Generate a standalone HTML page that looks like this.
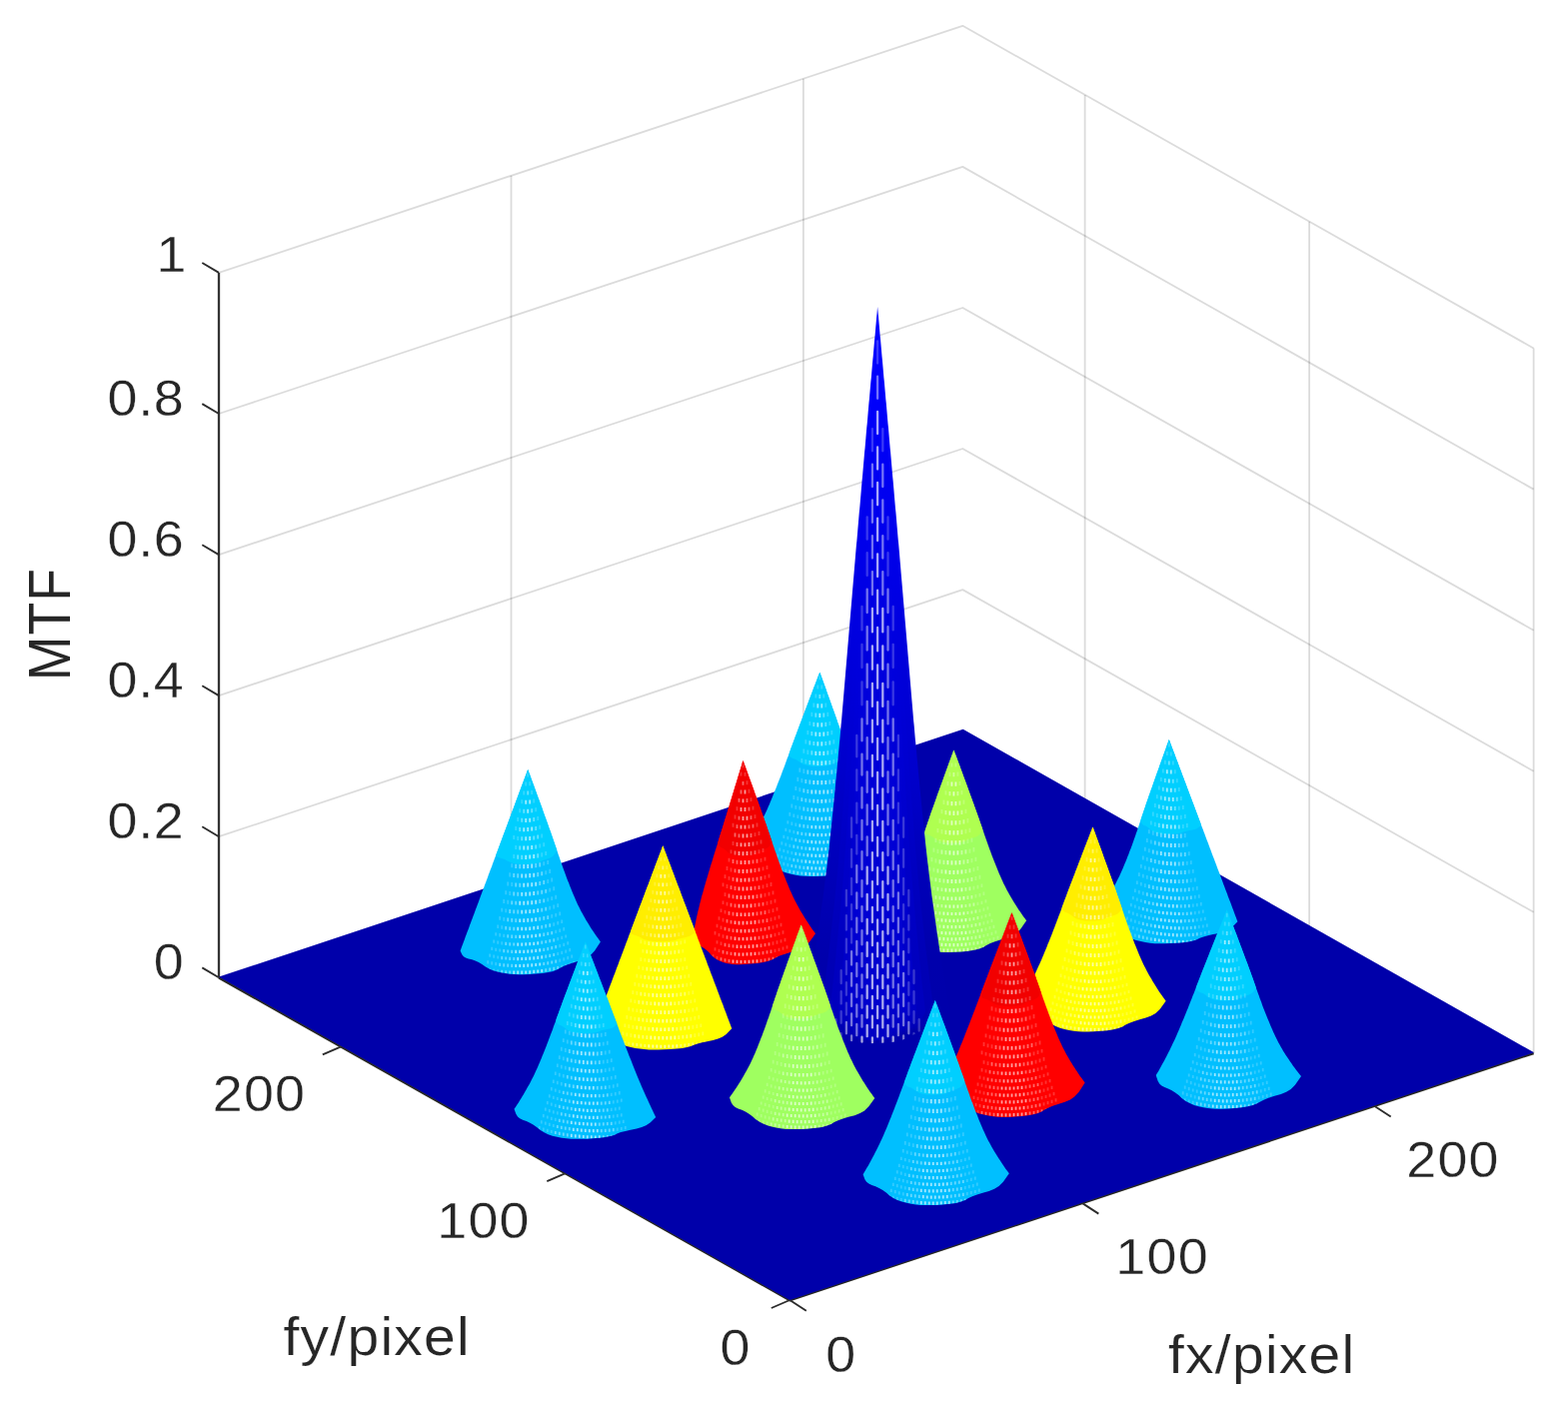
<!DOCTYPE html>
<html lang="en"><head><meta charset="utf-8"><title>MTF</title>
<style>html,body{margin:0;padding:0;background:#fff;overflow:hidden}svg{display:block}</style>
</head><body>
<svg width="1569" height="1402" viewBox="0 0 1569 1402" role="img" aria-label="MTF surface plot">
<defs>
<linearGradient id="cg" gradientUnits="userSpaceOnUse" x1="0" y1="307" x2="0" y2="1045"><stop offset="0.000" stop-color="#0000ff"/><stop offset="0.126" stop-color="#0000fb"/><stop offset="0.262" stop-color="#0000f0"/><stop offset="0.451" stop-color="#0000de"/><stop offset="0.627" stop-color="#0000cc"/><stop offset="0.776" stop-color="#0000b8"/><stop offset="0.885" stop-color="#0000ac"/><stop offset="1.000" stop-color="#0000aa"/></linearGradient>
<linearGradient id="cb" gradientUnits="userSpaceOnUse" x1="0" y1="400" x2="0" y2="1045"><stop offset="0.000" stop-color="#0000e6" stop-opacity="0"/><stop offset="0.388" stop-color="#0000e6" stop-opacity="0.15"/><stop offset="0.620" stop-color="#0000e6" stop-opacity="0.45"/><stop offset="0.775" stop-color="#0000e6" stop-opacity="0.6"/><stop offset="0.930" stop-color="#0000e6" stop-opacity="0.55"/><stop offset="1.000" stop-color="#0000e6" stop-opacity="0.3"/></linearGradient>
</defs>
<rect width="1569" height="1402" fill="#fff"/>
<g fill="none" stroke="#000" stroke-opacity="0.14" stroke-width="1.8" stroke-linejoin="round">
<path d="M219,837.2 L963.3,590.1 L1534.6,912.8"/>
<path d="M219,696.1 L963.3,449 L1534.6,771.7"/>
<path d="M219,555.1 L963.3,308 L1534.6,630.7"/>
<path d="M219,414 L963.3,166.9 L1534.6,489.6"/>
<path d="M219,272.9 L963.3,25.8 L1534.6,348.5"/>
<path d="M511.5,881.2 L511.5,175.8"/>
<path d="M803.9,784.1 L803.9,78.7"/>
<path d="M1310.1,927.1 L1310.1,221.7"/>
<path d="M1085.6,800.3 L1085.6,94.9"/>
<path d="M1534.6,1053.9 L1534.6,348.5"/>
</g>
<path d="M219,978.3 L790.3,1301 L1534.6,1053.9" fill="none" stroke="#262626" stroke-width="2.6" stroke-linejoin="miter"/>
<path d="M219,272.9 L219,978.3" fill="none" stroke="#333" stroke-width="2.3"/>
<path d="M219,978.3 l-16.7,-9.9 M219,837.2 l-16.7,-9.9 M219,696.1 l-16.7,-9.9 M219,555.1 l-16.7,-9.9 M219,414 l-16.7,-9.9 M219,272.9 l-16.7,-9.9 M790.3,1301 l16.5,10.7 M1082.8,1203.9 l16.5,10.7 M1375.2,1106.8 l16.5,10.7 M790.3,1301 l-18.5,8 M565.8,1174.2 l-18.5,8 M341.3,1047.4 l-18.5,8" fill="none" stroke="#2c2c2c" stroke-width="1.9"/>
<polygon points="790.3,1301 1535,1053.3 963.7,729.7 219,977.6" fill="#0000aa"/>
<polygon points="820.3,672.7 819.5,674.9 818.6,677.1 817.8,679.3 816.9,681.5 816.1,683.7 815.3,685.9 814.4,688.1 813.6,690.3 812.7,692.5 811.9,694.7 811.1,696.9 810.2,699.1 809.4,701.3 808.5,703.5 807.7,705.7 806.9,707.9 806,710.1 805.2,712.3 804.4,714.5 803.5,716.8 802.7,719 801.9,721.2 801,723.4 800.2,725.6 799.4,727.8 798.6,730 797.7,732.2 796.9,734.4 796.1,736.6 795.3,738.8 794.4,741 793.6,743.2 792.8,745.4 792,747.6 791.2,749.8 790.4,752 789.6,754.2 788.8,756.4 787.9,758.6 787.1,760.8 786.3,763 785.5,765.2 784.7,767.4 783.9,769.6 783,771.8 782.2,774 781.4,776.2 780.5,778.4 779.7,780.6 778.8,782.8 777.9,785 777.1,787.2 776.2,789.4 775.3,791.6 774.4,793.8 773.5,796 772.6,798.2 771.7,800.4 770.8,802.6 769.9,804.9 768.9,807.1 768,809.3 767,811.5 765.9,813.7 764.9,815.9 763.8,818.1 762.8,820.3 761.7,822.5 760.5,824.7 759.4,826.9 758.2,829.1 757.1,831.3 755.9,833.5 754.7,835.7 753.5,837.9 752.2,840.1 750.9,842.3 749.6,844.5 748.3,846.7 750.1,851.7 751.8,854.2 754.1,855.9 757,857.4 760.7,858.6 764.4,860.3 767.9,862.3 771.4,864.7 774.8,867.5 778.6,870 782.6,872 787,873.6 791.7,874.8 796.4,875.7 801,876.4 805.7,876.8 810.4,877 815.6,877 821.4,876.8 827.7,876.4 834.5,875.8 840.4,874.9 845.4,873.6 849.5,872.1 852.6,870.3 856.4,868.5 861.1,866.8 866.5,865.1 872.6,863.5 877.9,861.4 882.3,858.8 886.4,854.8 892.3,846.7 890.7,844.5 889.1,842.3 887.6,840.1 886.1,837.9 884.7,835.7 883.3,833.5 881.9,831.3 880.6,829.1 879.3,826.9 878,824.7 876.7,822.5 875.5,820.3 874.3,818.1 873.1,815.9 872,813.7 870.9,811.5 869.9,809.3 868.8,807.1 867.9,804.9 866.9,802.6 866,800.4 865.1,798.2 864.2,796 863.3,793.8 862.5,791.6 861.6,789.4 860.8,787.2 859.9,785 859.1,782.8 858.2,780.6 857.4,778.4 856.6,776.2 855.8,774 855.1,771.8 854.3,769.6 853.5,767.4 852.8,765.2 852,763 851.3,760.8 850.5,758.6 849.8,756.4 849,754.2 848.3,752 847.6,749.8 846.8,747.6 846.1,745.4 845.3,743.2 844.6,741 843.8,738.8 843.1,736.6 842.3,734.4 841.5,732.2 840.7,730 840,727.8 839.2,725.6 838.4,723.4 837.6,721.2 836.9,719 836.1,716.8 835.3,714.5 834.5,712.3 833.7,710.1 832.9,707.9 832.2,705.7 831.4,703.5 830.6,701.3 829.8,699.1 829,696.9 828.2,694.7 827.4,692.5 826.7,690.3 825.9,688.1 825.1,685.9 824.3,683.7 823.5,681.5 822.7,679.3 821.9,677.1 821.1,674.9 820.3,672.7" fill="#00bfff"/>
<polygon points="820.3,672.7 819.2,675.5 818.1,678.3 817.1,681.2 816,684 814.9,686.8 813.8,689.6 812.8,692.4 811.7,695.3 810.6,698.1 809.5,700.9 808.5,703.7 807.4,706.5 806.3,709.4 805.3,712.2 804.2,715 803.1,717.8 802.1,720.6 801,723.5 799.9,726.3 798.9,729.1 797.8,731.9 796.8,734.7 795.7,737.6 794.7,740.4 793.6,743.2 792.6,746 791.5,748.8 790.5,751.7 789.5,754.5 790.2,756.5 791,757.6 791.9,758.3 793.2,758.9 794.8,759.4 796.3,760.1 797.9,760.9 799.4,761.9 800.8,763.1 802.4,764.1 804.2,765 806,765.6 808,766.1 810,766.5 812.1,766.8 814.1,767 816.1,767 818.3,767 820.7,767 823.3,766.8 826,766.5 828.4,766.1 830.4,765.6 832,765 833.2,764.2 834.8,763.5 836.6,762.8 838.8,762.1 841.3,761.4 843.4,760.6 845.1,759.5 846.8,757.8 849.1,754.5 848.2,751.7 847.2,748.8 846.3,746 845.3,743.2 844.4,740.4 843.4,737.6 842.4,734.7 841.4,731.9 840.4,729.1 839.4,726.3 838.4,723.5 837.5,720.6 836.5,717.8 835.5,715 834.5,712.2 833.5,709.4 832.4,706.5 831.4,703.7 830.4,700.9 829.4,698.1 828.4,695.3 827.4,692.4 826.4,689.6 825.4,686.8 824.4,684 823.4,681.2 822.3,678.3 821.3,675.5 820.3,672.7" fill="#00cfff"/>
<clipPath id="c1"><polygon points="820.3,672.7 819.5,674.9 818.6,677.1 817.8,679.3 816.9,681.5 816.1,683.7 815.3,685.9 814.4,688.1 813.6,690.3 812.7,692.5 811.9,694.7 811.1,696.9 810.2,699.1 809.4,701.3 808.5,703.5 807.7,705.7 806.9,707.9 806,710.1 805.2,712.3 804.4,714.5 803.5,716.8 802.7,719 801.9,721.2 801,723.4 800.2,725.6 799.4,727.8 798.6,730 797.7,732.2 796.9,734.4 796.1,736.6 795.3,738.8 794.4,741 793.6,743.2 792.8,745.4 792,747.6 791.2,749.8 790.4,752 789.6,754.2 788.8,756.4 787.9,758.6 787.1,760.8 786.3,763 785.5,765.2 784.7,767.4 783.9,769.6 783,771.8 782.2,774 781.4,776.2 780.5,778.4 779.7,780.6 778.8,782.8 777.9,785 777.1,787.2 776.2,789.4 775.3,791.6 774.4,793.8 773.5,796 772.6,798.2 771.7,800.4 770.8,802.6 769.9,804.9 768.9,807.1 768,809.3 767,811.5 765.9,813.7 764.9,815.9 763.8,818.1 762.8,820.3 761.7,822.5 760.5,824.7 759.4,826.9 758.2,829.1 757.1,831.3 755.9,833.5 754.7,835.7 753.5,837.9 752.2,840.1 750.9,842.3 749.6,844.5 748.3,846.7 750.1,851.7 751.8,854.2 754.1,855.9 757,857.4 760.7,858.6 764.4,860.3 767.9,862.3 771.4,864.7 774.8,867.5 778.6,870 782.6,872 787,873.6 791.7,874.8 796.4,875.7 801,876.4 805.7,876.8 810.4,877 815.6,877 821.4,876.8 827.7,876.4 834.5,875.8 840.4,874.9 845.4,873.6 849.5,872.1 852.6,870.3 856.4,868.5 861.1,866.8 866.5,865.1 872.6,863.5 877.9,861.4 882.3,858.8 886.4,854.8 892.3,846.7 890.7,844.5 889.1,842.3 887.6,840.1 886.1,837.9 884.7,835.7 883.3,833.5 881.9,831.3 880.6,829.1 879.3,826.9 878,824.7 876.7,822.5 875.5,820.3 874.3,818.1 873.1,815.9 872,813.7 870.9,811.5 869.9,809.3 868.8,807.1 867.9,804.9 866.9,802.6 866,800.4 865.1,798.2 864.2,796 863.3,793.8 862.5,791.6 861.6,789.4 860.8,787.2 859.9,785 859.1,782.8 858.2,780.6 857.4,778.4 856.6,776.2 855.8,774 855.1,771.8 854.3,769.6 853.5,767.4 852.8,765.2 852,763 851.3,760.8 850.5,758.6 849.8,756.4 849,754.2 848.3,752 847.6,749.8 846.8,747.6 846.1,745.4 845.3,743.2 844.6,741 843.8,738.8 843.1,736.6 842.3,734.4 841.5,732.2 840.7,730 840,727.8 839.2,725.6 838.4,723.4 837.6,721.2 836.9,719 836.1,716.8 835.3,714.5 834.5,712.3 833.7,710.1 832.9,707.9 832.2,705.7 831.4,703.5 830.6,701.3 829.8,699.1 829,696.9 828.2,694.7 827.4,692.5 826.7,690.3 825.9,688.1 825.1,685.9 824.3,683.7 823.5,681.5 822.7,679.3 821.9,677.1 821.1,674.9 820.3,672.7"/></clipPath>
<g fill="none" stroke="#fff" stroke-width="1.8" clip-path="url(#c1)">
<path d="M818.3,704.3v4.2M822.3,704.3v4.2M820.3,713.8v4.2M818.3,723.2v4.2M822.3,723.2v4.2M816.3,732.6v4.2M820.3,732.7v4.2M824.3,732.6v4.2M818.3,742.2v4.2M822.3,742.2v4.2M816.3,751.7v4.3M820.3,751.8v4.3M824.3,751.7v4.3M814.3,761.3v4.3M818.3,761.6v4.3M822.3,761.6v4.3M826.3,761.3v4.3M816.3,771.3v4.3M820.3,771.4v4.3M824.3,771.3v4.3M814.3,780.9v4.2M818.3,781.1v4.2M822.3,781.1v4.2M826.3,780.9v4.2M812.3,790.4v4M816.3,790.6v4M820.3,790.7v4M824.3,790.6v4M828.3,790.4v4M814.3,799.7v3.9M818.3,799.9v3.9M822.3,799.9v3.9M826.3,799.7v3.9M812.3,808.6v3.8M816.3,808.8v3.8M820.3,808.9v3.8M824.3,808.8v3.8M828.3,808.6v3.8M810.3,817.2v3.7M814.3,817.5v3.7M818.3,817.7v3.7M822.3,817.7v3.7M826.3,817.5v3.7M830.3,817.2v3.7M812.3,825.9v3.4M816.3,826.1v3.4M820.3,826.2v3.4M824.3,826.1v3.4M828.3,825.9v3.4M810.3,833.6v3.2M814.3,833.9v3.2M818.3,834v3.2M822.3,834v3.2M826.3,833.9v3.2M830.3,833.6v3.2M808.3,840.8v3.2M812.3,841.1v3.2M816.3,841.2v3.2M820.3,841.3v3.2M824.3,841.2v3.2M828.3,841.1v3.2M832.3,840.8v3.2M810.3,847.8v3.2M814.3,848.1v3.2M818.3,848.2v3.2M822.3,848.2v3.2M826.3,848.1v3.2M830.3,847.8v3.2M808.3,854.3v3.2M812.3,854.6v3.2M816.3,854.8v3.2M820.3,854.8v3.2M824.3,854.8v3.2M828.3,854.6v3.2M832.3,854.3v3.2M806.3,860.6v3.2M810.3,860.9v3.2M814.3,861.2v3.2M818.3,861.3v3.2M822.3,861.3v3.2M826.3,861.2v3.2M830.3,860.9v3.2M834.3,860.6v3.2M808.3,867v3.2M812.3,867.3v3.2M816.3,867.4v3.2M820.3,867.5v3.2M824.3,867.4v3.2M828.3,867.3v3.2M832.3,867v3.2M806.3,872.8v3.2M810.3,873.1v3.2M814.3,873.3v3.2M818.3,873.4v3.2M822.3,873.4v3.2M826.3,873.3v3.2M830.3,873.1v3.2M834.3,872.8v3.2" stroke-opacity="0.62"/>
<path d="M820.3,695v4.1M816.3,713.6v4.2M824.3,713.6v4.2M814.3,722.8v4.2M826.3,722.8v4.2M812.3,732v4.2M828.3,732v4.2M810.3,741.2v4.2M814.3,741.9v4.2M826.3,741.9v4.2M830.3,741.2v4.2M812.3,751.3v4.3M828.3,751.3v4.3M810.3,760.9v4.3M830.3,760.9v4.3M808.3,770.4v4.3M812.3,771v4.3M828.3,771v4.3M832.3,770.4v4.3M806.3,779.9v4.2M810.3,780.5v4.2M830.3,780.5v4.2M834.3,779.9v4.2M804.3,789.2v4M808.3,789.9v4M832.3,789.9v4M836.3,789.2v4M802.3,798.2v3.9M806.3,798.9v3.9M810.3,799.4v3.9M830.3,799.4v3.9M834.3,798.9v3.9M838.3,798.2v3.9M804.3,807.6v3.8M808.3,808.2v3.8M832.3,808.2v3.8M836.3,807.6v3.8M802.3,816.2v3.7M806.3,816.8v3.7M834.3,816.8v3.7M838.3,816.2v3.7M800.3,824.4v3.4M804.3,825v3.4M808.3,825.5v3.4M832.3,825.5v3.4M836.3,825v3.4M840.3,824.4v3.4M798.3,832v3.2M802.3,832.7v3.2M806.3,833.2v3.2M834.3,833.2v3.2M838.3,832.7v3.2M842.3,832v3.2M796.3,839v3.2M800.3,839.7v3.2M804.3,840.3v3.2M836.3,840.3v3.2M840.3,839.7v3.2M844.3,839v3.2M794.3,845.6v3.2M798.3,846.4v3.2M802.3,847v3.2M806.3,847.5v3.2M834.3,847.5v3.2M838.3,847v3.2M842.3,846.4v3.2M846.3,845.6v3.2M796.3,852.8v3.2M800.3,853.4v3.2M804.3,853.9v3.2M836.3,853.9v3.2M840.3,853.4v3.2M844.3,852.8v3.2M794.3,859v3.2M798.3,859.6v3.2M802.3,860.2v3.2M838.3,860.2v3.2M842.3,859.6v3.2M846.3,859v3.2M792.3,864.9v3.2M796.3,865.6v3.2M800.3,866.2v3.2M804.3,866.7v3.2M836.3,866.7v3.2M840.3,866.2v3.2M844.3,865.6v3.2M848.3,864.9v3.2M790.3,870.6v3.2M794.3,871.3v3.2M798.3,871.9v3.2M802.3,872.4v3.2M838.3,872.4v3.2M842.3,871.9v3.2M846.3,871.3v3.2M850.3,870.6v3.2" stroke-opacity="0.4"/>
<path d="M820.3,676.2v4.1M818.3,685.4v4.1M822.3,685.4v4.1M816.3,694.5v4.1M824.3,694.5v4.1M814.3,703.6v4.2M826.3,703.6v4.2M812.3,712.7v4.2M828.3,712.7v4.2M810.3,721.9v4.2M830.3,721.9v4.2M808.3,731v4.2M832.3,731v4.2M806.3,740.2v4.2M834.3,740.2v4.2M804.3,749.5v4.3M808.3,750.6v4.3M832.3,750.6v4.3M836.3,749.5v4.3M802.3,758.9v4.3M806.3,760.1v4.3M834.3,760.1v4.3M838.3,758.9v4.3M800.3,768.4v4.3M804.3,769.6v4.3M836.3,769.6v4.3M840.3,768.4v4.3M798.3,777.8v4.2M802.3,779v4.2M838.3,779v4.2M842.3,777.8v4.2M796.3,787.1v4M800.3,788.3v4M840.3,788.3v4M844.3,787.1v4M794.3,796v3.9M798.3,797.2v3.9M842.3,797.2v3.9M846.3,796v3.9M792.3,804.6v3.8M796.3,805.9v3.8M800.3,806.8v3.8M840.3,806.8v3.8M844.3,805.9v3.8M848.3,804.6v3.8M790.3,813.1v3.7M794.3,814.4v3.7M798.3,815.4v3.7M842.3,815.4v3.7M846.3,814.4v3.7M850.3,813.1v3.7M788.3,821.2v3.4M792.3,822.5v3.4M796.3,823.5v3.4M844.3,823.5v3.4M848.3,822.5v3.4M852.3,821.2v3.4M786.3,828.8v3.2M790.3,830.1v3.2M794.3,831.1v3.2M846.3,831.1v3.2M850.3,830.1v3.2M854.3,828.8v3.2M784.3,835.7v3.2M788.3,837v3.2M792.3,838.1v3.2M848.3,838.1v3.2M852.3,837v3.2M856.3,835.7v3.2M782.3,842.3v3.2M786.3,843.6v3.2M790.3,844.7v3.2M850.3,844.7v3.2M854.3,843.6v3.2M858.3,842.3v3.2M780.3,848.6v3.2M784.3,849.9v3.2M788.3,851v3.2M792.3,852v3.2M848.3,852v3.2M852.3,851v3.2M856.3,849.9v3.2M860.3,848.6v3.2M778.3,854.7v3.2M782.3,856v3.2M786.3,857.2v3.2M790.3,858.1v3.2M850.3,858.1v3.2M854.3,857.2v3.2M858.3,856v3.2M862.3,854.7v3.2M776.3,860.6v3.2M780.3,861.9v3.2M784.3,863.1v3.2M788.3,864.1v3.2M852.3,864.1v3.2M856.3,863.1v3.2M860.3,861.9v3.2M864.3,860.6v3.2M774.3,866.2v3.2M778.3,867.5v3.2M782.3,868.7v3.2M786.3,869.7v3.2M854.3,869.7v3.2M858.3,868.7v3.2M862.3,867.5v3.2M866.3,866.2v3.2" stroke-opacity="0.2"/>
</g>
<polygon points="1169.8,740 1169,742.2 1168.2,744.4 1167.4,746.5 1166.7,748.7 1165.9,750.9 1165.1,753.1 1164.3,755.2 1163.5,757.4 1162.8,759.6 1162,761.8 1161.2,763.9 1160.4,766.1 1159.7,768.3 1158.9,770.5 1158.1,772.7 1157.3,774.8 1156.6,777 1155.8,779.2 1155,781.4 1154.2,783.5 1153.5,785.7 1152.7,787.9 1151.9,790.1 1151.2,792.3 1150.4,794.4 1149.6,796.6 1148.9,798.8 1148.1,801 1147.4,803.1 1146.6,805.3 1145.9,807.5 1145.1,809.7 1144.4,811.8 1143.7,814 1142.9,816.2 1142.2,818.4 1141.5,820.6 1140.7,822.7 1140,824.9 1139.3,827.1 1138.5,829.3 1137.8,831.4 1137,833.6 1136.3,835.8 1135.5,838 1134.7,840.2 1134,842.3 1133.2,844.5 1132.4,846.7 1131.6,848.9 1130.7,851 1129.9,853.2 1129.1,855.4 1128.2,857.6 1127.4,859.7 1126.5,861.9 1125.6,864.1 1124.7,866.3 1123.8,868.5 1122.9,870.6 1121.9,872.8 1120.9,875 1119.9,877.2 1118.8,879.3 1117.7,881.5 1116.6,883.7 1115.4,885.9 1114.2,888.1 1112.9,890.2 1111.6,892.4 1110.3,894.6 1109,896.8 1107.7,898.9 1106.3,901.1 1104.9,903.3 1103.4,905.5 1101.9,907.6 1100.4,909.8 1098.8,912 1100.6,917.4 1102.3,920.2 1104.5,922.1 1107.4,923.8 1111.1,925.3 1114.7,927.1 1118.2,929.3 1121.6,931.9 1125,934.8 1128.7,937.3 1132.7,939.4 1137,941 1141.6,942.1 1146.2,943.1 1150.8,943.7 1155.4,944.2 1160,944.3 1165.2,944.3 1170.8,944.1 1176.8,943.8 1183.3,943.3 1189,942.5 1193.7,941.5 1197.6,940.3 1200.5,938.8 1204.2,937.4 1208.6,936.2 1213.8,935 1219.7,933.9 1224.7,932.5 1228.9,930.7 1232.8,927.9 1238.4,922.3 1237.5,920 1236.7,917.7 1235.8,915.4 1234.9,913.1 1234.1,910.8 1233.2,908.5 1232.3,906.1 1231.5,903.8 1230.6,901.5 1229.7,899.2 1228.8,896.9 1228,894.6 1227.1,892.3 1226.2,890 1225.4,887.7 1224.5,885.4 1223.6,883.1 1222.8,880.8 1221.9,878.5 1221,876.1 1220.2,873.8 1219.3,871.5 1218.4,869.2 1217.6,866.9 1216.7,864.6 1215.8,862.3 1215,860 1214.1,857.7 1213.2,855.4 1212.3,853.1 1211.5,850.8 1210.6,848.5 1209.7,846.1 1208.9,843.8 1208,841.5 1207.1,839.2 1206.3,836.9 1205.4,834.6 1204.5,832.3 1203.7,830 1202.8,827.7 1201.9,825.4 1201.1,823.1 1200.2,820.8 1199.3,818.5 1198.5,816.2 1197.6,813.8 1196.7,811.5 1195.9,809.2 1195,806.9 1194.1,804.6 1193.2,802.3 1192.4,800 1191.5,797.7 1190.6,795.4 1189.8,793.1 1188.9,790.8 1188,788.5 1187.2,786.2 1186.3,783.8 1185.4,781.5 1184.6,779.2 1183.7,776.9 1182.8,774.6 1182,772.3 1181.1,770 1180.2,767.7 1179.4,765.4 1178.5,763.1 1177.6,760.8 1176.7,758.5 1175.9,756.2 1175,753.8 1174.1,751.5 1173.3,749.2 1172.4,746.9 1171.5,744.6 1170.7,742.3 1169.8,740" fill="#00bfff"/>
<polygon points="1169.8,740 1168.8,742.8 1167.8,745.6 1166.8,748.4 1165.8,751.2 1164.8,753.9 1163.8,756.7 1162.8,759.5 1161.8,762.3 1160.8,765.1 1159.8,767.9 1158.8,770.7 1157.8,773.5 1156.8,776.2 1155.8,779 1154.9,781.8 1153.9,784.6 1152.9,787.4 1151.9,790.2 1150.9,793 1149.9,795.8 1149,798.5 1148,801.3 1147,804.1 1146.1,806.9 1145.1,809.7 1144.2,812.5 1143.2,815.3 1142.3,818.1 1141.4,820.8 1142.1,823.2 1142.7,824.4 1143.6,825.2 1144.8,825.9 1146.3,826.5 1147.7,827.3 1149.1,828.3 1150.5,829.4 1151.8,830.7 1153.3,831.7 1154.9,832.6 1156.6,833.3 1158.5,833.8 1160.3,834.2 1162.2,834.5 1164,834.7 1165.9,834.8 1168,834.8 1170.3,834.8 1173.1,834.6 1176.2,834.4 1178.8,834.1 1181,833.7 1182.9,833.2 1184.2,832.6 1186,832 1188.1,831.5 1190.5,831 1193.2,830.5 1195.6,829.9 1197.6,829.2 1199.4,828 1202,825.7 1200.9,822.7 1199.8,819.8 1198.7,816.8 1197.6,813.9 1196.5,810.9 1195.4,808 1194.3,805 1193.1,802 1192,799.1 1190.9,796.1 1189.8,793.2 1188.7,790.2 1187.6,787.3 1186.5,784.3 1185.4,781.4 1184.3,778.4 1183.1,775.5 1182,772.5 1180.9,769.5 1179.8,766.6 1178.7,763.6 1177.6,760.7 1176.5,757.7 1175.4,754.8 1174.2,751.8 1173.1,748.9 1172,745.9 1170.9,743 1169.8,740" fill="#00cfff"/>
<clipPath id="c2"><polygon points="1169.8,740 1169,742.2 1168.2,744.4 1167.4,746.5 1166.7,748.7 1165.9,750.9 1165.1,753.1 1164.3,755.2 1163.5,757.4 1162.8,759.6 1162,761.8 1161.2,763.9 1160.4,766.1 1159.7,768.3 1158.9,770.5 1158.1,772.7 1157.3,774.8 1156.6,777 1155.8,779.2 1155,781.4 1154.2,783.5 1153.5,785.7 1152.7,787.9 1151.9,790.1 1151.2,792.3 1150.4,794.4 1149.6,796.6 1148.9,798.8 1148.1,801 1147.4,803.1 1146.6,805.3 1145.9,807.5 1145.1,809.7 1144.4,811.8 1143.7,814 1142.9,816.2 1142.2,818.4 1141.5,820.6 1140.7,822.7 1140,824.9 1139.3,827.1 1138.5,829.3 1137.8,831.4 1137,833.6 1136.3,835.8 1135.5,838 1134.7,840.2 1134,842.3 1133.2,844.5 1132.4,846.7 1131.6,848.9 1130.7,851 1129.9,853.2 1129.1,855.4 1128.2,857.6 1127.4,859.7 1126.5,861.9 1125.6,864.1 1124.7,866.3 1123.8,868.5 1122.9,870.6 1121.9,872.8 1120.9,875 1119.9,877.2 1118.8,879.3 1117.7,881.5 1116.6,883.7 1115.4,885.9 1114.2,888.1 1112.9,890.2 1111.6,892.4 1110.3,894.6 1109,896.8 1107.7,898.9 1106.3,901.1 1104.9,903.3 1103.4,905.5 1101.9,907.6 1100.4,909.8 1098.8,912 1100.6,917.4 1102.3,920.2 1104.5,922.1 1107.4,923.8 1111.1,925.3 1114.7,927.1 1118.2,929.3 1121.6,931.9 1125,934.8 1128.7,937.3 1132.7,939.4 1137,941 1141.6,942.1 1146.2,943.1 1150.8,943.7 1155.4,944.2 1160,944.3 1165.2,944.3 1170.8,944.1 1176.8,943.8 1183.3,943.3 1189,942.5 1193.7,941.5 1197.6,940.3 1200.5,938.8 1204.2,937.4 1208.6,936.2 1213.8,935 1219.7,933.9 1224.7,932.5 1228.9,930.7 1232.8,927.9 1238.4,922.3 1237.5,920 1236.7,917.7 1235.8,915.4 1234.9,913.1 1234.1,910.8 1233.2,908.5 1232.3,906.1 1231.5,903.8 1230.6,901.5 1229.7,899.2 1228.8,896.9 1228,894.6 1227.1,892.3 1226.2,890 1225.4,887.7 1224.5,885.4 1223.6,883.1 1222.8,880.8 1221.9,878.5 1221,876.1 1220.2,873.8 1219.3,871.5 1218.4,869.2 1217.6,866.9 1216.7,864.6 1215.8,862.3 1215,860 1214.1,857.7 1213.2,855.4 1212.3,853.1 1211.5,850.8 1210.6,848.5 1209.7,846.1 1208.9,843.8 1208,841.5 1207.1,839.2 1206.3,836.9 1205.4,834.6 1204.5,832.3 1203.7,830 1202.8,827.7 1201.9,825.4 1201.1,823.1 1200.2,820.8 1199.3,818.5 1198.5,816.2 1197.6,813.8 1196.7,811.5 1195.9,809.2 1195,806.9 1194.1,804.6 1193.2,802.3 1192.4,800 1191.5,797.7 1190.6,795.4 1189.8,793.1 1188.9,790.8 1188,788.5 1187.2,786.2 1186.3,783.8 1185.4,781.5 1184.6,779.2 1183.7,776.9 1182.8,774.6 1182,772.3 1181.1,770 1180.2,767.7 1179.4,765.4 1178.5,763.1 1177.6,760.8 1176.7,758.5 1175.9,756.2 1175,753.8 1174.1,751.5 1173.3,749.2 1172.4,746.9 1171.5,744.6 1170.7,742.3 1169.8,740"/></clipPath>
<g fill="none" stroke="#fff" stroke-width="1.8" clip-path="url(#c2)">
<path d="M1167.8,770.3v4M1171.8,770.6v4M1169.8,779.6v4M1167.8,788.5v4M1171.8,788.8v4M1165.8,797.3v4M1169.8,797.8v4M1173.8,798v4M1167.8,806.7v4M1171.8,807v4M1165.8,815.6v4.1M1169.8,816.1v4.1M1173.8,816.3v4.1M1163.8,824.6v4.1M1167.8,825.1v4.1M1171.8,825.4v4.1M1175.8,825.5v4.1M1165.8,834.2v4.1M1169.8,834.6v4.1M1173.8,834.8v4.1M1163.8,843.2v4M1167.8,843.7v4M1171.8,844v4M1175.8,844.1v4M1161.8,852.1v4M1165.8,852.7v4M1169.8,853.1v4M1173.8,853.3v4M1163.8,861.5v3.9M1167.8,862v3.9M1171.8,862.3v3.9M1175.8,862.5v3.9M1161.8,870.1v3.8M1165.8,870.7v3.8M1169.8,871.1v3.8M1173.8,871.3v3.8M1177.8,871.4v3.8M1159.8,878.6v3.8M1163.8,879.2v3.8M1167.8,879.7v3.8M1171.8,880v3.8M1175.8,880.2v3.8M1161.8,887.6v3.7M1165.8,888.1v3.7M1169.8,888.5v3.7M1173.8,888.7v3.7M1177.8,888.9v3.7M1159.8,895.7v3.5M1163.8,896.3v3.5M1167.8,896.7v3.5M1171.8,897v3.5M1175.8,897.2v3.5M1179.8,897.3v3.5M1157.8,903.4v3.3M1161.8,904v3.3M1165.8,904.5v3.3M1169.8,904.9v3.3M1173.8,905.1v3.3M1177.8,905.3v3.3M1159.8,911.4v3.2M1163.8,911.9v3.2M1167.8,912.3v3.2M1171.8,912.6v3.2M1175.8,912.8v3.2M1179.8,912.9v3.2M1157.8,918.4v3.2M1161.8,919v3.2M1165.8,919.4v3.2M1169.8,919.8v3.2M1173.8,920v3.2M1177.8,920.2v3.2M1181.8,920.2v3.2M1155.8,925.2v3.2M1159.8,925.8v3.2M1163.8,926.3v3.2M1167.8,926.7v3.2M1171.8,927v3.2M1175.8,927.2v3.2M1179.8,927.3v3.2M1157.8,932.5v3.2M1161.8,933v3.2M1165.8,933.4v3.2M1169.8,933.8v3.2M1173.8,934v3.2M1177.8,934.2v3.2M1181.8,934.2v3.2M1155.8,938.8v3.2M1159.8,939.4v3.2M1163.8,939.9v3.2M1167.8,940.3v3.2M1171.8,940.6v3.2M1175.8,940.8v3.2M1179.8,940.9v3.2M1183.8,940.9v3.2" stroke-opacity="0.62"/>
<path d="M1169.8,761.5v4M1165.8,779.1v4M1173.8,779.7v4M1163.8,787.8v4M1175.8,788.7v4M1161.8,796.5v4M1177.8,797.7v4M1159.8,805.2v4M1163.8,806.1v4M1175.8,807.1v4M1161.8,814.9v4.1M1177.8,816.2v4.1M1159.8,823.8v4.1M1179.8,825.4v4.1M1157.8,832.7v4.1M1161.8,833.6v4.1M1177.8,834.8v4.1M1181.8,834.6v4.1M1155.8,841.6v4M1159.8,842.5v4M1179.8,844.1v4M1183.8,843.8v4M1153.8,850.4v4M1157.8,851.4v4M1177.8,853.4v4M1181.8,853.2v4M1185.8,852.9v4M1151.8,859.1v3.9M1155.8,860.1v3.9M1159.8,860.9v3.9M1179.8,862.5v3.9M1183.8,862.3v3.9M1153.8,868.6v3.8M1157.8,869.5v3.8M1181.8,871.3v3.8M1185.8,871.1v3.8M1151.8,877v3.8M1155.8,877.9v3.8M1179.8,880.2v3.8M1183.8,880.1v3.8M1187.8,879.8v3.8M1149.8,885.3v3.7M1153.8,886.2v3.7M1157.8,887v3.7M1181.8,888.8v3.7M1185.8,888.7v3.7M1189.8,888.3v3.7M1147.8,893.3v3.5M1151.8,894.3v3.5M1155.8,895.1v3.5M1183.8,897.2v3.5M1187.8,897v3.5M1191.8,896.6v3.5M1145.8,900.9v3.3M1149.8,901.9v3.3M1153.8,902.7v3.3M1181.8,905.3v3.3M1185.8,905.1v3.3M1189.8,904.9v3.3M1143.8,908.1v3.2M1147.8,909.1v3.2M1151.8,910v3.2M1155.8,910.7v3.2M1183.8,912.9v3.2M1187.8,912.7v3.2M1191.8,912.4v3.2M1145.8,916.1v3.2M1149.8,917v3.2M1153.8,917.7v3.2M1185.8,920.1v3.2M1189.8,919.9v3.2M1193.8,919.6v3.2M1143.8,922.8v3.2M1147.8,923.7v3.2M1151.8,924.5v3.2M1183.8,927.3v3.2M1187.8,927.2v3.2M1191.8,926.9v3.2M1195.8,926.6v3.2M1141.8,929.3v3.2M1145.8,930.3v3.2M1149.8,931.1v3.2M1153.8,931.8v3.2M1185.8,934.2v3.2M1189.8,934v3.2M1193.8,933.7v3.2M1197.8,933.3v3.2M1139.8,935.6v3.2M1143.8,936.6v3.2M1147.8,937.4v3.2M1151.8,938.2v3.2M1187.8,940.8v3.2M1191.8,940.6v3.2M1195.8,940.3v3.2M1199.8,939.9v3.2" stroke-opacity="0.4"/>
<path d="M1169.8,743.4v4M1167.8,752.1v4M1171.8,752.4v4M1165.8,760.8v4M1173.8,761.4v4M1163.8,769.4v4M1175.8,770.3v4M1161.8,778v4M1177.8,779.2v4M1159.8,786.6v4M1179.8,788.1v4M1157.8,795.3v4M1181.8,797.1v4M1155.8,803.9v4M1179.8,806.8v4M1183.8,806v4M1153.8,812.6v4.1M1157.8,814v4.1M1181.8,815.8v4.1M1185.8,815v4.1M1151.8,821.4v4.1M1155.8,822.8v4.1M1183.8,824.9v4.1M1187.8,824.1v4.1M1149.8,830.2v4.1M1153.8,831.6v4.1M1185.8,834.1v4.1M1147.8,839.1v4M1151.8,840.5v4M1187.8,843.2v4M1145.8,847.8v4M1149.8,849.3v4M1189.8,852.3v4M1143.8,856.5v3.9M1147.8,857.9v3.9M1187.8,861.9v3.9M1191.8,861.2v3.9M1141.8,864.9v3.8M1145.8,866.4v3.8M1149.8,867.6v3.8M1189.8,870.6v3.8M1193.8,870v3.8M1139.8,873.2v3.8M1143.8,874.7v3.8M1147.8,876v3.8M1191.8,879.3v3.8M1195.8,878.6v3.8M1137.8,881.4v3.7M1141.8,882.9v3.7M1145.8,884.2v3.7M1193.8,887.8v3.7M1197.8,887.1v3.7M1135.8,889.4v3.5M1139.8,890.9v3.5M1143.8,892.2v3.5M1195.8,896.1v3.5M1199.8,895.3v3.5M1133.8,896.9v3.3M1137.8,898.4v3.3M1141.8,899.7v3.3M1193.8,904.5v3.3M1197.8,903.9v3.3M1201.8,903.1v3.3M1131.8,904.1v3.2M1135.8,905.6v3.2M1139.8,907v3.2M1195.8,912v3.2M1199.8,911.4v3.2M1203.8,910.6v3.2M1129.8,911v3.2M1133.8,912.5v3.2M1137.8,913.8v3.2M1141.8,915v3.2M1197.8,919.1v3.2M1201.8,918.5v3.2M1205.8,917.7v3.2M1127.8,917.6v3.2M1131.8,919.2v3.2M1135.8,920.5v3.2M1139.8,921.7v3.2M1199.8,926.1v3.2M1203.8,925.4v3.2M1207.8,924.6v3.2M1125.8,924.1v3.2M1129.8,925.7v3.2M1133.8,927v3.2M1137.8,928.2v3.2M1201.8,932.8v3.2M1205.8,932.1v3.2M1209.8,931.3v3.2M1123.8,930.4v3.2M1127.8,931.9v3.2M1131.8,933.3v3.2M1135.8,934.5v3.2M1203.8,939.3v3.2M1207.8,938.6v3.2M1211.8,937.7v3.2" stroke-opacity="0.2"/>
</g>
<polygon points="954.4,750.5 953.6,752.7 952.8,754.9 952,757 951.2,759.2 950.4,761.4 949.6,763.6 948.8,765.7 948,767.9 947.3,770.1 946.5,772.3 945.7,774.4 944.9,776.6 944.1,778.8 943.3,781 942.5,783.2 941.8,785.3 941,787.5 940.2,789.7 939.4,791.9 938.6,794 937.8,796.2 937.1,798.4 936.3,800.6 935.5,802.8 934.7,804.9 934,807.1 933.2,809.3 932.4,811.5 931.6,813.6 930.9,815.8 930.1,818 929.4,820.2 928.6,822.3 927.9,824.5 927.1,826.7 926.4,828.9 925.7,831.1 924.9,833.2 924.2,835.4 923.4,837.6 922.7,839.8 921.9,841.9 921.2,844.1 920.4,846.3 919.6,848.5 918.9,850.7 918.1,852.8 917.3,855 916.5,857.2 915.6,859.4 914.8,861.5 913.9,863.7 913.1,865.9 912.2,868.1 911.4,870.2 910.5,872.4 909.6,874.6 908.7,876.8 907.8,879 906.8,881.1 905.9,883.3 904.8,885.5 903.8,887.7 902.7,889.8 901.6,892 900.4,894.2 899.2,896.4 898,898.6 896.7,900.7 895.4,902.9 894.1,905.1 892.8,907.3 891.4,909.4 890,911.6 888.6,913.8 887.1,916 885.6,918.1 884,920.3 882.4,922.5 884.2,927.5 885.9,930 888.2,931.8 891.1,933.2 894.8,934.4 898.5,936.1 902,938.1 905.5,940.5 908.9,943.4 912.7,945.9 916.7,947.9 921.1,949.5 925.8,950.7 930.5,951.7 935.1,952.4 939.8,952.8 944.5,953 949.7,953 955.5,952.8 961.9,952.4 968.8,951.7 974.7,950.8 979.7,949.5 983.8,947.9 987,946 990.9,944.1 995.6,942.3 1001,940.6 1007.2,938.9 1012.6,936.7 1017,933.9 1021.2,929.7 1027.1,921.2 1025.5,919 1023.9,916.9 1022.4,914.7 1020.9,912.6 1019.4,910.4 1018,908.2 1016.6,906.1 1015.3,903.9 1013.9,901.8 1012.6,899.6 1011.4,897.4 1010.1,895.3 1008.9,893.1 1007.7,890.9 1006.6,888.8 1005.5,886.6 1004.4,884.5 1003.4,882.3 1002.4,880.1 1001.5,878 1000.5,875.8 999.6,873.7 998.7,871.5 997.8,869.3 997,867.2 996.1,865 995.3,862.9 994.4,860.7 993.5,858.5 992.7,856.4 991.9,854.2 991.1,852.1 990.3,849.9 989.5,847.7 988.7,845.6 988,843.4 987.2,841.3 986.4,839.1 985.7,836.9 984.9,834.8 984.2,832.6 983.4,830.4 982.7,828.3 981.9,826.1 981.2,824 980.4,821.8 979.7,819.6 978.9,817.5 978.1,815.3 977.4,813.2 976.6,811 975.8,808.8 975,806.7 974.3,804.5 973.5,802.4 972.7,800.2 971.9,798 971.1,795.9 970.3,793.7 969.5,791.6 968.8,789.4 968,787.2 967.2,785.1 966.4,782.9 965.6,780.8 964.8,778.6 964,776.4 963.2,774.3 962.4,772.1 961.6,769.9 960.8,767.8 960,765.6 959.2,763.5 958.4,761.3 957.6,759.1 956.8,757 956,754.8 955.2,752.7 954.4,750.5" fill="#9fff60"/>
<polygon points="954.4,750.5 953.4,753.3 952.4,756.1 951.3,758.9 950.3,761.7 949.3,764.4 948.3,767.2 947.3,770 946.3,772.8 945.3,775.6 944.3,778.4 943.3,781.2 942.3,784 941.2,786.7 940.2,789.5 939.2,792.3 938.2,795.1 937.2,797.9 936.3,800.7 935.3,803.5 934.3,806.3 933.3,809 932.3,811.8 931.3,814.6 930.3,817.4 929.4,820.2 928.4,823 927.5,825.8 926.5,828.6 925.6,831.3 926.3,833.3 927,834.3 927.9,835 929.1,835.6 930.5,836.1 932,836.7 933.4,837.6 934.8,838.5 936.2,839.7 937.7,840.6 939.3,841.5 941.1,842.1 942.9,842.6 944.8,843 946.7,843.2 948.6,843.4 950.4,843.5 952.5,843.5 954.8,843.4 957.4,843.2 960.2,843 962.5,842.6 964.6,842.1 966.2,841.4 967.4,840.7 969,839.9 970.9,839.2 973.1,838.5 975.6,837.8 977.7,836.9 979.5,835.8 981.1,834.1 983.5,830.7 982.6,828 981.6,825.2 980.6,822.4 979.7,819.7 978.7,816.9 977.7,814.1 976.7,811.4 975.7,808.6 974.7,805.8 973.7,803.1 972.7,800.3 971.7,797.5 970.7,794.8 969.7,792 968.7,789.2 967.7,786.5 966.7,783.7 965.7,780.9 964.6,778.2 963.6,775.4 962.6,772.6 961.6,769.9 960.6,767.1 959.5,764.3 958.5,761.6 957.5,758.8 956.5,756 955.4,753.3 954.4,750.5" fill="#afff50"/>
<clipPath id="c3"><polygon points="954.4,750.5 953.6,752.7 952.8,754.9 952,757 951.2,759.2 950.4,761.4 949.6,763.6 948.8,765.7 948,767.9 947.3,770.1 946.5,772.3 945.7,774.4 944.9,776.6 944.1,778.8 943.3,781 942.5,783.2 941.8,785.3 941,787.5 940.2,789.7 939.4,791.9 938.6,794 937.8,796.2 937.1,798.4 936.3,800.6 935.5,802.8 934.7,804.9 934,807.1 933.2,809.3 932.4,811.5 931.6,813.6 930.9,815.8 930.1,818 929.4,820.2 928.6,822.3 927.9,824.5 927.1,826.7 926.4,828.9 925.7,831.1 924.9,833.2 924.2,835.4 923.4,837.6 922.7,839.8 921.9,841.9 921.2,844.1 920.4,846.3 919.6,848.5 918.9,850.7 918.1,852.8 917.3,855 916.5,857.2 915.6,859.4 914.8,861.5 913.9,863.7 913.1,865.9 912.2,868.1 911.4,870.2 910.5,872.4 909.6,874.6 908.7,876.8 907.8,879 906.8,881.1 905.9,883.3 904.8,885.5 903.8,887.7 902.7,889.8 901.6,892 900.4,894.2 899.2,896.4 898,898.6 896.7,900.7 895.4,902.9 894.1,905.1 892.8,907.3 891.4,909.4 890,911.6 888.6,913.8 887.1,916 885.6,918.1 884,920.3 882.4,922.5 884.2,927.5 885.9,930 888.2,931.8 891.1,933.2 894.8,934.4 898.5,936.1 902,938.1 905.5,940.5 908.9,943.4 912.7,945.9 916.7,947.9 921.1,949.5 925.8,950.7 930.5,951.7 935.1,952.4 939.8,952.8 944.5,953 949.7,953 955.5,952.8 961.9,952.4 968.8,951.7 974.7,950.8 979.7,949.5 983.8,947.9 987,946 990.9,944.1 995.6,942.3 1001,940.6 1007.2,938.9 1012.6,936.7 1017,933.9 1021.2,929.7 1027.1,921.2 1025.5,919 1023.9,916.9 1022.4,914.7 1020.9,912.6 1019.4,910.4 1018,908.2 1016.6,906.1 1015.3,903.9 1013.9,901.8 1012.6,899.6 1011.4,897.4 1010.1,895.3 1008.9,893.1 1007.7,890.9 1006.6,888.8 1005.5,886.6 1004.4,884.5 1003.4,882.3 1002.4,880.1 1001.5,878 1000.5,875.8 999.6,873.7 998.7,871.5 997.8,869.3 997,867.2 996.1,865 995.3,862.9 994.4,860.7 993.5,858.5 992.7,856.4 991.9,854.2 991.1,852.1 990.3,849.9 989.5,847.7 988.7,845.6 988,843.4 987.2,841.3 986.4,839.1 985.7,836.9 984.9,834.8 984.2,832.6 983.4,830.4 982.7,828.3 981.9,826.1 981.2,824 980.4,821.8 979.7,819.6 978.9,817.5 978.1,815.3 977.4,813.2 976.6,811 975.8,808.8 975,806.7 974.3,804.5 973.5,802.4 972.7,800.2 971.9,798 971.1,795.9 970.3,793.7 969.5,791.6 968.8,789.4 968,787.2 967.2,785.1 966.4,782.9 965.6,780.8 964.8,778.6 964,776.4 963.2,774.3 962.4,772.1 961.6,769.9 960.8,767.8 960,765.6 959.2,763.5 958.4,761.3 957.6,759.1 956.8,757 956,754.8 955.2,752.7 954.4,750.5"/></clipPath>
<g fill="none" stroke="#fff" stroke-width="1.8" clip-path="url(#c3)">
<path d="M952.4,782.6v4.2M956.4,782.6v4.2M954.4,792.3v4.2M952.4,801.9v4.3M956.4,801.9v4.3M950.4,811.5v4.3M954.4,811.6v4.3M958.4,811.4v4.3M952.4,821.3v4.4M956.4,821.2v4.4M950.4,831.1v4.4M954.4,831.2v4.4M958.4,831v4.4M948.4,841.1v4.4M952.4,841.3v4.4M956.4,841.2v4.4M960.4,841v4.4M950.4,851.3v4.3M954.4,851.4v4.3M958.4,851.2v4.3M948.4,861.1v4.2M952.4,861.3v4.2M956.4,861.3v4.2M960.4,861v4.2M946.4,870.6v4M950.4,870.9v4M954.4,870.9v4M958.4,870.8v4M962.4,870.5v4M948.4,879.9v3.9M952.4,880v3.9M956.4,880v3.9M960.4,879.8v3.9M946.4,888.7v3.7M950.4,888.9v3.7M954.4,889v3.7M958.4,888.8v3.7M962.4,888.6v3.7M944.4,897.2v3.5M948.4,897.5v3.5M952.4,897.6v3.5M956.4,897.5v3.5M960.4,897.4v3.5M964.4,897v3.5M946.4,905.4v3.2M950.4,905.6v3.2M954.4,905.6v3.2M958.4,905.5v3.2M962.4,905.3v3.2M944.4,912.6v3.2M948.4,912.8v3.2M952.4,912.9v3.2M956.4,912.9v3.2M960.4,912.7v3.2M964.4,912.4v3.2M942.4,919.2v3.2M946.4,919.5v3.2M950.4,919.7v3.2M954.4,919.7v3.2M958.4,919.6v3.2M962.4,919.4v3.2M966.4,919v3.2M944.4,925.8v3.2M948.4,926v3.2M952.4,926.1v3.2M956.4,926.1v3.2M960.4,925.9v3.2M964.4,925.7v3.2M942.4,931.9v3.2M946.4,932.2v3.2M950.4,932.3v3.2M954.4,932.3v3.2M958.4,932.2v3.2M962.4,932v3.2M966.4,931.7v3.2M940.4,937.8v3.2M944.4,938.1v3.2M948.4,938.2v3.2M952.4,938.3v3.2M956.4,938.3v3.2M960.4,938.1v3.2M964.4,937.9v3.2M968.4,937.5v3.2M942.4,943.7v3.2M946.4,943.9v3.2M950.4,944.1v3.2M954.4,944.1v3.2M958.4,944v3.2M962.4,943.8v3.2M966.4,943.5v3.2M940.4,949.1v3.2M944.4,949.4v3.2M948.4,949.5v3.2M952.4,949.6v3.2M956.4,949.5v3.2M960.4,949.4v3.2M964.4,949.2v3.2M968.4,948.8v3.2" stroke-opacity="0.62"/>
<path d="M954.4,773.1v4.2M950.4,792.1v4.2M958.4,792v4.2M948.4,801.5v4.3M960.4,801.4v4.3M946.4,811v4.3M962.4,810.8v4.3M944.4,820.4v4.4M948.4,821v4.4M960.4,820.9v4.4M964.4,820.2v4.4M946.4,830.7v4.4M962.4,830.6v4.4M944.4,840.6v4.4M964.4,840.4v4.4M942.4,850.5v4.3M946.4,851v4.3M962.4,850.9v4.3M966.4,850.2v4.3M940.4,860.2v4.2M944.4,860.8v4.2M964.4,860.6v4.2M968.4,859.9v4.2M938.4,869.5v4M942.4,870.2v4M966.4,869.9v4M970.4,869.2v4M936.4,878.4v3.9M940.4,879.1v3.9M944.4,879.6v3.9M964.4,879.4v3.9M968.4,878.8v3.9M972.4,878.1v3.9M938.4,887.8v3.7M942.4,888.4v3.7M966.4,888.1v3.7M970.4,887.5v3.7M936.4,896.2v3.5M940.4,896.8v3.5M968.4,896.5v3.5M972.4,895.9v3.5M934.4,904v3.2M938.4,904.7v3.2M942.4,905.1v3.2M966.4,904.9v3.2M970.4,904.3v3.2M974.4,903.6v3.2M932.4,911v3.2M936.4,911.7v3.2M940.4,912.2v3.2M968.4,911.9v3.2M972.4,911.4v3.2M976.4,910.6v3.2M930.4,917.6v3.2M934.4,918.3v3.2M938.4,918.8v3.2M970.4,918.5v3.2M974.4,917.9v3.2M978.4,917.1v3.2M928.4,923.7v3.2M932.4,924.5v3.2M936.4,925.1v3.2M940.4,925.5v3.2M968.4,925.3v3.2M972.4,924.7v3.2M976.4,924.1v3.2M980.4,923.3v3.2M930.4,930.4v3.2M934.4,931.1v3.2M938.4,931.6v3.2M970.4,931.3v3.2M974.4,930.7v3.2M978.4,930v3.2M982.4,929.2v3.2M928.4,936.2v3.2M932.4,936.8v3.2M936.4,937.4v3.2M972.4,937.1v3.2M976.4,936.5v3.2M980.4,935.7v3.2M926.4,941.7v3.2M930.4,942.4v3.2M934.4,942.9v3.2M938.4,943.4v3.2M970.4,943.1v3.2M974.4,942.6v3.2M978.4,942v3.2M982.4,941.2v3.2M924.4,946.9v3.2M928.4,947.6v3.2M932.4,948.2v3.2M936.4,948.7v3.2M972.4,948.4v3.2M976.4,947.9v3.2M980.4,947.2v3.2M984.4,946.4v3.2" stroke-opacity="0.4"/>
<path d="M954.4,754.1v4.2M952.4,763.4v4.2M956.4,763.4v4.2M950.4,772.7v4.2M958.4,772.6v4.2M948.4,782v4.2M960.4,781.9v4.2M946.4,791.3v4.2M962.4,791.1v4.2M944.4,800.6v4.3M964.4,800.4v4.3M942.4,810v4.3M966.4,809.7v4.3M940.4,819.3v4.4M968.4,819.1v4.4M938.4,828.9v4.4M942.4,830v4.4M966.4,829.8v4.4M970.4,828.7v4.4M936.4,838.7v4.4M940.4,839.9v4.4M968.4,839.6v4.4M972.4,838.4v4.4M934.4,848.5v4.3M938.4,849.7v4.3M970.4,849.4v4.3M974.4,848.1v4.3M932.4,858.1v4.2M936.4,859.3v4.2M972.4,859v4.2M976.4,857.7v4.2M930.4,867.4v4M934.4,868.6v4M974.4,868.3v4M978.4,867v4M928.4,876.2v3.9M932.4,877.5v3.9M976.4,877.1v3.9M980.4,875.8v3.9M926.4,884.8v3.7M930.4,886.1v3.7M934.4,887.1v3.7M974.4,886.7v3.7M978.4,885.7v3.7M982.4,884.4v3.7M924.4,893.1v3.5M928.4,894.4v3.5M932.4,895.4v3.5M976.4,895v3.5M980.4,893.9v3.5M984.4,892.6v3.5M922.4,900.9v3.2M926.4,902.2v3.2M930.4,903.2v3.2M978.4,902.8v3.2M982.4,901.7v3.2M986.4,900.3v3.2M920.4,907.8v3.2M924.4,909.1v3.2M928.4,910.2v3.2M980.4,909.7v3.2M984.4,908.6v3.2M988.4,907.3v3.2M918.4,914.3v3.2M922.4,915.6v3.2M926.4,916.7v3.2M982.4,916.2v3.2M986.4,915.1v3.2M990.4,913.7v3.2M916.4,920.4v3.2M920.4,921.7v3.2M924.4,922.8v3.2M984.4,922.3v3.2M988.4,921.2v3.2M992.4,919.8v3.2M914.4,926.3v3.2M918.4,927.6v3.2M922.4,928.7v3.2M926.4,929.7v3.2M986.4,928.2v3.2M990.4,927v3.2M994.4,925.7v3.2M912.4,932v3.2M916.4,933.3v3.2M920.4,934.4v3.2M924.4,935.4v3.2M984.4,934.9v3.2M988.4,933.9v3.2M992.4,932.7v3.2M996.4,931.3v3.2M910.4,937.4v3.2M914.4,938.7v3.2M918.4,939.9v3.2M922.4,940.9v3.2M986.4,940.3v3.2M990.4,939.3v3.2M994.4,938.1v3.2M998.4,936.7v3.2M908.4,942.6v3.2M912.4,943.9v3.2M916.4,945.1v3.2M920.4,946.1v3.2M988.4,945.5v3.2M992.4,944.5v3.2M996.4,943.3v3.2M1000.4,941.9v3.2" stroke-opacity="0.2"/>
</g>
<polygon points="743.5,761 742.8,763.2 742.2,765.4 741.5,767.6 740.8,769.9 740.1,772.1 739.5,774.3 738.8,776.5 738.1,778.7 737.4,780.9 736.8,783.2 736.1,785.4 735.4,787.6 734.7,789.8 734.1,792 733.4,794.2 732.7,796.4 732,798.7 731.3,800.9 730.7,803.1 730,805.3 729.3,807.5 728.6,809.7 728,811.9 727.3,814.2 726.6,816.4 725.9,818.6 725.2,820.8 724.6,823 723.9,825.2 723.2,827.5 722.5,829.7 721.8,831.9 721.1,834.1 720.4,836.3 719.7,838.5 719,840.7 718.4,843 717.7,845.2 717,847.4 716.3,849.6 715.6,851.8 714.9,854 714.2,856.3 713.5,858.5 712.9,860.7 712.2,862.9 711.5,865.1 710.8,867.3 710.2,869.5 709.5,871.8 708.8,874 708.2,876.2 707.5,878.4 706.9,880.6 706.2,882.8 705.6,885.1 704.9,887.3 704.3,889.5 703.7,891.7 703.1,893.9 702.4,896.1 701.8,898.3 701.3,900.6 700.7,902.8 700.1,905 699.6,907.2 699.1,909.4 698.5,911.6 698,913.8 697.5,916.1 697,918.3 696.5,920.5 696.1,922.7 695.6,924.9 695.2,927.1 694.7,929.4 694.3,931.6 693.9,933.8 693.5,936 694.7,940.8 695.9,943.2 697.5,944.9 699.6,946.3 702.1,947.4 704.7,949 707.1,950.9 709.6,953.3 711.9,956 714.5,958.3 717.3,960.3 720.4,961.8 723.6,963 726.9,963.9 730.1,964.6 733.4,965 736.6,965.2 740.2,965.2 744.6,965 750.9,964.6 757.8,964 763.8,963.1 768.8,961.8 772.9,960.3 776,958.4 779.9,956.6 784.6,954.9 790,953.2 796.2,951.5 801.5,949.4 805.9,946.7 810.1,942.6 816,934.3 814.4,932.1 812.8,929.9 811.3,927.7 809.8,925.5 808.4,923.3 806.9,921.1 805.6,918.9 804.2,916.8 802.9,914.6 801.6,912.4 800.3,910.2 799.1,908 797.9,905.8 796.7,903.6 795.6,901.4 794.5,899.2 793.4,897 792.4,894.8 791.4,892.6 790.4,890.4 789.5,888.2 788.6,886 787.7,883.8 786.8,881.7 786,879.5 785.1,877.3 784.2,875.1 783.4,872.9 782.5,870.7 781.7,868.5 780.9,866.3 780.1,864.1 779.3,861.9 778.5,859.7 777.7,857.5 777,855.3 776.2,853.1 775.4,850.9 774.7,848.7 773.9,846.6 773.2,844.4 772.4,842.2 771.7,840 770.9,837.8 770.2,835.6 769.5,833.4 768.7,831.2 767.9,829 767.2,826.8 766.4,824.6 765.6,822.4 764.9,820.2 764.1,818 763.3,815.8 762.5,813.6 761.7,811.5 761,809.3 760.2,807.1 759.4,804.9 758.6,802.7 757.8,800.5 757,798.3 756.2,796.1 755.4,793.9 754.7,791.7 753.9,789.5 753.1,787.3 752.3,785.1 751.5,782.9 750.7,780.7 749.9,778.5 749.1,776.4 748.3,774.2 747.5,772 746.7,769.8 745.9,767.6 745.1,765.4 744.3,763.2 743.5,761" fill="#ff0000"/>
<polygon points="743.5,761 742.6,763.8 741.8,766.7 740.9,769.5 740.1,772.3 739.2,775.2 738.3,778 737.5,780.9 736.6,783.7 735.7,786.5 734.9,789.4 734,792.2 733.1,795 732.3,797.9 731.4,800.7 730.5,803.5 729.7,806.4 728.8,809.2 727.9,812.1 727.1,814.9 726.2,817.7 725.3,820.6 724.4,823.4 723.6,826.2 722.7,829.1 721.8,831.9 720.9,834.7 720,837.6 719.1,840.4 718.3,843.2 718.9,845.4 719.5,846.5 720.3,847.3 721.3,847.9 722.6,848.4 723.9,849.1 725.1,850 726.4,851.1 727.6,852.3 728.9,853.4 730.3,854.2 731.8,854.9 733.5,855.5 735.1,855.9 736.7,856.2 738.4,856.4 740,856.5 741.9,856.5 743.9,856.4 746.5,856.2 749.2,855.9 751.6,855.5 753.6,854.9 755.3,854.2 756.5,853.4 758.1,852.6 759.9,851.8 762.1,851 764.6,850.3 766.7,849.3 768.5,848.1 770.2,846.2 772.5,842.5 771.6,839.6 770.6,836.8 769.7,834 768.7,831.2 767.7,828.4 766.8,825.6 765.8,822.8 764.8,820 763.8,817.2 762.8,814.4 761.8,811.6 760.8,808.7 759.8,805.9 758.8,803.1 757.8,800.3 756.7,797.5 755.7,794.7 754.7,791.9 753.7,789.1 752.7,786.3 751.7,783.5 750.7,780.7 749.6,777.9 748.6,775 747.6,772.2 746.6,769.4 745.6,766.6 744.5,763.8 743.5,761" fill="#f20000"/>
<clipPath id="c4"><polygon points="743.5,761 742.8,763.2 742.2,765.4 741.5,767.6 740.8,769.9 740.1,772.1 739.5,774.3 738.8,776.5 738.1,778.7 737.4,780.9 736.8,783.2 736.1,785.4 735.4,787.6 734.7,789.8 734.1,792 733.4,794.2 732.7,796.4 732,798.7 731.3,800.9 730.7,803.1 730,805.3 729.3,807.5 728.6,809.7 728,811.9 727.3,814.2 726.6,816.4 725.9,818.6 725.2,820.8 724.6,823 723.9,825.2 723.2,827.5 722.5,829.7 721.8,831.9 721.1,834.1 720.4,836.3 719.7,838.5 719,840.7 718.4,843 717.7,845.2 717,847.4 716.3,849.6 715.6,851.8 714.9,854 714.2,856.3 713.5,858.5 712.9,860.7 712.2,862.9 711.5,865.1 710.8,867.3 710.2,869.5 709.5,871.8 708.8,874 708.2,876.2 707.5,878.4 706.9,880.6 706.2,882.8 705.6,885.1 704.9,887.3 704.3,889.5 703.7,891.7 703.1,893.9 702.4,896.1 701.8,898.3 701.3,900.6 700.7,902.8 700.1,905 699.6,907.2 699.1,909.4 698.5,911.6 698,913.8 697.5,916.1 697,918.3 696.5,920.5 696.1,922.7 695.6,924.9 695.2,927.1 694.7,929.4 694.3,931.6 693.9,933.8 693.5,936 694.7,940.8 695.9,943.2 697.5,944.9 699.6,946.3 702.1,947.4 704.7,949 707.1,950.9 709.6,953.3 711.9,956 714.5,958.3 717.3,960.3 720.4,961.8 723.6,963 726.9,963.9 730.1,964.6 733.4,965 736.6,965.2 740.2,965.2 744.6,965 750.9,964.6 757.8,964 763.8,963.1 768.8,961.8 772.9,960.3 776,958.4 779.9,956.6 784.6,954.9 790,953.2 796.2,951.5 801.5,949.4 805.9,946.7 810.1,942.6 816,934.3 814.4,932.1 812.8,929.9 811.3,927.7 809.8,925.5 808.4,923.3 806.9,921.1 805.6,918.9 804.2,916.8 802.9,914.6 801.6,912.4 800.3,910.2 799.1,908 797.9,905.8 796.7,903.6 795.6,901.4 794.5,899.2 793.4,897 792.4,894.8 791.4,892.6 790.4,890.4 789.5,888.2 788.6,886 787.7,883.8 786.8,881.7 786,879.5 785.1,877.3 784.2,875.1 783.4,872.9 782.5,870.7 781.7,868.5 780.9,866.3 780.1,864.1 779.3,861.9 778.5,859.7 777.7,857.5 777,855.3 776.2,853.1 775.4,850.9 774.7,848.7 773.9,846.6 773.2,844.4 772.4,842.2 771.7,840 770.9,837.8 770.2,835.6 769.5,833.4 768.7,831.2 767.9,829 767.2,826.8 766.4,824.6 765.6,822.4 764.9,820.2 764.1,818 763.3,815.8 762.5,813.6 761.7,811.5 761,809.3 760.2,807.1 759.4,804.9 758.6,802.7 757.8,800.5 757,798.3 756.2,796.1 755.4,793.9 754.7,791.7 753.9,789.5 753.1,787.3 752.3,785.1 751.5,782.9 750.7,780.7 749.9,778.5 749.1,776.4 748.3,774.2 747.5,772 746.7,769.8 745.9,767.6 745.1,765.4 744.3,763.2 743.5,761"/></clipPath>
<g fill="none" stroke="#fff" stroke-width="1.8" clip-path="url(#c4)">
<path d="M745.5,790.5v3.9M743.5,799.4v3.9M741.5,808.1v3.9M745.5,808.1v3.9M743.5,817v3.9M747.5,816.8v3.9M741.5,825.7v3.9M745.5,825.7v3.9M743.5,834.6v3.9M747.5,834.4v3.9M741.5,843.4v3.9M745.5,843.4v3.9M749.5,843.1v3.9M739.5,852.1v3.9M743.5,852.3v3.9M747.5,852.1v3.9M741.5,861.2v3.9M745.5,861.1v3.9M749.5,860.9v3.9M739.5,869.9v3.9M743.5,870v3.9M747.5,869.9v3.9M751.5,869.6v3.9M737.5,878.6v3.8M741.5,878.9v3.8M745.5,878.8v3.8M749.5,878.6v3.8M739.5,887.5v3.8M743.5,887.6v3.8M747.5,887.5v3.8M751.5,887.2v3.8M737.5,896v3.8M741.5,896.3v3.8M745.5,896.2v3.8M749.5,896v3.8M753.5,895.7v3.8M739.5,904.8v3.7M743.5,904.9v3.7M747.5,904.8v3.7M751.5,904.5v3.7M737.5,913.2v3.7M741.5,913.4v3.7M745.5,913.4v3.7M749.5,913.2v3.7M753.5,912.9v3.7M735.5,921.4v3.6M739.5,921.8v3.6M743.5,921.8v3.6M747.5,921.7v3.6M751.5,921.5v3.6M755.5,921.1v3.6M737.5,929.8v3.5M741.5,930v3.5M745.5,929.9v3.5M749.5,929.8v3.5M753.5,929.5v3.5M735.5,937.6v3.4M739.5,937.9v3.4M743.5,937.9v3.4M747.5,937.8v3.4M751.5,937.6v3.4M755.5,937.3v3.4M737.5,945.6v3.4M741.5,945.7v3.4M745.5,945.7v3.4M749.5,945.5v3.4M753.5,945.3v3.4M757.5,944.9v3.4M735.5,953.1v3.3M739.5,953.4v3.3M743.5,953.4v3.3M747.5,953.3v3.3M751.5,953.1v3.3M755.5,952.8v3.3M733.5,960.5v3.2M737.5,960.8v3.2M741.5,961v3.2M745.5,960.9v3.2M749.5,960.8v3.2M753.5,960.5v3.2M757.5,960.2v3.2" stroke-opacity="0.62"/>
<path d="M743.5,781.9v3.9M741.5,790.5v3.9M739.5,798.9v3.9M747.5,799.1v3.9M749.5,807.7v3.9M739.5,816.7v3.9M751.5,816.2v3.9M737.5,825.2v3.9M749.5,825.4v3.9M753.5,824.7v3.9M735.5,833.6v3.9M739.5,834.4v3.9M751.5,834v3.9M737.5,843v3.9M753.5,842.6v3.9M735.5,851.5v3.9M751.5,851.8v3.9M755.5,851.2v3.9M733.5,860v3.9M737.5,860.8v3.9M753.5,860.4v3.9M757.5,859.8v3.9M735.5,869.4v3.9M755.5,869.1v3.9M759.5,868.4v3.9M733.5,877.9v3.8M753.5,878.2v3.8M757.5,877.7v3.8M761.5,876.9v3.8M731.5,886.3v3.8M735.5,887.1v3.8M755.5,886.8v3.8M759.5,886.2v3.8M729.5,894.6v3.8M733.5,895.5v3.8M757.5,895.2v3.8M761.5,894.6v3.8M731.5,903.8v3.7M735.5,904.5v3.7M755.5,904.1v3.7M759.5,903.6v3.7M763.5,902.9v3.7M729.5,912v3.7M733.5,912.8v3.7M757.5,912.5v3.7M761.5,911.9v3.7M765.5,911.2v3.7M727.5,920v3.6M731.5,920.9v3.6M759.5,920.6v3.6M763.5,920v3.6M767.5,919.3v3.6M725.5,927.7v3.5M729.5,928.7v3.5M733.5,929.4v3.5M757.5,929.1v3.5M761.5,928.6v3.5M765.5,927.9v3.5M769.5,927.1v3.5M727.5,936.3v3.4M731.5,937.1v3.4M759.5,936.8v3.4M763.5,936.3v3.4M767.5,935.6v3.4M771.5,934.8v3.4M725.5,943.8v3.4M729.5,944.6v3.4M733.5,945.2v3.4M761.5,944.5v3.4M765.5,943.9v3.4M769.5,943.2v3.4M723.5,951.1v3.3M727.5,952v3.3M731.5,952.7v3.3M759.5,952.4v3.3M763.5,951.9v3.3M767.5,951.3v3.3M771.5,950.6v3.3M721.5,958.2v3.2M725.5,959.2v3.2M729.5,960v3.2M761.5,959.8v3.2M765.5,959.2v3.2M769.5,958.6v3.2M773.5,957.8v3.2" stroke-opacity="0.4"/>
<path d="M743.5,764.3v3.9M741.5,772.7v3.9M745.5,772.9v3.9M747.5,781.3v3.9M749.5,789.8v3.9M751.5,798.2v3.9M737.5,807.3v3.9M753.5,806.7v3.9M735.5,815.6v3.9M755.5,815.2v3.9M733.5,823.8v3.9M757.5,823.6v3.9M755.5,833.2v3.9M759.5,832.1v3.9M733.5,842v3.9M757.5,841.7v3.9M761.5,840.6v3.9M731.5,850.4v3.9M759.5,850.3v3.9M763.5,849.1v3.9M729.5,858.7v3.9M761.5,858.9v3.9M765.5,857.7v3.9M727.5,867v3.9M731.5,868.5v3.9M763.5,867.4v3.9M767.5,866.2v3.9M725.5,875.3v3.8M729.5,876.9v3.8M765.5,875.9v3.8M769.5,874.7v3.8M723.5,883.4v3.8M727.5,885.1v3.8M763.5,885.4v3.8M767.5,884.3v3.8M771.5,883.1v3.8M725.5,893.3v3.8M765.5,893.7v3.8M769.5,892.7v3.8M773.5,891.4v3.8M723.5,901.4v3.7M727.5,902.8v3.7M767.5,902v3.7M771.5,901v3.7M775.5,899.7v3.7M721.5,909.4v3.7M725.5,910.9v3.7M769.5,910.3v3.7M773.5,909.2v3.7M777.5,907.9v3.7M719.5,917.2v3.6M723.5,918.8v3.6M771.5,918.3v3.6M775.5,917.2v3.6M779.5,915.9v3.6M717.5,924.7v3.5M721.5,926.4v3.5M773.5,926.2v3.5M777.5,925.1v3.5M781.5,923.7v3.5M715.5,932.1v3.4M719.5,933.9v3.4M723.5,935.3v3.4M775.5,933.8v3.4M779.5,932.7v3.4M783.5,931.3v3.4M717.5,941.2v3.4M721.5,942.6v3.4M773.5,942.3v3.4M777.5,941.3v3.4M781.5,940.2v3.4M785.5,938.8v3.4M715.5,948.3v3.3M719.5,949.8v3.3M775.5,949.7v3.3M779.5,948.7v3.3M783.5,947.5v3.3M787.5,946.2v3.3M713.5,955.3v3.2M717.5,956.9v3.2M777.5,956.9v3.2M781.5,955.9v3.2M785.5,954.7v3.2M789.5,953.4v3.2" stroke-opacity="0.2"/>
</g>
<polygon points="528.2,770 527.3,772.3 526.5,774.6 525.6,776.9 524.8,779.2 523.9,781.5 523.1,783.8 522.2,786.1 521.4,788.4 520.5,790.7 519.6,793 518.8,795.3 517.9,797.6 517.1,799.9 516.2,802.1 515.4,804.4 514.5,806.7 513.7,809 512.8,811.3 511.9,813.6 511.1,815.9 510.2,818.2 509.4,820.5 508.5,822.8 507.7,825.1 506.8,827.4 506,829.7 505.1,832 504.2,834.3 503.4,836.6 502.5,838.9 501.7,841.2 500.8,843.5 500,845.8 499.1,848.1 498.3,850.4 497.4,852.7 496.5,855 495.7,857.3 494.8,859.6 494,861.8 493.1,864.1 492.3,866.4 491.4,868.7 490.5,871 489.7,873.3 488.8,875.6 488,877.9 487.1,880.2 486.3,882.5 485.4,884.8 484.6,887.1 483.7,889.4 482.8,891.7 482,894 481.1,896.3 480.3,898.6 479.4,900.9 478.6,903.2 477.7,905.5 476.9,907.8 476,910.1 475.1,912.4 474.3,914.7 473.4,917 472.6,919.3 471.7,921.5 470.9,923.8 470,926.1 469.2,928.4 468.3,930.7 467.4,933 466.6,935.3 465.7,937.6 464.9,939.9 464,942.2 463.2,944.5 462.3,946.8 461.5,949.1 460.6,951.4 462.3,955.2 463.9,957.2 466,958.4 468.8,959.5 472.3,960.3 475.7,961.5 479,963.1 482.3,965 485.5,967.3 489,969.3 492.8,970.9 496.9,972.3 501.3,973.3 505.7,974.1 510.1,974.7 514.5,975.1 518.9,975.2 523.8,975.2 529.3,975 535.7,974.6 542.6,974 548.5,973.1 553.5,971.9 557.6,970.3 560.8,968.5 564.7,966.6 569.4,964.8 574.8,963 581,961.2 586.4,958.8 590.8,955.9 595,951.5 600.9,942.5 599.3,940.3 597.7,938.1 596.2,935.9 594.7,933.8 593.2,931.6 591.8,929.4 590.4,927.2 589.1,925 587.7,922.8 586.4,920.7 585.2,918.5 583.9,916.3 582.7,914.1 581.5,911.9 580.4,909.7 579.3,907.6 578.2,905.4 577.2,903.2 576.2,901 575.3,898.8 574.3,896.6 573.4,894.5 572.5,892.3 571.6,890.1 570.8,887.9 569.9,885.7 569.1,883.5 568.2,881.4 567.3,879.2 566.5,877 565.7,874.8 564.9,872.6 564.1,870.4 563.3,868.3 562.5,866.1 561.8,863.9 561,861.7 560.2,859.5 559.5,857.3 558.7,855.2 558,853 557.2,850.8 556.5,848.6 555.7,846.4 555,844.2 554.2,842.1 553.5,839.9 552.7,837.7 551.9,835.5 551.2,833.3 550.4,831.1 549.6,829 548.8,826.8 548.1,824.6 547.3,822.4 546.5,820.2 545.7,818 544.9,815.9 544.1,813.7 543.3,811.5 542.6,809.3 541.8,807.1 541,804.9 540.2,802.8 539.4,800.6 538.6,798.4 537.8,796.2 537,794 536.2,791.8 535.4,789.7 534.6,787.5 533.8,785.3 533,783.1 532.2,780.9 531.4,778.7 530.6,776.6 529.8,774.4 529,772.2 528.2,770" fill="#00bfff"/>
<polygon points="528.2,770 527.1,772.9 526,775.9 524.9,778.8 523.8,781.8 522.7,784.7 521.6,787.6 520.5,790.6 519.4,793.5 518.3,796.5 517.2,799.4 516.1,802.3 515.1,805.3 514,808.2 512.9,811.2 511.8,814.1 510.7,817 509.6,820 508.5,822.9 507.4,825.9 506.3,828.8 505.2,831.7 504.1,834.7 503,837.6 501.9,840.6 500.8,843.5 499.7,846.4 498.6,849.4 497.5,852.3 496.4,855.3 497.2,856.9 498,857.6 499,858.2 500.3,858.6 501.9,858.9 503.5,859.4 505.1,860.1 506.6,860.9 508.1,861.8 509.8,862.6 511.6,863.3 513.5,863.9 515.6,864.3 517.6,864.6 519.7,864.9 521.8,865 523.8,865.1 526.1,865.1 528.6,865 531.2,864.8 534,864.5 536.3,864.1 538.4,863.6 540,862.9 541.2,862.1 542.8,861.3 544.7,860.6 546.9,859.8 549.4,859 551.5,858 553.3,856.8 554.9,854.9 557.3,851.1 556.4,848.3 555.4,845.5 554.4,842.7 553.5,839.9 552.5,837.1 551.5,834.3 550.5,831.5 549.5,828.7 548.5,825.9 547.5,823.1 546.5,820.3 545.5,817.5 544.5,814.7 543.5,811.9 542.5,809.1 541.5,806.3 540.5,803.5 539.5,800.8 538.4,798 537.4,795.2 536.4,792.4 535.4,789.6 534.4,786.8 533.3,784 532.3,781.2 531.3,778.4 530.3,775.6 529.2,772.8 528.2,770" fill="#00cfff"/>
<clipPath id="c5"><polygon points="528.2,770 527.3,772.3 526.5,774.6 525.6,776.9 524.8,779.2 523.9,781.5 523.1,783.8 522.2,786.1 521.4,788.4 520.5,790.7 519.6,793 518.8,795.3 517.9,797.6 517.1,799.9 516.2,802.1 515.4,804.4 514.5,806.7 513.7,809 512.8,811.3 511.9,813.6 511.1,815.9 510.2,818.2 509.4,820.5 508.5,822.8 507.7,825.1 506.8,827.4 506,829.7 505.1,832 504.2,834.3 503.4,836.6 502.5,838.9 501.7,841.2 500.8,843.5 500,845.8 499.1,848.1 498.3,850.4 497.4,852.7 496.5,855 495.7,857.3 494.8,859.6 494,861.8 493.1,864.1 492.3,866.4 491.4,868.7 490.5,871 489.7,873.3 488.8,875.6 488,877.9 487.1,880.2 486.3,882.5 485.4,884.8 484.6,887.1 483.7,889.4 482.8,891.7 482,894 481.1,896.3 480.3,898.6 479.4,900.9 478.6,903.2 477.7,905.5 476.9,907.8 476,910.1 475.1,912.4 474.3,914.7 473.4,917 472.6,919.3 471.7,921.5 470.9,923.8 470,926.1 469.2,928.4 468.3,930.7 467.4,933 466.6,935.3 465.7,937.6 464.9,939.9 464,942.2 463.2,944.5 462.3,946.8 461.5,949.1 460.6,951.4 462.3,955.2 463.9,957.2 466,958.4 468.8,959.5 472.3,960.3 475.7,961.5 479,963.1 482.3,965 485.5,967.3 489,969.3 492.8,970.9 496.9,972.3 501.3,973.3 505.7,974.1 510.1,974.7 514.5,975.1 518.9,975.2 523.8,975.2 529.3,975 535.7,974.6 542.6,974 548.5,973.1 553.5,971.9 557.6,970.3 560.8,968.5 564.7,966.6 569.4,964.8 574.8,963 581,961.2 586.4,958.8 590.8,955.9 595,951.5 600.9,942.5 599.3,940.3 597.7,938.1 596.2,935.9 594.7,933.8 593.2,931.6 591.8,929.4 590.4,927.2 589.1,925 587.7,922.8 586.4,920.7 585.2,918.5 583.9,916.3 582.7,914.1 581.5,911.9 580.4,909.7 579.3,907.6 578.2,905.4 577.2,903.2 576.2,901 575.3,898.8 574.3,896.6 573.4,894.5 572.5,892.3 571.6,890.1 570.8,887.9 569.9,885.7 569.1,883.5 568.2,881.4 567.3,879.2 566.5,877 565.7,874.8 564.9,872.6 564.1,870.4 563.3,868.3 562.5,866.1 561.8,863.9 561,861.7 560.2,859.5 559.5,857.3 558.7,855.2 558,853 557.2,850.8 556.5,848.6 555.7,846.4 555,844.2 554.2,842.1 553.5,839.9 552.7,837.7 551.9,835.5 551.2,833.3 550.4,831.1 549.6,829 548.8,826.8 548.1,824.6 547.3,822.4 546.5,820.2 545.7,818 544.9,815.9 544.1,813.7 543.3,811.5 542.6,809.3 541.8,807.1 541,804.9 540.2,802.8 539.4,800.6 538.6,798.4 537.8,796.2 537,794 536.2,791.8 535.4,789.7 534.6,787.5 533.8,785.3 533,783.1 532.2,780.9 531.4,778.7 530.6,776.6 529.8,774.4 529,772.2 528.2,770"/></clipPath>
<g fill="none" stroke="#fff" stroke-width="1.8" clip-path="url(#c5)">
<path d="M526.2,800.7v4M530.2,800.5v4M528.2,809.8v4M526.2,819v4M530.2,818.7v4M524.2,828.2v4M528.2,828.1v4M532.2,827.6v4M526.2,837.3v4M530.2,837v4M524.2,846.5v4.1M528.2,846.4v4.1M532.2,846v4.1M526.2,855.8v4.1M530.2,855.5v4.1M534.2,855v4.1M524.2,865.1v4.1M528.2,865v4.1M532.2,864.6v4.1M522.2,874.5v4.1M526.2,874.4v4.1M530.2,874.1v4.1M534.2,873.7v4.1M524.2,883.7v4M528.2,883.5v4M532.2,883.2v4M536.2,882.7v4M522.2,892.9v3.9M526.2,892.8v3.9M530.2,892.5v3.9M534.2,892.1v3.9M520.2,901.8v3.9M524.2,901.8v3.9M528.2,901.6v3.9M532.2,901.3v3.9M536.2,900.8v3.9M522.2,910.7v3.8M526.2,910.5v3.8M530.2,910.3v3.8M534.2,909.9v3.8M538.2,909.3v3.8M520.2,919.4v3.7M524.2,919.3v3.7M528.2,919.1v3.7M532.2,918.8v3.7M536.2,918.3v3.7M518.2,927.8v3.5M522.2,927.8v3.5M526.2,927.7v3.5M530.2,927.4v3.5M534.2,927v3.5M538.2,926.5v3.5M520.2,935.8v3.3M524.2,935.8v3.3M528.2,935.5v3.3M532.2,935.2v3.3M536.2,934.8v3.3M540.2,934.3v3.3M518.2,943.5v3.2M522.2,943.5v3.2M526.2,943.3v3.2M530.2,943.1v3.2M534.2,942.7v3.2M538.2,942.2v3.2M516.2,950.8v3.2M520.2,950.8v3.2M524.2,950.7v3.2M528.2,950.5v3.2M532.2,950.2v3.2M536.2,949.8v3.2M540.2,949.3v3.2M518.2,958v3.2M522.2,957.9v3.2M526.2,957.8v3.2M530.2,957.5v3.2M534.2,957.2v3.2M538.2,956.7v3.2M542.2,956.2v3.2M516.2,964.9v3.2M520.2,964.9v3.2M524.2,964.8v3.2M528.2,964.6v3.2M532.2,964.3v3.2M536.2,963.9v3.2M540.2,963.4v3.2M514.2,971.6v3.2M518.2,971.6v3.2M522.2,971.6v3.2M526.2,971.4v3.2M530.2,971.2v3.2M534.2,970.8v3.2M538.2,970.4v3.2M542.2,969.9v3.2" stroke-opacity="0.62"/>
<path d="M528.2,791.6v4M524.2,809.8v4M532.2,809.3v4M522.2,818.8v4M534.2,818.1v4M520.2,827.9v4M536.2,826.9v4M522.2,837.3v4M534.2,836.5v4M538.2,835.6v4M520.2,846.4v4.1M536.2,845.4v4.1M518.2,855.6v4.1M522.2,855.8v4.1M538.2,854.3v4.1M516.2,864.8v4.1M520.2,865.1v4.1M536.2,864.1v4.1M540.2,863.3v4.1M514.2,874v4.1M518.2,874.3v4.1M538.2,873.1v4.1M542.2,872.2v4.1M516.2,883.5v4M520.2,883.7v4M540.2,882v4M544.2,881.1v4M514.2,892.6v3.9M518.2,892.8v3.9M538.2,891.5v3.9M542.2,890.8v3.9M546.2,889.9v3.9M512.2,901.4v3.9M516.2,901.7v3.9M540.2,900.1v3.9M544.2,899.4v3.9M510.2,910.1v3.8M514.2,910.4v3.8M518.2,910.6v3.8M542.2,908.7v3.8M546.2,907.8v3.8M508.2,918.6v3.7M512.2,919v3.7M516.2,919.3v3.7M540.2,917.7v3.7M544.2,917v3.7M548.2,916.2v3.7M506.2,926.9v3.5M510.2,927.4v3.5M514.2,927.7v3.5M542.2,925.9v3.5M546.2,925.1v3.5M550.2,924.2v3.5M508.2,935.3v3.3M512.2,935.6v3.3M516.2,935.8v3.3M544.2,933.6v3.3M548.2,932.8v3.3M552.2,931.9v3.3M506.2,942.8v3.2M510.2,943.2v3.2M514.2,943.4v3.2M542.2,941.6v3.2M546.2,940.9v3.2M550.2,940.1v3.2M554.2,939.2v3.2M504.2,950v3.2M508.2,950.4v3.2M512.2,950.7v3.2M544.2,948.7v3.2M548.2,948v3.2M552.2,947.1v3.2M556.2,946.1v3.2M502.2,957v3.2M506.2,957.4v3.2M510.2,957.7v3.2M514.2,957.9v3.2M546.2,955.5v3.2M550.2,954.8v3.2M554.2,953.9v3.2M500.2,963.7v3.2M504.2,964.2v3.2M508.2,964.6v3.2M512.2,964.8v3.2M544.2,962.9v3.2M548.2,962.2v3.2M552.2,961.4v3.2M556.2,960.5v3.2M502.2,970.8v3.2M506.2,971.2v3.2M510.2,971.4v3.2M546.2,969.3v3.2M550.2,968.6v3.2M554.2,967.8v3.2M558.2,966.9v3.2" stroke-opacity="0.4"/>
<path d="M528.2,773.4v4M526.2,782.4v4M530.2,782.2v4M524.2,791.4v4M532.2,790.9v4M522.2,800.3v4M534.2,799.6v4M520.2,809.2v4M536.2,808.3v4M518.2,818.1v4M538.2,817v4M516.2,827v4M540.2,825.7v4M514.2,836v4M518.2,836.9v4M542.2,834.4v4M516.2,845.9v4.1M540.2,844.4v4.1M544.2,843.2v4.1M514.2,855v4.1M542.2,853.3v4.1M546.2,852v4.1M512.2,864.2v4.1M544.2,862.2v4.1M548.2,860.9v4.1M510.2,873.3v4.1M546.2,871.2v4.1M550.2,869.8v4.1M508.2,882.4v4M512.2,883.1v4M548.2,880v4M552.2,878.6v4M506.2,891.3v3.9M510.2,892.1v3.9M550.2,888.7v3.9M554.2,887.3v3.9M504.2,900v3.9M508.2,900.8v3.9M548.2,898.4v3.9M552.2,897.2v3.9M556.2,895.8v3.9M502.2,908.7v3.8M506.2,909.5v3.8M550.2,906.8v3.8M554.2,905.6v3.8M558.2,904.2v3.8M500.2,917.1v3.7M504.2,918v3.7M552.2,915.1v3.7M556.2,913.9v3.7M560.2,912.5v3.7M498.2,925.4v3.5M502.2,926.2v3.5M554.2,923.2v3.5M558.2,921.9v3.5M562.2,920.5v3.5M496.2,933.2v3.3M500.2,934.1v3.3M504.2,934.8v3.3M556.2,930.8v3.3M560.2,929.6v3.3M564.2,928.1v3.3M494.2,940.6v3.2M498.2,941.5v3.2M502.2,942.2v3.2M558.2,938.1v3.2M562.2,936.8v3.2M566.2,935.4v3.2M492.2,947.7v3.2M496.2,948.7v3.2M500.2,949.4v3.2M560.2,945v3.2M564.2,943.8v3.2M568.2,942.3v3.2M490.2,954.6v3.2M494.2,955.6v3.2M498.2,956.4v3.2M558.2,952.9v3.2M562.2,951.8v3.2M566.2,950.5v3.2M570.2,949v3.2M488.2,961.3v3.2M492.2,962.3v3.2M496.2,963.1v3.2M560.2,959.5v3.2M564.2,958.3v3.2M568.2,957v3.2M572.2,955.6v3.2M486.2,967.8v3.2M490.2,968.8v3.2M494.2,969.6v3.2M498.2,970.3v3.2M562.2,965.8v3.2M566.2,964.7v3.2M570.2,963.4v3.2M574.2,961.9v3.2" stroke-opacity="0.2"/>
</g>
<polygon points="1093.5,827.5 1092.7,829.7 1091.8,831.9 1091,834 1090.1,836.2 1089.3,838.4 1088.5,840.6 1087.6,842.7 1086.8,844.9 1085.9,847.1 1085.1,849.3 1084.3,851.4 1083.4,853.6 1082.6,855.8 1081.7,858 1080.9,860.2 1080.1,862.3 1079.2,864.5 1078.4,866.7 1077.6,868.9 1076.7,871 1075.9,873.2 1075.1,875.4 1074.2,877.6 1073.4,879.8 1072.6,881.9 1071.7,884.1 1070.9,886.3 1070.1,888.5 1069.2,890.6 1068.4,892.8 1067.6,895 1066.8,897.2 1066,899.3 1065.1,901.5 1064.3,903.7 1063.5,905.9 1062.7,908.1 1061.9,910.2 1061.1,912.4 1060.3,914.6 1059.4,916.8 1058.6,918.9 1057.8,921.1 1057,923.3 1056.1,925.5 1055.3,927.7 1054.5,929.8 1053.6,932 1052.8,934.2 1051.9,936.4 1051.1,938.5 1050.2,940.7 1049.3,942.9 1048.4,945.1 1047.6,947.2 1046.7,949.4 1045.8,951.6 1044.9,953.8 1044,956 1043.1,958.1 1042.2,960.3 1041.2,962.5 1040.2,964.7 1039.2,966.8 1038.2,969 1037.2,971.2 1036.2,973.4 1035.1,975.6 1034.1,977.7 1033,979.9 1031.9,982.1 1030.8,984.3 1029.6,986.4 1028.5,988.6 1027.3,990.8 1026.2,993 1025,995.1 1023.7,997.3 1022.5,999.5 1024.3,1005 1026,1007.7 1028.2,1009.6 1031.1,1011.2 1034.8,1012.6 1038.4,1014.4 1041.9,1016.6 1045.3,1019.3 1048.7,1022.3 1052.4,1024.9 1056.4,1027.1 1060.7,1028.8 1065.3,1030.1 1069.9,1031.1 1074.5,1031.8 1079.1,1032.3 1083.7,1032.5 1088.9,1032.5 1094.6,1032.3 1101,1031.8 1107.9,1031.2 1113.9,1030.2 1119,1029 1123.1,1027.4 1126.3,1025.5 1130.2,1023.7 1134.9,1021.9 1140.4,1020.2 1146.6,1018.6 1152,1016.5 1156.4,1013.9 1160.6,1009.9 1166.6,1001.7 1165,999.5 1163.4,997.3 1161.8,995.1 1160.3,992.9 1158.9,990.7 1157.5,988.5 1156.1,986.3 1154.7,984.1 1153.4,981.9 1152.1,979.6 1150.8,977.4 1149.5,975.2 1148.3,973 1147.1,970.8 1146,968.6 1144.9,966.4 1143.8,964.2 1142.8,962 1141.8,959.8 1140.8,957.6 1139.9,955.4 1139,953.2 1138.1,951 1137.2,948.8 1136.3,946.6 1135.4,944.4 1134.6,942.2 1133.7,940 1132.9,937.8 1132,935.5 1131.2,933.3 1130.4,931.1 1129.6,928.9 1128.8,926.7 1128,924.5 1127.2,922.3 1126.5,920.1 1125.7,917.9 1124.9,915.7 1124.2,913.5 1123.4,911.3 1122.7,909.1 1121.9,906.9 1121.2,904.7 1120.4,902.5 1119.7,900.3 1118.9,898.1 1118.1,895.9 1117.4,893.7 1116.6,891.4 1115.8,889.2 1115,887 1114.3,884.8 1113.5,882.6 1112.7,880.4 1111.9,878.2 1111.1,876 1110.3,873.8 1109.5,871.6 1108.7,869.4 1107.9,867.2 1107.1,865 1106.3,862.8 1105.5,860.6 1104.7,858.4 1103.9,856.2 1103.2,854 1102.4,851.8 1101.6,849.6 1100.8,847.3 1099.9,845.1 1099.1,842.9 1098.3,840.7 1097.5,838.5 1096.7,836.3 1095.9,834.1 1095.1,831.9 1094.3,829.7 1093.5,827.5" fill="#ffff00"/>
<polygon points="1093.5,827.5 1092.4,830.3 1091.3,833.1 1090.3,835.9 1089.2,838.7 1088.1,841.4 1087,844.2 1086,847 1084.9,849.8 1083.8,852.6 1082.7,855.4 1081.7,858.2 1080.6,861 1079.5,863.7 1078.5,866.5 1077.4,869.3 1076.3,872.1 1075.3,874.9 1074.2,877.7 1073.1,880.5 1072.1,883.3 1071,886 1069.9,888.8 1068.9,891.6 1067.8,894.4 1066.8,897.2 1065.7,900 1064.7,902.8 1063.6,905.6 1062.6,908.3 1063.4,910.5 1064.1,911.6 1065.1,912.4 1066.3,913.1 1067.9,913.6 1069.5,914.3 1071,915.2 1072.5,916.3 1074,917.5 1075.6,918.6 1077.3,919.5 1079.2,920.1 1081.2,920.7 1083.2,921.1 1085.2,921.4 1087.2,921.6 1089.3,921.6 1091.5,921.6 1093.9,921.6 1096.5,921.4 1099.3,921.1 1101.7,920.8 1103.7,920.3 1105.4,919.6 1106.6,918.9 1108.2,918.1 1110.1,917.4 1112.3,916.8 1114.8,916.1 1116.9,915.3 1118.7,914.2 1120.4,912.6 1122.8,909.4 1121.8,906.6 1120.9,903.7 1119.9,900.9 1118.9,898.1 1117.9,895.3 1117,892.4 1116,889.6 1115,886.8 1113.9,884 1112.9,881.1 1111.9,878.3 1110.9,875.5 1109.9,872.7 1108.9,869.8 1107.9,867 1106.9,864.2 1105.8,861.4 1104.8,858.6 1103.8,855.7 1102.8,852.9 1101.7,850.1 1100.7,847.3 1099.7,844.4 1098.7,841.6 1097.6,838.8 1096.6,836 1095.6,833.1 1094.5,830.3 1093.5,827.5" fill="#ffee00"/>
<clipPath id="c6"><polygon points="1093.5,827.5 1092.7,829.7 1091.8,831.9 1091,834 1090.1,836.2 1089.3,838.4 1088.5,840.6 1087.6,842.7 1086.8,844.9 1085.9,847.1 1085.1,849.3 1084.3,851.4 1083.4,853.6 1082.6,855.8 1081.7,858 1080.9,860.2 1080.1,862.3 1079.2,864.5 1078.4,866.7 1077.6,868.9 1076.7,871 1075.9,873.2 1075.1,875.4 1074.2,877.6 1073.4,879.8 1072.6,881.9 1071.7,884.1 1070.9,886.3 1070.1,888.5 1069.2,890.6 1068.4,892.8 1067.6,895 1066.8,897.2 1066,899.3 1065.1,901.5 1064.3,903.7 1063.5,905.9 1062.7,908.1 1061.9,910.2 1061.1,912.4 1060.3,914.6 1059.4,916.8 1058.6,918.9 1057.8,921.1 1057,923.3 1056.1,925.5 1055.3,927.7 1054.5,929.8 1053.6,932 1052.8,934.2 1051.9,936.4 1051.1,938.5 1050.2,940.7 1049.3,942.9 1048.4,945.1 1047.6,947.2 1046.7,949.4 1045.8,951.6 1044.9,953.8 1044,956 1043.1,958.1 1042.2,960.3 1041.2,962.5 1040.2,964.7 1039.2,966.8 1038.2,969 1037.2,971.2 1036.2,973.4 1035.1,975.6 1034.1,977.7 1033,979.9 1031.9,982.1 1030.8,984.3 1029.6,986.4 1028.5,988.6 1027.3,990.8 1026.2,993 1025,995.1 1023.7,997.3 1022.5,999.5 1024.3,1005 1026,1007.7 1028.2,1009.6 1031.1,1011.2 1034.8,1012.6 1038.4,1014.4 1041.9,1016.6 1045.3,1019.3 1048.7,1022.3 1052.4,1024.9 1056.4,1027.1 1060.7,1028.8 1065.3,1030.1 1069.9,1031.1 1074.5,1031.8 1079.1,1032.3 1083.7,1032.5 1088.9,1032.5 1094.6,1032.3 1101,1031.8 1107.9,1031.2 1113.9,1030.2 1119,1029 1123.1,1027.4 1126.3,1025.5 1130.2,1023.7 1134.9,1021.9 1140.4,1020.2 1146.6,1018.6 1152,1016.5 1156.4,1013.9 1160.6,1009.9 1166.6,1001.7 1165,999.5 1163.4,997.3 1161.8,995.1 1160.3,992.9 1158.9,990.7 1157.5,988.5 1156.1,986.3 1154.7,984.1 1153.4,981.9 1152.1,979.6 1150.8,977.4 1149.5,975.2 1148.3,973 1147.1,970.8 1146,968.6 1144.9,966.4 1143.8,964.2 1142.8,962 1141.8,959.8 1140.8,957.6 1139.9,955.4 1139,953.2 1138.1,951 1137.2,948.8 1136.3,946.6 1135.4,944.4 1134.6,942.2 1133.7,940 1132.9,937.8 1132,935.5 1131.2,933.3 1130.4,931.1 1129.6,928.9 1128.8,926.7 1128,924.5 1127.2,922.3 1126.5,920.1 1125.7,917.9 1124.9,915.7 1124.2,913.5 1123.4,911.3 1122.7,909.1 1121.9,906.9 1121.2,904.7 1120.4,902.5 1119.7,900.3 1118.9,898.1 1118.1,895.9 1117.4,893.7 1116.6,891.4 1115.8,889.2 1115,887 1114.3,884.8 1113.5,882.6 1112.7,880.4 1111.9,878.2 1111.1,876 1110.3,873.8 1109.5,871.6 1108.7,869.4 1107.9,867.2 1107.1,865 1106.3,862.8 1105.5,860.6 1104.7,858.4 1103.9,856.2 1103.2,854 1102.4,851.8 1101.6,849.6 1100.8,847.3 1099.9,845.1 1099.1,842.9 1098.3,840.7 1097.5,838.5 1096.7,836.3 1095.9,834.1 1095.1,831.9 1094.3,829.7 1093.5,827.5"/></clipPath>
<g fill="none" stroke="#fff" stroke-width="1.8" clip-path="url(#c6)">
<path d="M1091.5,858.9v4.1M1095.5,859v4.1M1093.5,868.5v4.1M1091.5,877.8v4.2M1095.5,877.9v4.2M1089.5,887v4.2M1093.5,887.3v4.2M1097.5,887.2v4.2M1091.5,896.7v4.2M1095.5,896.7v4.2M1089.5,906.1v4.3M1093.5,906.3v4.3M1097.5,906.2v4.3M1087.5,915.6v4.3M1091.5,915.9v4.3M1095.5,916v4.3M1099.5,915.8v4.3M1089.5,925.5v4.2M1093.5,925.7v4.2M1097.5,925.7v4.2M1087.5,935.1v4.2M1091.5,935.4v4.2M1095.5,935.4v4.2M1099.5,935.3v4.2M1085.5,944.4v4M1089.5,944.8v4M1093.5,944.9v4M1097.5,944.9v4M1101.5,944.7v4M1087.5,953.9v3.9M1091.5,954.1v3.9M1095.5,954.2v3.9M1099.5,954.1v3.9M1085.5,962.7v3.9M1089.5,963v3.9M1093.5,963.2v3.9M1097.5,963.2v3.9M1101.5,963v3.9M1083.5,971.3v3.7M1087.5,971.7v3.7M1091.5,971.9v3.7M1095.5,972v3.7M1099.5,971.9v3.7M1103.5,971.7v3.7M1085.5,980.1v3.5M1089.5,980.4v3.5M1093.5,980.5v3.5M1097.5,980.5v3.5M1101.5,980.4v3.5M1083.5,987.9v3.3M1087.5,988.3v3.3M1091.5,988.5v3.3M1095.5,988.6v3.3M1099.5,988.5v3.3M1103.5,988.3v3.3M1081.5,995.2v3.2M1085.5,995.6v3.2M1089.5,995.9v3.2M1093.5,996v3.2M1097.5,996v3.2M1101.5,995.9v3.2M1105.5,995.6v3.2M1083.5,1002.5v3.2M1087.5,1002.8v3.2M1091.5,1003v3.2M1095.5,1003.1v3.2M1099.5,1003v3.2M1103.5,1002.8v3.2M1081.5,1009.1v3.2M1085.5,1009.5v3.2M1089.5,1009.7v3.2M1093.5,1009.8v3.2M1097.5,1009.8v3.2M1101.5,1009.7v3.2M1105.5,1009.5v3.2M1079.5,1015.5v3.2M1083.5,1015.9v3.2M1087.5,1016.2v3.2M1091.5,1016.4v3.2M1095.5,1016.4v3.2M1099.5,1016.4v3.2M1103.5,1016.2v3.2M1107.5,1016v3.2M1081.5,1022.1v3.2M1085.5,1022.4v3.2M1089.5,1022.6v3.2M1093.5,1022.8v3.2M1097.5,1022.8v3.2M1101.5,1022.7v3.2M1105.5,1022.5v3.2M1079.5,1028v3.2M1083.5,1028.4v3.2M1087.5,1028.6v3.2M1091.5,1028.8v3.2M1095.5,1028.9v3.2M1099.5,1028.8v3.2M1103.5,1028.7v3.2M1107.5,1028.4v3.2" stroke-opacity="0.62"/>
<path d="M1093.5,849.7v4.1M1089.5,868.1v4.1M1097.5,868.3v4.1M1087.5,877.3v4.2M1099.5,877.5v4.2M1085.5,886.4v4.2M1101.5,886.7v4.2M1083.5,895.5v4.2M1087.5,896.3v4.2M1099.5,896.5v4.2M1103.5,895.9v4.2M1085.5,905.6v4.3M1101.5,905.9v4.3M1083.5,915v4.3M1103.5,915.4v4.3M1081.5,924.4v4.2M1085.5,925.1v4.2M1101.5,925.4v4.2M1105.5,924.9v4.2M1079.5,933.8v4.2M1083.5,934.6v4.2M1103.5,934.9v4.2M1107.5,934.4v4.2M1077.5,943v4M1081.5,943.8v4M1105.5,944.3v4M1109.5,943.7v4M1075.5,951.9v3.9M1079.5,952.8v3.9M1083.5,953.4v3.9M1103.5,953.8v3.9M1107.5,953.3v3.9M1111.5,952.7v3.9M1077.5,961.5v3.9M1081.5,962.2v3.9M1105.5,962.6v3.9M1109.5,962.1v3.9M1113.5,961.4v3.9M1075.5,970v3.7M1079.5,970.8v3.7M1107.5,971.3v3.7M1111.5,970.7v3.7M1073.5,978.3v3.5M1077.5,979v3.5M1081.5,979.7v3.5M1105.5,980.1v3.5M1109.5,979.7v3.5M1113.5,979.1v3.5M1071.5,986v3.3M1075.5,986.8v3.3M1079.5,987.4v3.3M1107.5,988v3.3M1111.5,987.5v3.3M1115.5,986.8v3.3M1069.5,993.1v3.2M1073.5,994v3.2M1077.5,994.7v3.2M1109.5,995.2v3.2M1113.5,994.7v3.2M1117.5,994v3.2M1067.5,999.8v3.2M1071.5,1000.7v3.2M1075.5,1001.5v3.2M1079.5,1002v3.2M1107.5,1002.5v3.2M1111.5,1002.1v3.2M1115.5,1001.6v3.2M1119.5,1000.8v3.2M1069.5,1007.2v3.2M1073.5,1008v3.2M1077.5,1008.6v3.2M1109.5,1009.2v3.2M1113.5,1008.7v3.2M1117.5,1008.1v3.2M1121.5,1007.4v3.2M1067.5,1013.5v3.2M1071.5,1014.3v3.2M1075.5,1014.9v3.2M1111.5,1015.6v3.2M1115.5,1015.1v3.2M1119.5,1014.5v3.2M1065.5,1019.5v3.2M1069.5,1020.4v3.2M1073.5,1021v3.2M1077.5,1021.6v3.2M1109.5,1022.2v3.2M1113.5,1021.8v3.2M1117.5,1021.2v3.2M1121.5,1020.6v3.2M1063.5,1025.3v3.2M1067.5,1026.2v3.2M1071.5,1026.9v3.2M1075.5,1027.5v3.2M1111.5,1028.1v3.2M1115.5,1027.7v3.2M1119.5,1027.1v3.2M1123.5,1026.4v3.2" stroke-opacity="0.4"/>
<path d="M1093.5,831v4.1M1091.5,840.1v4.1M1095.5,840.2v4.1M1089.5,849.1v4.1M1097.5,849.3v4.1M1087.5,858.1v4.1M1099.5,858.4v4.1M1085.5,867.1v4.1M1101.5,867.5v4.1M1083.5,876.2v4.2M1103.5,876.6v4.2M1081.5,885.2v4.2M1105.5,885.8v4.2M1079.5,894.3v4.2M1107.5,894.9v4.2M1077.5,903.5v4.3M1081.5,904.7v4.3M1105.5,905.2v4.3M1109.5,904.2v4.3M1075.5,912.8v4.3M1079.5,914.1v4.3M1107.5,914.7v4.3M1111.5,913.6v4.3M1073.5,922.1v4.2M1077.5,923.5v4.2M1109.5,924.1v4.2M1113.5,923v4.2M1071.5,931.4v4.2M1075.5,932.8v4.2M1111.5,933.5v4.2M1115.5,932.4v4.2M1069.5,940.6v4M1073.5,942v4M1113.5,942.8v4M1117.5,941.6v4M1067.5,949.4v3.9M1071.5,950.8v3.9M1115.5,951.8v3.9M1119.5,950.6v3.9M1065.5,958v3.9M1069.5,959.4v3.9M1073.5,960.6v3.9M1117.5,960.5v3.9M1121.5,959.3v3.9M1063.5,966.5v3.7M1067.5,967.9v3.7M1071.5,969.1v3.7M1115.5,970v3.7M1119.5,969v3.7M1123.5,967.8v3.7M1061.5,974.6v3.5M1065.5,976.1v3.5M1069.5,977.3v3.5M1117.5,978.3v3.5M1121.5,977.3v3.5M1125.5,976v3.5M1059.5,982.2v3.3M1063.5,983.7v3.3M1067.5,985v3.3M1119.5,986v3.3M1123.5,985v3.3M1127.5,983.8v3.3M1057.5,989.3v3.2M1061.5,990.8v3.2M1065.5,992.1v3.2M1121.5,993.2v3.2M1125.5,992.2v3.2M1129.5,990.9v3.2M1055.5,996v3.2M1059.5,997.5v3.2M1063.5,998.8v3.2M1123.5,1000v3.2M1127.5,998.9v3.2M1131.5,997.6v3.2M1053.5,1002.4v3.2M1057.5,1003.9v3.2M1061.5,1005.2v3.2M1065.5,1006.3v3.2M1125.5,1006.5v3.2M1129.5,1005.4v3.2M1133.5,1004.1v3.2M1051.5,1008.6v3.2M1055.5,1010.1v3.2M1059.5,1011.4v3.2M1063.5,1012.5v3.2M1123.5,1013.7v3.2M1127.5,1012.8v3.2M1131.5,1011.7v3.2M1135.5,1010.4v3.2M1049.5,1014.6v3.2M1053.5,1016.1v3.2M1057.5,1017.4v3.2M1061.5,1018.5v3.2M1125.5,1019.8v3.2M1129.5,1018.8v3.2M1133.5,1017.7v3.2M1137.5,1016.4v3.2M1047.5,1020.3v3.2M1051.5,1021.8v3.2M1055.5,1023.1v3.2M1059.5,1024.3v3.2M1127.5,1025.6v3.2M1131.5,1024.6v3.2M1135.5,1023.5v3.2M1139.5,1022.2v3.2" stroke-opacity="0.2"/>
</g>
<polygon points="878.1,307 877.8,310.5 877.5,314.1 877.1,317.6 876.8,321.2 876.5,324.7 876.2,328.3 875.9,331.8 875.6,335.4 875.2,338.9 874.9,342.4 874.6,346 874.3,349.5 874,353.1 873.7,356.6 873.3,360.2 873,363.7 872.7,367.3 872.4,370.8 872.1,374.3 871.8,377.9 871.4,381.4 871.1,385 870.8,388.5 870.5,392.1 870.2,395.6 869.9,399.2 869.5,402.7 869.2,406.3 868.9,409.8 868.6,413.3 868.3,416.9 868,420.4 867.7,424 867.3,427.5 867,431.1 866.7,434.6 866.4,438.2 866.1,441.7 865.8,445.2 865.5,448.8 865.1,452.3 864.8,455.9 864.5,459.4 864.2,463 863.9,466.5 863.6,470.1 863.3,473.6 863,477.1 862.6,480.7 862.3,484.2 862,487.8 861.7,491.3 861.4,494.9 861.1,498.4 860.8,502 860.5,505.5 860.2,509 859.8,512.6 859.5,516.1 859.2,519.7 858.9,523.2 858.6,526.8 858.3,530.3 858,533.9 857.7,537.4 857.4,541 857,544.5 856.7,548 856.4,551.6 856.1,555.1 855.8,558.7 855.5,562.2 855.2,565.8 854.9,569.3 854.6,572.9 854.3,576.4 854,579.9 853.7,583.5 853.4,587 853.1,590.6 852.8,594.1 852.5,597.7 852.2,601.2 851.9,604.8 851.6,608.3 851.3,611.8 851,615.4 850.7,618.9 850.4,622.5 850.1,626 849.8,629.6 849.5,633.1 849.2,636.7 848.9,640.2 848.6,643.7 848.3,647.3 848,650.8 847.7,654.4 847.4,657.9 847.1,661.5 846.8,665 846.5,668.6 846.2,672.1 845.9,675.7 845.6,679.2 845.3,682.7 845,686.3 844.7,689.8 844.4,693.4 844.1,696.9 843.8,700.5 843.5,704 843.2,707.6 842.9,711.1 842.6,714.6 842.3,718.2 842,721.7 841.6,725.3 841.3,728.8 841,732.4 840.7,735.9 840.4,739.5 840,743 839.7,746.5 839.4,750.1 839,753.6 838.7,757.2 838.4,760.7 838,764.3 837.7,767.8 837.4,771.4 837,774.9 836.7,778.4 836.3,782 836,785.5 835.7,789.1 835.3,792.6 835,796.2 834.6,799.7 834.3,803.3 833.9,806.8 833.6,810.4 833.2,813.9 832.8,817.4 832.5,821 832.1,824.5 831.8,828.1 831.4,831.6 831,835.2 830.6,838.7 830.3,842.3 829.9,845.8 829.5,849.3 829.1,852.9 828.7,856.4 828.3,860 827.9,863.5 827.4,867.1 827,870.6 826.6,874.2 826.1,877.7 825.7,881.2 825.2,884.8 824.8,888.3 824.3,891.9 823.9,895.4 823.4,899 822.9,902.5 822.4,906.1 821.9,909.6 821.4,913.1 820.9,916.7 820.4,920.2 819.9,923.8 819.4,927.3 818.9,930.9 818.4,934.4 817.8,938 817.3,941.5 816.8,945.1 816.2,948.6 815.7,952.1 815.1,955.7 814.6,959.2 814,962.8 813.5,966.3 812.9,969.9 812.3,973.4 811.8,977 811.2,980.5 810.6,984 810,987.6 809.4,991.1 808.8,994.7 808.2,998.2 807.5,1001.8 806.9,1005.3 806.3,1008.9 805.6,1012.4 807.4,1017.6 809.1,1020.3 811.4,1022.1 814.4,1023.6 818.1,1024.9 821.8,1026.6 825.4,1028.8 828.9,1031.3 832.3,1034.3 836.1,1036.8 840.2,1038.9 844.6,1040.6 849.3,1041.8 854,1042.8 858.7,1043.5 863.4,1044 868.1,1044.2 873.4,1044.2 879.2,1044 885.5,1043.5 892.4,1042.9 898.4,1041.9 903.4,1040.6 907.5,1039 910.6,1037.1 914.5,1035.3 919.2,1033.4 924.6,1031.7 930.8,1030 936.1,1027.8 940.5,1025.1 944.7,1020.9 950.6,1012.4 949.9,1008.9 949.3,1005.3 948.7,1001.8 948,998.2 947.4,994.7 946.8,991.1 946.2,987.6 945.6,984 945,980.5 944.4,977 943.9,973.4 943.3,969.9 942.7,966.3 942.2,962.8 941.6,959.2 941.1,955.7 940.5,952.1 940,948.6 939.4,945.1 938.9,941.5 938.4,938 937.8,934.4 937.3,930.9 936.8,927.3 936.3,923.8 935.8,920.2 935.3,916.7 934.8,913.1 934.3,909.6 933.8,906.1 933.3,902.5 932.8,899 932.3,895.4 931.9,891.9 931.4,888.3 931,884.8 930.5,881.2 930.1,877.7 929.6,874.2 929.2,870.6 928.8,867.1 928.3,863.5 927.9,860 927.5,856.4 927.1,852.9 926.7,849.3 926.3,845.8 925.9,842.3 925.6,838.7 925.2,835.2 924.8,831.6 924.4,828.1 924.1,824.5 923.7,821 923.4,817.4 923,813.9 922.6,810.4 922.3,806.8 921.9,803.3 921.6,799.7 921.2,796.2 920.9,792.6 920.5,789.1 920.2,785.5 919.9,782 919.5,778.4 919.2,774.9 918.8,771.4 918.5,767.8 918.2,764.3 917.8,760.7 917.5,757.2 917.2,753.6 916.8,750.1 916.5,746.5 916.2,743 915.8,739.5 915.5,735.9 915.2,732.4 914.9,728.8 914.6,725.3 914.2,721.7 913.9,718.2 913.6,714.6 913.3,711.1 913,707.6 912.7,704 912.4,700.5 912.1,696.9 911.8,693.4 911.5,689.8 911.2,686.3 910.9,682.7 910.6,679.2 910.3,675.7 910,672.1 909.7,668.6 909.4,665 909.1,661.5 908.8,657.9 908.5,654.4 908.2,650.8 907.9,647.3 907.6,643.7 907.3,640.2 907,636.7 906.7,633.1 906.4,629.6 906.1,626 905.8,622.5 905.5,618.9 905.2,615.4 904.9,611.8 904.6,608.3 904.3,604.8 904,601.2 903.7,597.7 903.4,594.1 903.1,590.6 902.8,587 902.5,583.5 902.2,579.9 901.9,576.4 901.6,572.9 901.3,569.3 901,565.8 900.7,562.2 900.4,558.7 900.1,555.1 899.8,551.6 899.5,548 899.2,544.5 898.8,541 898.5,537.4 898.2,533.9 897.9,530.3 897.6,526.8 897.3,523.2 897,519.7 896.7,516.1 896.4,512.6 896,509 895.7,505.5 895.4,502 895.1,498.4 894.8,494.9 894.5,491.3 894.2,487.8 893.9,484.2 893.6,480.7 893.2,477.1 892.9,473.6 892.6,470.1 892.3,466.5 892,463 891.7,459.4 891.4,455.9 891.1,452.3 890.7,448.8 890.4,445.2 890.1,441.7 889.8,438.2 889.5,434.6 889.2,431.1 888.9,427.5 888.5,424 888.2,420.4 887.9,416.9 887.6,413.3 887.3,409.8 887,406.3 886.7,402.7 886.3,399.2 886,395.6 885.7,392.1 885.4,388.5 885.1,385 884.8,381.4 884.4,377.9 884.1,374.3 883.8,370.8 883.5,367.3 883.2,363.7 882.9,360.2 882.5,356.6 882.2,353.1 881.9,349.5 881.6,346 881.3,342.4 881,338.9 880.6,335.4 880.3,331.8 880,328.3 879.7,324.7 879.4,321.2 879.1,317.6 878.7,314.1 878.4,310.5 878.1,307" fill="url(#cg)"/>
<polygon points="870.7,412.8 870.3,418.9 869.9,424.9 869.5,431 869.1,437 868.6,443.1 868.2,449.1 867.8,455.2 867.4,461.3 867,467.3 866.5,473.4 866.1,479.4 865.7,485.5 865.3,491.5 864.9,497.6 864.5,503.7 864.1,509.7 863.6,515.8 863.2,521.8 862.8,527.9 862.4,533.9 862,540 861.6,546.1 861.2,552.1 860.7,558.2 860.3,564.2 859.9,570.3 859.5,576.3 859.1,582.4 858.7,588.4 858.3,594.5 857.9,600.6 857.5,606.6 857.1,612.7 856.7,618.7 856.3,624.8 856,630.8 855.6,636.9 855.2,643 854.8,649 854.4,655.1 854,661.1 853.6,667.2 853.2,673.2 852.8,679.3 852.4,685.4 852,691.4 851.6,697.5 851.2,703.5 850.7,709.6 850.3,715.6 849.9,721.7 849.5,727.7 849.1,733.8 848.6,739.9 848.2,745.9 847.8,752 847.3,758 846.9,764.1 846.4,770.1 846,776.2 845.5,782.3 845,788.3 844.6,794.4 844.1,800.4 843.7,806.5 843.2,812.5 842.7,818.6 842.2,824.6 841.7,830.7 841.2,836.8 840.7,842.8 840.2,848.9 839.7,854.9 839.1,861 838.6,867 838,873.1 837.4,879.2 836.8,885.2 836.2,891.3 835.6,897.3 835,903.4 834.3,909.4 833.6,915.5 833,921.6 832.3,927.6 831.6,933.7 830.9,939.7 830.2,945.8 829.5,951.8 828.7,957.9 828,963.9 827.2,970 826.5,976.1 825.7,982.1 824.9,988.2 824.1,994.2 823.3,1000.3 822.4,1006.3 821.6,1012.4 822.9,1017.1 824.3,1019.5 826.1,1021.2 828.4,1022.6 831.3,1023.7 834.2,1025.3 837,1027.2 839.7,1029.5 842.4,1032.2 845.3,1034.5 848.5,1036.4 851.9,1038 855.6,1039.1 859.3,1040 863,1040.6 866.6,1041 870.3,1041.2 874.4,1041.2 878.9,1041 883.9,1040.6 889.3,1040 893.9,1039.2 897.8,1038 901,1036.6 903.4,1034.8 906.5,1033.1 910.1,1031.5 914.4,1029.9 919.2,1028.4 923.3,1026.4 926.8,1023.9 930,1020.1 934.6,1012.4 933.8,1006.3 932.9,1000.3 932.1,994.2 931.3,988.2 930.5,982.1 929.7,976.1 929,970 928.2,963.9 927.5,957.9 926.7,951.8 926,945.8 925.3,939.7 924.6,933.7 923.9,927.6 923.2,921.6 922.6,915.5 921.9,909.4 921.2,903.4 920.6,897.3 920,891.3 919.4,885.2 918.8,879.2 918.2,873.1 917.6,867 917.1,861 916.5,854.9 916,848.9 915.5,842.8 915,836.8 914.5,830.7 914,824.6 913.5,818.6 913,812.5 912.5,806.5 912.1,800.4 911.6,794.4 911.2,788.3 910.7,782.3 910.2,776.2 909.8,770.1 909.3,764.1 908.9,758 908.4,752 908,745.9 907.6,739.9 907.1,733.8 906.7,727.7 906.3,721.7 905.9,715.6 905.5,709.6 905,703.5 904.6,697.5 904.2,691.4 903.8,685.4 903.4,679.3 903,673.2 902.6,667.2 902.2,661.1 901.8,655.1 901.4,649 901,643 900.6,636.9 900.2,630.8 899.9,624.8 899.5,618.7 899.1,612.7 898.7,606.6 898.3,600.6 897.9,594.5 897.5,588.4 897.1,582.4 896.7,576.3 896.3,570.3 895.9,564.2 895.5,558.2 895,552.1 894.6,546.1 894.2,540 893.8,533.9 893.4,527.9 893,521.8 892.6,515.8 892.1,509.7 891.7,503.7 891.3,497.6 890.9,491.5 890.5,485.5 890.1,479.4 889.7,473.4 889.2,467.3 888.8,461.3 888.4,455.2 888,449.1 887.6,443.1 887.1,437 886.7,431 886.3,424.9 885.9,418.9 885.5,412.8" fill="url(#cb)" opacity="0.3"/>
<polygon points="871.9,412.8 871.5,418.9 871.2,424.9 870.8,431 870.4,437 870.1,443.1 869.7,449.1 869.4,455.2 869,461.3 868.7,467.3 868.3,473.4 868,479.4 867.6,485.5 867.3,491.5 866.9,497.6 866.6,503.7 866.2,509.7 865.9,515.8 865.5,521.8 865.2,527.9 864.8,533.9 864.5,540 864.1,546.1 863.8,552.1 863.4,558.2 863.1,564.2 862.7,570.3 862.4,576.3 862,582.4 861.7,588.4 861.4,594.5 861,600.6 860.7,606.6 860.4,612.7 860,618.7 859.7,624.8 859.4,630.8 859,636.9 858.7,643 858.4,649 858,655.1 857.7,661.1 857.3,667.2 857,673.2 856.7,679.3 856.3,685.4 856,691.4 855.6,697.5 855.3,703.5 855,709.6 854.6,715.6 854.2,721.7 853.9,727.7 853.5,733.8 853.2,739.9 852.8,745.9 852.4,752 852,758 851.7,764.1 851.3,770.1 850.9,776.2 850.5,782.3 850.1,788.3 849.7,794.4 849.4,800.4 849,806.5 848.6,812.5 848.2,818.6 847.7,824.6 847.3,830.7 846.9,836.8 846.5,842.8 846,848.9 845.6,854.9 845.1,861 844.7,867 844.2,873.1 843.7,879.2 843.2,885.2 842.7,891.3 842.1,897.3 841.6,903.4 841,909.4 840.5,915.5 839.9,921.6 839.3,927.6 838.7,933.7 838.2,939.7 837.5,945.8 836.9,951.8 836.3,957.9 835.7,963.9 835.1,970 834.4,976.1 833.8,982.1 833.1,988.2 832.4,994.2 831.7,1000.3 831,1006.3 830.2,1012.4 831.4,1017.1 832.6,1019.5 834.1,1021.2 836.1,1022.6 838.5,1023.7 840.9,1025.3 843.3,1027.2 845.6,1029.5 847.9,1032.2 850.4,1034.5 853.1,1036.4 856,1038 859.1,1039.1 862.2,1040 865.3,1040.6 868.4,1041 871.5,1041.2 875,1041.2 878.8,1041 883,1040.6 887.6,1040 891.5,1039.2 894.8,1038 897.5,1036.6 899.5,1034.8 902.1,1033.1 905.2,1031.5 908.8,1029.9 912.9,1028.4 916.4,1026.4 919.3,1023.9 922,1020.1 926,1012.4 925.2,1006.3 924.5,1000.3 923.8,994.2 923.1,988.2 922.4,982.1 921.8,976.1 921.1,970 920.5,963.9 919.9,957.9 919.3,951.8 918.7,945.8 918,939.7 917.5,933.7 916.9,927.6 916.3,921.6 915.7,915.5 915.2,909.4 914.6,903.4 914.1,897.3 913.5,891.3 913,885.2 912.5,879.2 912,873.1 911.5,867 911.1,861 910.6,854.9 910.2,848.9 909.7,842.8 909.3,836.8 908.9,830.7 908.5,824.6 908,818.6 907.6,812.5 907.2,806.5 906.8,800.4 906.5,794.4 906.1,788.3 905.7,782.3 905.3,776.2 904.9,770.1 904.5,764.1 904.2,758 903.8,752 903.4,745.9 903,739.9 902.7,733.8 902.3,727.7 902,721.7 901.6,715.6 901.2,709.6 900.9,703.5 900.6,697.5 900.2,691.4 899.9,685.4 899.5,679.3 899.2,673.2 898.9,667.2 898.5,661.1 898.2,655.1 897.8,649 897.5,643 897.2,636.9 896.8,630.8 896.5,624.8 896.2,618.7 895.8,612.7 895.5,606.6 895.2,600.6 894.8,594.5 894.5,588.4 894.2,582.4 893.8,576.3 893.5,570.3 893.1,564.2 892.8,558.2 892.4,552.1 892.1,546.1 891.7,540 891.4,533.9 891,527.9 890.7,521.8 890.3,515.8 890,509.7 889.6,503.7 889.3,497.6 888.9,491.5 888.6,485.5 888.2,479.4 887.9,473.4 887.5,467.3 887.2,461.3 886.8,455.2 886.5,449.1 886.1,443.1 885.8,437 885.4,431 885,424.9 884.7,418.9 884.3,412.8" fill="url(#cb)" opacity="0.35"/>
<polygon points="873,412.8 872.7,418.9 872.4,424.9 872.1,431 871.8,437 871.5,443.1 871.3,449.1 871,455.2 870.7,461.3 870.4,467.3 870.1,473.4 869.8,479.4 869.5,485.5 869.2,491.5 869,497.6 868.7,503.7 868.4,509.7 868.1,515.8 867.8,521.8 867.5,527.9 867.2,533.9 866.9,540 866.7,546.1 866.4,552.1 866.1,558.2 865.8,564.2 865.5,570.3 865.2,576.3 865,582.4 864.7,588.4 864.4,594.5 864.1,600.6 863.9,606.6 863.6,612.7 863.3,618.7 863,624.8 862.8,630.8 862.5,636.9 862.2,643 861.9,649 861.7,655.1 861.4,661.1 861.1,667.2 860.8,673.2 860.6,679.3 860.3,685.4 860,691.4 859.7,697.5 859.4,703.5 859.2,709.6 858.9,715.6 858.6,721.7 858.3,727.7 858,733.8 857.7,739.9 857.4,745.9 857.1,752 856.8,758 856.5,764.1 856.2,770.1 855.8,776.2 855.5,782.3 855.2,788.3 854.9,794.4 854.6,800.4 854.3,806.5 853.9,812.5 853.6,818.6 853.3,824.6 852.9,830.7 852.6,836.8 852.2,842.8 851.9,848.9 851.5,854.9 851.1,861 850.7,867 850.3,873.1 849.9,879.2 849.5,885.2 849.1,891.3 848.7,897.3 848.2,903.4 847.8,909.4 847.3,915.5 846.9,921.6 846.4,927.6 845.9,933.7 845.4,939.7 844.9,945.8 844.4,951.8 843.9,957.9 843.4,963.9 842.9,970 842.4,976.1 841.8,982.1 841.3,988.2 840.7,994.2 840.1,1000.3 839.5,1006.3 839,1012.4 839.9,1017.1 840.9,1019.5 842.1,1021.2 843.7,1022.6 845.7,1023.7 847.7,1025.3 849.6,1027.2 851.5,1029.5 853.4,1032.2 855.4,1034.5 857.6,1036.4 860,1038 862.5,1039.1 865.1,1040 867.6,1040.6 870.2,1041 872.7,1041.2 875.6,1041.2 878.7,1041 882.1,1040.6 885.8,1040 889,1039.2 891.8,1038 894,1036.6 895.6,1034.8 897.8,1033.1 900.3,1031.5 903.2,1029.9 906.6,1028.4 909.4,1026.4 911.8,1023.9 914.1,1020.1 917.2,1012.4 916.7,1006.3 916.1,1000.3 915.5,994.2 914.9,988.2 914.4,982.1 913.8,976.1 913.3,970 912.8,963.9 912.3,957.9 911.8,951.8 911.3,945.8 910.8,939.7 910.3,933.7 909.8,927.6 909.3,921.6 908.9,915.5 908.4,909.4 908,903.4 907.5,897.3 907.1,891.3 906.7,885.2 906.3,879.2 905.9,873.1 905.5,867 905.1,861 904.7,854.9 904.3,848.9 904,842.8 903.6,836.8 903.3,830.7 902.9,824.6 902.6,818.6 902.3,812.5 901.9,806.5 901.6,800.4 901.3,794.4 901,788.3 900.7,782.3 900.4,776.2 900,770.1 899.7,764.1 899.4,758 899.1,752 898.8,745.9 898.5,739.9 898.2,733.8 897.9,727.7 897.6,721.7 897.3,715.6 897,709.6 896.8,703.5 896.5,697.5 896.2,691.4 895.9,685.4 895.6,679.3 895.4,673.2 895.1,667.2 894.8,661.1 894.5,655.1 894.3,649 894,643 893.7,636.9 893.4,630.8 893.2,624.8 892.9,618.7 892.6,612.7 892.3,606.6 892.1,600.6 891.8,594.5 891.5,588.4 891.2,582.4 891,576.3 890.7,570.3 890.4,564.2 890.1,558.2 889.8,552.1 889.5,546.1 889.3,540 889,533.9 888.7,527.9 888.4,521.8 888.1,515.8 887.8,509.7 887.5,503.7 887.2,497.6 887,491.5 886.7,485.5 886.4,479.4 886.1,473.4 885.8,467.3 885.5,461.3 885.2,455.2 884.9,449.1 884.7,443.1 884.4,437 884.1,431 883.8,424.9 883.5,418.9 883.2,412.8" fill="url(#cb)" opacity="0.4"/>
<polygon points="874.1,412.8 873.9,418.9 873.7,424.9 873.5,431 873.2,437 873,443.1 872.8,449.1 872.6,455.2 872.3,461.3 872.1,467.3 871.9,473.4 871.7,479.4 871.4,485.5 871.2,491.5 871,497.6 870.8,503.7 870.5,509.7 870.3,515.8 870.1,521.8 869.9,527.9 869.6,533.9 869.4,540 869.2,546.1 869,552.1 868.8,558.2 868.5,564.2 868.3,570.3 868.1,576.3 867.9,582.4 867.7,588.4 867.5,594.5 867.2,600.6 867,606.6 866.8,612.7 866.6,618.7 866.4,624.8 866.2,630.8 866,636.9 865.7,643 865.5,649 865.3,655.1 865.1,661.1 864.9,667.2 864.7,673.2 864.5,679.3 864.2,685.4 864,691.4 863.8,697.5 863.6,703.5 863.4,709.6 863.1,715.6 862.9,721.7 862.7,727.7 862.5,733.8 862.2,739.9 862,745.9 861.8,752 861.5,758 861.3,764.1 861,770.1 860.8,776.2 860.5,782.3 860.3,788.3 860.1,794.4 859.8,800.4 859.6,806.5 859.3,812.5 859,818.6 858.8,824.6 858.5,830.7 858.3,836.8 858,842.8 857.7,848.9 857.4,854.9 857.1,861 856.8,867 856.5,873.1 856.2,879.2 855.9,885.2 855.5,891.3 855.2,897.3 854.9,903.4 854.5,909.4 854.2,915.5 853.8,921.6 853.4,927.6 853.1,933.7 852.7,939.7 852.3,945.8 851.9,951.8 851.5,957.9 851.1,963.9 850.7,970 850.3,976.1 849.9,982.1 849.5,988.2 849,994.2 848.6,1000.3 848.1,1006.3 847.6,1012.4 848.4,1017.1 849.1,1019.5 850.1,1021.2 851.3,1022.6 852.9,1023.7 854.4,1025.3 856,1027.2 857.4,1029.5 858.9,1032.2 860.5,1034.5 862.2,1036.4 864,1038 866,1039.1 868,1040 870,1040.6 871.9,1041 873.9,1041.2 876.1,1041.2 878.6,1041 881.2,1040.6 884.1,1040 886.6,1039.2 888.7,1038 890.4,1036.6 891.7,1034.8 893.4,1033.1 895.3,1031.5 897.6,1029.9 900.2,1028.4 902.5,1026.4 904.3,1023.9 906.1,1020.1 908.6,1012.4 908.1,1006.3 907.6,1000.3 907.2,994.2 906.7,988.2 906.3,982.1 905.9,976.1 905.5,970 905.1,963.9 904.7,957.9 904.3,951.8 903.9,945.8 903.5,939.7 903.1,933.7 902.8,927.6 902.4,921.6 902,915.5 901.7,909.4 901.3,903.4 901,897.3 900.7,891.3 900.3,885.2 900,879.2 899.7,873.1 899.4,867 899.1,861 898.8,854.9 898.5,848.9 898.2,842.8 897.9,836.8 897.7,830.7 897.4,824.6 897.2,818.6 896.9,812.5 896.6,806.5 896.4,800.4 896.1,794.4 895.9,788.3 895.7,782.3 895.4,776.2 895.2,770.1 894.9,764.1 894.7,758 894.4,752 894.2,745.9 894,739.9 893.7,733.8 893.5,727.7 893.3,721.7 893.1,715.6 892.8,709.6 892.6,703.5 892.4,697.5 892.2,691.4 892,685.4 891.7,679.3 891.5,673.2 891.3,667.2 891.1,661.1 890.9,655.1 890.7,649 890.5,643 890.2,636.9 890,630.8 889.8,624.8 889.6,618.7 889.4,612.7 889.2,606.6 889,600.6 888.7,594.5 888.5,588.4 888.3,582.4 888.1,576.3 887.9,570.3 887.7,564.2 887.4,558.2 887.2,552.1 887,546.1 886.8,540 886.6,533.9 886.3,527.9 886.1,521.8 885.9,515.8 885.7,509.7 885.4,503.7 885.2,497.6 885,491.5 884.8,485.5 884.5,479.4 884.3,473.4 884.1,467.3 883.9,461.3 883.6,455.2 883.4,449.1 883.2,443.1 883,437 882.7,431 882.5,424.9 882.3,418.9 882.1,412.8" fill="url(#cb)" opacity="0.4"/>
<clipPath id="c7"><polygon points="878.1,307 877.8,310.5 877.5,314.1 877.1,317.6 876.8,321.2 876.5,324.7 876.2,328.3 875.9,331.8 875.6,335.4 875.2,338.9 874.9,342.4 874.6,346 874.3,349.5 874,353.1 873.7,356.6 873.3,360.2 873,363.7 872.7,367.3 872.4,370.8 872.1,374.3 871.8,377.9 871.4,381.4 871.1,385 870.8,388.5 870.5,392.1 870.2,395.6 869.9,399.2 869.5,402.7 869.2,406.3 868.9,409.8 868.6,413.3 868.3,416.9 868,420.4 867.7,424 867.3,427.5 867,431.1 866.7,434.6 866.4,438.2 866.1,441.7 865.8,445.2 865.5,448.8 865.1,452.3 864.8,455.9 864.5,459.4 864.2,463 863.9,466.5 863.6,470.1 863.3,473.6 863,477.1 862.6,480.7 862.3,484.2 862,487.8 861.7,491.3 861.4,494.9 861.1,498.4 860.8,502 860.5,505.5 860.2,509 859.8,512.6 859.5,516.1 859.2,519.7 858.9,523.2 858.6,526.8 858.3,530.3 858,533.9 857.7,537.4 857.4,541 857,544.5 856.7,548 856.4,551.6 856.1,555.1 855.8,558.7 855.5,562.2 855.2,565.8 854.9,569.3 854.6,572.9 854.3,576.4 854,579.9 853.7,583.5 853.4,587 853.1,590.6 852.8,594.1 852.5,597.7 852.2,601.2 851.9,604.8 851.6,608.3 851.3,611.8 851,615.4 850.7,618.9 850.4,622.5 850.1,626 849.8,629.6 849.5,633.1 849.2,636.7 848.9,640.2 848.6,643.7 848.3,647.3 848,650.8 847.7,654.4 847.4,657.9 847.1,661.5 846.8,665 846.5,668.6 846.2,672.1 845.9,675.7 845.6,679.2 845.3,682.7 845,686.3 844.7,689.8 844.4,693.4 844.1,696.9 843.8,700.5 843.5,704 843.2,707.6 842.9,711.1 842.6,714.6 842.3,718.2 842,721.7 841.6,725.3 841.3,728.8 841,732.4 840.7,735.9 840.4,739.5 840,743 839.7,746.5 839.4,750.1 839,753.6 838.7,757.2 838.4,760.7 838,764.3 837.7,767.8 837.4,771.4 837,774.9 836.7,778.4 836.3,782 836,785.5 835.7,789.1 835.3,792.6 835,796.2 834.6,799.7 834.3,803.3 833.9,806.8 833.6,810.4 833.2,813.9 832.8,817.4 832.5,821 832.1,824.5 831.8,828.1 831.4,831.6 831,835.2 830.6,838.7 830.3,842.3 829.9,845.8 829.5,849.3 829.1,852.9 828.7,856.4 828.3,860 827.9,863.5 827.4,867.1 827,870.6 826.6,874.2 826.1,877.7 825.7,881.2 825.2,884.8 824.8,888.3 824.3,891.9 823.9,895.4 823.4,899 822.9,902.5 822.4,906.1 821.9,909.6 821.4,913.1 820.9,916.7 820.4,920.2 819.9,923.8 819.4,927.3 818.9,930.9 818.4,934.4 817.8,938 817.3,941.5 816.8,945.1 816.2,948.6 815.7,952.1 815.1,955.7 814.6,959.2 814,962.8 813.5,966.3 812.9,969.9 812.3,973.4 811.8,977 811.2,980.5 810.6,984 810,987.6 809.4,991.1 808.8,994.7 808.2,998.2 807.5,1001.8 806.9,1005.3 806.3,1008.9 805.6,1012.4 807.4,1017.6 809.1,1020.3 811.4,1022.1 814.4,1023.6 818.1,1024.9 821.8,1026.6 825.4,1028.8 828.9,1031.3 832.3,1034.3 836.1,1036.8 840.2,1038.9 844.6,1040.6 849.3,1041.8 854,1042.8 858.7,1043.5 863.4,1044 868.1,1044.2 873.4,1044.2 879.2,1044 885.5,1043.5 892.4,1042.9 898.4,1041.9 903.4,1040.6 907.5,1039 910.6,1037.1 914.5,1035.3 919.2,1033.4 924.6,1031.7 930.8,1030 936.1,1027.8 940.5,1025.1 944.7,1020.9 950.6,1012.4 949.9,1008.9 949.3,1005.3 948.7,1001.8 948,998.2 947.4,994.7 946.8,991.1 946.2,987.6 945.6,984 945,980.5 944.4,977 943.9,973.4 943.3,969.9 942.7,966.3 942.2,962.8 941.6,959.2 941.1,955.7 940.5,952.1 940,948.6 939.4,945.1 938.9,941.5 938.4,938 937.8,934.4 937.3,930.9 936.8,927.3 936.3,923.8 935.8,920.2 935.3,916.7 934.8,913.1 934.3,909.6 933.8,906.1 933.3,902.5 932.8,899 932.3,895.4 931.9,891.9 931.4,888.3 931,884.8 930.5,881.2 930.1,877.7 929.6,874.2 929.2,870.6 928.8,867.1 928.3,863.5 927.9,860 927.5,856.4 927.1,852.9 926.7,849.3 926.3,845.8 925.9,842.3 925.6,838.7 925.2,835.2 924.8,831.6 924.4,828.1 924.1,824.5 923.7,821 923.4,817.4 923,813.9 922.6,810.4 922.3,806.8 921.9,803.3 921.6,799.7 921.2,796.2 920.9,792.6 920.5,789.1 920.2,785.5 919.9,782 919.5,778.4 919.2,774.9 918.8,771.4 918.5,767.8 918.2,764.3 917.8,760.7 917.5,757.2 917.2,753.6 916.8,750.1 916.5,746.5 916.2,743 915.8,739.5 915.5,735.9 915.2,732.4 914.9,728.8 914.6,725.3 914.2,721.7 913.9,718.2 913.6,714.6 913.3,711.1 913,707.6 912.7,704 912.4,700.5 912.1,696.9 911.8,693.4 911.5,689.8 911.2,686.3 910.9,682.7 910.6,679.2 910.3,675.7 910,672.1 909.7,668.6 909.4,665 909.1,661.5 908.8,657.9 908.5,654.4 908.2,650.8 907.9,647.3 907.6,643.7 907.3,640.2 907,636.7 906.7,633.1 906.4,629.6 906.1,626 905.8,622.5 905.5,618.9 905.2,615.4 904.9,611.8 904.6,608.3 904.3,604.8 904,601.2 903.7,597.7 903.4,594.1 903.1,590.6 902.8,587 902.5,583.5 902.2,579.9 901.9,576.4 901.6,572.9 901.3,569.3 901,565.8 900.7,562.2 900.4,558.7 900.1,555.1 899.8,551.6 899.5,548 899.2,544.5 898.8,541 898.5,537.4 898.2,533.9 897.9,530.3 897.6,526.8 897.3,523.2 897,519.7 896.7,516.1 896.4,512.6 896,509 895.7,505.5 895.4,502 895.1,498.4 894.8,494.9 894.5,491.3 894.2,487.8 893.9,484.2 893.6,480.7 893.2,477.1 892.9,473.6 892.6,470.1 892.3,466.5 892,463 891.7,459.4 891.4,455.9 891.1,452.3 890.7,448.8 890.4,445.2 890.1,441.7 889.8,438.2 889.5,434.6 889.2,431.1 888.9,427.5 888.5,424 888.2,420.4 887.9,416.9 887.6,413.3 887.3,409.8 887,406.3 886.7,402.7 886.3,399.2 886,395.6 885.7,392.1 885.4,388.5 885.1,385 884.8,381.4 884.4,377.9 884.1,374.3 883.8,370.8 883.5,367.3 883.2,363.7 882.9,360.2 882.5,356.6 882.2,353.1 881.9,349.5 881.6,346 881.3,342.4 881,338.9 880.6,335.4 880.3,331.8 880,328.3 879.7,324.7 879.4,321.2 879.1,317.6 878.7,314.1 878.4,310.5 878.1,307"/></clipPath>
<g fill="none" stroke="#fff" stroke-width="2.3" stroke-linecap="round" clip-path="url(#c7)">
<path d="M878.1,412v22.1M878.1,447.4v22.2M878.1,483v22.3M878.1,518.6v22.4M878.1,554.3v22.7M878.1,590.7v23.3M872.9,609v23.4M883.3,609v23.4M878.1,628v23.4M872.9,646.5v23.3M883.3,646.5v23.3M878.1,665.5v23.2M872.9,684v22.9M883.3,684v22.9M878.1,702.6v22.5M872.9,720.7v22M883.3,720.7v22M878.1,738.8v21.4M872.9,756v20.8M883.3,756v20.8M878.1,772.9v20.5M872.9,789.4v20.3M883.3,789.4v20.3M878.1,805.9v19.9M872.9,822v19.4M883.3,822v19.4M878.1,837.9v18.7M872.9,853.2v17.9M883.3,853.2v17.9M867.7,867.6v17M878.1,868.1v17M888.5,867.6v17M872.9,882.1v16.2M883.3,882.1v16.2M867.7,895v15.5M878.1,895.4v15.5M888.5,895v15.5M872.9,908v15M883.3,908v15M867.7,920v14.5M878.1,920.4v14.5M888.5,920v14.5M872.9,932.1v14.1M883.3,932.1v14.1M867.7,943.2v13.7M878.1,943.6v13.7M888.5,943.2v13.7M872.9,954.6v13.4M883.3,954.6v13.4M867.7,965.2v13.2M878.1,965.6v13.2M888.5,965.2v13.2M872.9,976.2v12.9M883.3,976.2v12.9M867.7,986.4v12.6M878.1,986.7v12.6M888.5,986.4v12.6M872.9,996.9v12.3M883.3,996.9v12.3M867.7,1006.6v12M878.1,1007v12M888.5,1006.6v12M872.9,1016.7v11.7M883.3,1016.7v11.7M867.7,1025.9v11.3M878.1,1026.2v11.3M888.5,1025.9v11.3M862.5,1037.7v5M872.9,1038.4v5M883.3,1038.4v5M893.7,1037.7v5" stroke-opacity="0.66"/>
<path d="M878.1,376.7v22.1M872.9,464.7v22.3M883.3,464.7v22.3M872.9,500.4v22.4M883.3,500.4v22.4M872.9,536.2v22.4M883.3,536.2v22.4M872.9,572.1v23M883.3,572.1v23M867.7,589.7v23.3M888.5,589.7v23.3M867.7,627.1v23.4M888.5,627.1v23.4M867.7,664.7v23.2M888.5,664.7v23.2M867.7,701.9v22.5M888.5,701.9v22.5M862.5,719.3v22M893.7,719.3v22M867.7,738.1v21.4M888.5,738.1v21.4M862.5,754.7v20.8M893.7,754.7v20.8M867.7,772.3v20.5M888.5,772.3v20.5M862.5,788.2v20.3M893.7,788.2v20.3M867.7,805.4v19.9M888.5,805.4v19.9M862.5,820.9v19.4M893.7,820.9v19.4M867.7,837.4v18.7M888.5,837.4v18.7M862.5,852.2v17.9M893.7,852.2v17.9M857.3,866.1v17M898.9,866.1v17M862.5,881.1v16.2M893.7,881.1v16.2M857.3,893.5v15.5M898.9,893.5v15.5M862.5,907.1v15M893.7,907.1v15M857.3,918.6v14.5M898.9,918.6v14.5M862.5,931.2v14.1M893.7,931.2v14.1M857.3,941.9v13.7M898.9,941.9v13.7M852.1,952.1v13.4M862.5,953.8v13.4M893.7,953.8v13.4M904.1,952.1v13.4M857.3,963.9v13.2M898.9,963.9v13.2M852.1,973.8v12.9M862.5,975.4v12.9M893.7,975.4v12.9M904.1,973.8v12.9M857.3,985.2v12.6M898.9,985.2v12.6M852.1,994.6v12.3M862.5,996.2v12.3M893.7,996.2v12.3M904.1,994.6v12.3M857.3,1005.5v12M898.9,1005.5v12M852.1,1014.5v11.7M862.5,1016v11.7M893.7,1016v11.7M904.1,1014.5v11.7M846.9,1023v11.3M857.3,1024.9v11.3M898.9,1024.9v11.3M909.3,1023v11.3M852.1,1036.3v5M904.1,1036.3v5" stroke-opacity="0.45"/>
<path d="M878.1,341.5v22M872.9,429.1v22.2M883.3,429.1v22.2M867.7,517.3v22.4M888.5,517.3v22.4M867.7,553.2v22.7M888.5,553.2v22.7M862.5,607v23.4M893.7,607v23.4M862.5,644.8v23.3M893.7,644.8v23.3M862.5,682.4v22.9M893.7,682.4v22.9M857.3,735.9v21.4M898.9,735.9v21.4M857.3,770.4v20.5M898.9,770.4v20.5M857.3,803.6v19.9M898.9,803.6v19.9M852.1,818.4v19.4M904.1,818.4v19.4M857.3,835.8v18.7M898.9,835.8v18.7M852.1,849.9v17.9M904.1,849.9v17.9M852.1,879v16.2M904.1,879v16.2M846.9,890.9v15.5M909.3,890.9v15.5M852.1,905.2v15M904.1,905.2v15M846.9,916.1v14.5M909.3,916.1v14.5M852.1,929.4v14.1M904.1,929.4v14.1M846.9,939.6v13.7M909.3,939.6v13.7M846.9,961.8v13.2M909.3,961.8v13.2M841.7,971.1v12.9M914.5,971.1v12.9M846.9,983.2v12.6M909.3,983.2v12.6M841.7,992.1v12.3M914.5,992.1v12.3M846.9,1003.6v12M909.3,1003.6v12M841.7,1012.1v11.7M914.5,1012.1v11.7M836.5,1020.2v11.3M919.7,1020.2v11.3M841.7,1034.1v5M914.5,1034.1v5" stroke-opacity="0.22"/>
</g>
<polygon points="663.3,846.3 662.4,848.6 661.6,850.9 660.7,853.2 659.8,855.6 658.9,857.9 658.1,860.2 657.2,862.5 656.3,864.8 655.4,867.1 654.6,869.5 653.7,871.8 652.8,874.1 651.9,876.4 651.1,878.7 650.2,881 649.3,883.4 648.5,885.7 647.6,888 646.7,890.3 645.8,892.6 645,894.9 644.1,897.3 643.2,899.6 642.3,901.9 641.5,904.2 640.6,906.5 639.7,908.8 638.8,911.2 638,913.5 637.1,915.8 636.2,918.1 635.4,920.4 634.5,922.7 633.6,925.1 632.7,927.4 631.9,929.7 631,932 630.1,934.3 629.2,936.6 628.4,939 627.5,941.3 626.6,943.6 625.7,945.9 624.9,948.2 624,950.5 623.1,952.9 622.2,955.2 621.4,957.5 620.5,959.8 619.6,962.1 618.8,964.4 617.9,966.8 617,969.1 616.1,971.4 615.3,973.7 614.4,976 613.5,978.3 612.6,980.7 611.8,983 610.9,985.3 610,987.6 609.1,989.9 608.3,992.2 607.4,994.6 606.5,996.9 605.7,999.2 604.8,1001.5 603.9,1003.8 603,1006.1 602.2,1008.5 601.3,1010.8 600.4,1013.1 599.5,1015.4 598.7,1017.7 597.8,1020 596.9,1022.4 596,1024.7 595.2,1027 594.3,1029.3 596,1032.8 597.7,1034.6 599.8,1035.8 602.7,1036.8 606.2,1037.6 609.7,1038.8 613.1,1040.2 616.5,1041.9 619.7,1043.9 623.3,1045.6 627.2,1047 631.4,1048.1 635.9,1048.9 640.4,1049.6 644.8,1050.1 649.3,1050.4 653.8,1050.5 658.8,1050.5 664.3,1050.3 670.4,1050.1 676.9,1049.6 682.6,1049 687.4,1048.1 691.2,1047.1 694.2,1045.8 697.9,1044.5 702.4,1043.3 707.5,1042.2 713.4,1041 718.5,1039.6 722.7,1037.8 726.7,1035 732.3,1029.3 731.4,1027 730.6,1024.7 729.7,1022.4 728.8,1020 727.9,1017.7 727.1,1015.4 726.2,1013.1 725.3,1010.8 724.4,1008.5 723.6,1006.1 722.7,1003.8 721.8,1001.5 720.9,999.2 720.1,996.9 719.2,994.6 718.3,992.2 717.5,989.9 716.6,987.6 715.7,985.3 714.8,983 714,980.7 713.1,978.3 712.2,976 711.3,973.7 710.5,971.4 709.6,969.1 708.7,966.8 707.8,964.4 707,962.1 706.1,959.8 705.2,957.5 704.4,955.2 703.5,952.9 702.6,950.5 701.7,948.2 700.9,945.9 700,943.6 699.1,941.3 698.2,939 697.4,936.6 696.5,934.3 695.6,932 694.7,929.7 693.9,927.4 693,925.1 692.1,922.7 691.2,920.4 690.4,918.1 689.5,915.8 688.6,913.5 687.8,911.2 686.9,908.8 686,906.5 685.1,904.2 684.3,901.9 683.4,899.6 682.5,897.3 681.6,894.9 680.8,892.6 679.9,890.3 679,888 678.1,885.7 677.3,883.4 676.4,881 675.5,878.7 674.7,876.4 673.8,874.1 672.9,871.8 672,869.5 671.2,867.1 670.3,864.8 669.4,862.5 668.5,860.2 667.7,857.9 666.8,855.6 665.9,853.2 665,850.9 664.2,848.6 663.3,846.3" fill="#ffff00"/>
<polygon points="663.3,846.3 662.2,849.3 661.1,852.2 659.9,855.2 658.8,858.2 657.7,861.1 656.6,864.1 655.5,867.1 654.4,870 653.2,873 652.1,876 651,878.9 649.9,881.9 648.8,884.9 647.6,887.8 646.5,890.8 645.4,893.8 644.3,896.7 643.2,899.7 642.1,902.7 640.9,905.6 639.8,908.6 638.7,911.5 637.6,914.5 636.5,917.5 635.3,920.4 634.2,923.4 633.1,926.4 632,929.3 630.9,932.3 631.7,934 632.4,934.8 633.5,935.3 634.8,935.8 636.5,936.2 638.1,936.8 639.7,937.4 641.3,938.2 642.8,939.2 644.5,940 646.3,940.6 648.3,941.1 650.4,941.5 652.5,941.8 654.6,942.1 656.7,942.2 658.8,942.3 661.2,942.3 663.8,942.2 666.6,942.1 669.7,941.9 672.4,941.6 674.6,941.2 676.4,940.7 677.8,940.1 679.6,939.5 681.7,938.9 684.1,938.4 686.9,937.8 689.2,937.1 691.2,936.3 693.1,935 695.7,932.3 694.6,929.3 693.5,926.4 692.4,923.4 691.3,920.4 690.1,917.5 689,914.5 687.9,911.5 686.8,908.6 685.7,905.6 684.5,902.7 683.4,899.7 682.3,896.7 681.2,893.8 680.1,890.8 679,887.8 677.8,884.9 676.7,881.9 675.6,878.9 674.5,876 673.4,873 672.2,870 671.1,867.1 670,864.1 668.9,861.1 667.8,858.2 666.7,855.2 665.5,852.2 664.4,849.3 663.3,846.3" fill="#ffee00"/>
<clipPath id="c8"><polygon points="663.3,846.3 662.4,848.6 661.6,850.9 660.7,853.2 659.8,855.6 658.9,857.9 658.1,860.2 657.2,862.5 656.3,864.8 655.4,867.1 654.6,869.5 653.7,871.8 652.8,874.1 651.9,876.4 651.1,878.7 650.2,881 649.3,883.4 648.5,885.7 647.6,888 646.7,890.3 645.8,892.6 645,894.9 644.1,897.3 643.2,899.6 642.3,901.9 641.5,904.2 640.6,906.5 639.7,908.8 638.8,911.2 638,913.5 637.1,915.8 636.2,918.1 635.4,920.4 634.5,922.7 633.6,925.1 632.7,927.4 631.9,929.7 631,932 630.1,934.3 629.2,936.6 628.4,939 627.5,941.3 626.6,943.6 625.7,945.9 624.9,948.2 624,950.5 623.1,952.9 622.2,955.2 621.4,957.5 620.5,959.8 619.6,962.1 618.8,964.4 617.9,966.8 617,969.1 616.1,971.4 615.3,973.7 614.4,976 613.5,978.3 612.6,980.7 611.8,983 610.9,985.3 610,987.6 609.1,989.9 608.3,992.2 607.4,994.6 606.5,996.9 605.7,999.2 604.8,1001.5 603.9,1003.8 603,1006.1 602.2,1008.5 601.3,1010.8 600.4,1013.1 599.5,1015.4 598.7,1017.7 597.8,1020 596.9,1022.4 596,1024.7 595.2,1027 594.3,1029.3 596,1032.8 597.7,1034.6 599.8,1035.8 602.7,1036.8 606.2,1037.6 609.7,1038.8 613.1,1040.2 616.5,1041.9 619.7,1043.9 623.3,1045.6 627.2,1047 631.4,1048.1 635.9,1048.9 640.4,1049.6 644.8,1050.1 649.3,1050.4 653.8,1050.5 658.8,1050.5 664.3,1050.3 670.4,1050.1 676.9,1049.6 682.6,1049 687.4,1048.1 691.2,1047.1 694.2,1045.8 697.9,1044.5 702.4,1043.3 707.5,1042.2 713.4,1041 718.5,1039.6 722.7,1037.8 726.7,1035 732.3,1029.3 731.4,1027 730.6,1024.7 729.7,1022.4 728.8,1020 727.9,1017.7 727.1,1015.4 726.2,1013.1 725.3,1010.8 724.4,1008.5 723.6,1006.1 722.7,1003.8 721.8,1001.5 720.9,999.2 720.1,996.9 719.2,994.6 718.3,992.2 717.5,989.9 716.6,987.6 715.7,985.3 714.8,983 714,980.7 713.1,978.3 712.2,976 711.3,973.7 710.5,971.4 709.6,969.1 708.7,966.8 707.8,964.4 707,962.1 706.1,959.8 705.2,957.5 704.4,955.2 703.5,952.9 702.6,950.5 701.7,948.2 700.9,945.9 700,943.6 699.1,941.3 698.2,939 697.4,936.6 696.5,934.3 695.6,932 694.7,929.7 693.9,927.4 693,925.1 692.1,922.7 691.2,920.4 690.4,918.1 689.5,915.8 688.6,913.5 687.8,911.2 686.9,908.8 686,906.5 685.1,904.2 684.3,901.9 683.4,899.6 682.5,897.3 681.6,894.9 680.8,892.6 679.9,890.3 679,888 678.1,885.7 677.3,883.4 676.4,881 675.5,878.7 674.7,876.4 673.8,874.1 672.9,871.8 672,869.5 671.2,867.1 670.3,864.8 669.4,862.5 668.5,860.2 667.7,857.9 666.8,855.6 665.9,853.2 665,850.9 664.2,848.6 663.3,846.3"/></clipPath>
<g fill="none" stroke="#fff" stroke-width="1.8" clip-path="url(#c8)">
<path d="M661.3,875v3.7M665.3,875v3.7M663.3,883.6v3.7M661.3,892.1v3.7M665.3,892.1v3.7M659.3,900.5v3.7M663.3,900.6v3.7M667.3,900.5v3.7M661.3,909.1v3.7M665.3,909.1v3.7M659.3,917.6v3.7M663.3,917.7v3.7M667.3,917.6v3.7M657.3,926v3.7M661.3,926.2v3.7M665.3,926.2v3.7M669.3,926v3.7M659.3,934.6v3.7M663.3,934.7v3.7M667.3,934.6v3.7M657.3,943.1v3.7M661.3,943.2v3.7M665.3,943.2v3.7M669.3,943.1v3.7M659.3,951.7v3.7M663.3,951.7v3.7M667.3,951.7v3.7M657.3,960.1v3.7M661.3,960.2v3.7M665.3,960.2v3.7M669.3,960.1v3.7M655.3,968.5v3.7M659.3,968.7v3.7M663.3,968.8v3.7M667.3,968.7v3.7M671.3,968.5v3.7M657.3,977.2v3.7M661.3,977.3v3.7M665.3,977.3v3.7M669.3,977.2v3.7M655.3,985.6v3.7M659.3,985.8v3.7M663.3,985.8v3.7M667.3,985.8v3.7M671.3,985.6v3.7M653.3,994v3.7M657.3,994.2v3.7M661.3,994.3v3.7M665.3,994.3v3.7M669.3,994.2v3.7M673.3,994v3.7M655.3,1002.6v3.7M659.3,1002.8v3.7M663.3,1002.8v3.7M667.3,1002.8v3.7M671.3,1002.6v3.7M653.3,1011.1v3.7M657.3,1011.3v3.7M661.3,1011.3v3.7M665.3,1011.3v3.7M669.3,1011.3v3.7M673.3,1011.1v3.7M651.3,1019.5v3.7M655.3,1019.7v3.7M659.3,1019.8v3.7M663.3,1019.9v3.7M667.3,1019.8v3.7M671.3,1019.7v3.7M675.3,1019.5v3.7M653.3,1028.1v3.7M657.3,1028.3v3.7M661.3,1028.4v3.7M665.3,1028.4v3.7M669.3,1028.3v3.7M673.3,1028.1v3.7M651.3,1036.6v3.7M655.3,1036.7v3.7M659.3,1036.9v3.7M663.3,1036.9v3.7M667.3,1036.9v3.7M671.3,1036.7v3.7M675.3,1036.6v3.7M649.3,1045.2v3.2M653.3,1045.5v3.2M657.3,1045.6v3.2M661.3,1045.7v3.2M665.3,1045.7v3.2M669.3,1045.6v3.2M673.3,1045.5v3.2M677.3,1045.2v3.2" stroke-opacity="0.62"/>
<path d="M663.3,866.6v3.7M659.3,883.4v3.7M667.3,883.4v3.7M657.3,891.8v3.7M669.3,891.8v3.7M655.3,900.1v3.7M671.3,900.1v3.7M657.3,908.9v3.7M669.3,908.9v3.7M655.3,917.3v3.7M671.3,917.3v3.7M653.3,925.6v3.7M673.3,925.6v3.7M651.3,933.9v3.7M655.3,934.4v3.7M671.3,934.4v3.7M675.3,933.9v3.7M649.3,942.3v3.7M653.3,942.7v3.7M673.3,942.7v3.7M677.3,942.3v3.7M647.3,950.6v3.7M651.3,951.1v3.7M655.3,951.5v3.7M671.3,951.5v3.7M675.3,951.1v3.7M679.3,950.6v3.7M649.3,959.4v3.7M653.3,959.8v3.7M673.3,959.8v3.7M677.3,959.4v3.7M647.3,967.8v3.7M651.3,968.2v3.7M675.3,968.2v3.7M679.3,967.8v3.7M645.3,976.1v3.7M649.3,976.6v3.7M653.3,976.9v3.7M673.3,976.9v3.7M677.3,976.6v3.7M681.3,976.1v3.7M643.3,984.4v3.7M647.3,984.9v3.7M651.3,985.3v3.7M675.3,985.3v3.7M679.3,984.9v3.7M683.3,984.4v3.7M641.3,992.8v3.7M645.3,993.3v3.7M649.3,993.7v3.7M677.3,993.7v3.7M681.3,993.3v3.7M685.3,992.8v3.7M639.3,1001.1v3.7M643.3,1001.6v3.7M647.3,1002.1v3.7M651.3,1002.4v3.7M675.3,1002.4v3.7M679.3,1002.1v3.7M683.3,1001.6v3.7M687.3,1001.1v3.7M641.3,1010v3.7M645.3,1010.4v3.7M649.3,1010.8v3.7M677.3,1010.8v3.7M681.3,1010.4v3.7M685.3,1010v3.7M639.3,1018.3v3.7M643.3,1018.8v3.7M647.3,1019.2v3.7M679.3,1019.2v3.7M683.3,1018.8v3.7M687.3,1018.3v3.7M637.3,1026.6v3.7M641.3,1027.1v3.7M645.3,1027.6v3.7M649.3,1027.9v3.7M677.3,1027.9v3.7M681.3,1027.6v3.7M685.3,1027.1v3.7M689.3,1026.6v3.7M635.3,1034.9v3.7M639.3,1035.5v3.7M643.3,1035.9v3.7M647.3,1036.3v3.7M679.3,1036.3v3.7M683.3,1035.9v3.7M687.3,1035.5v3.7M691.3,1034.9v3.7M633.3,1043.5v3.2M637.3,1044.1v3.2M641.3,1044.6v3.2M645.3,1044.9v3.2M681.3,1044.9v3.2M685.3,1044.6v3.2M689.3,1044.1v3.2M693.3,1043.5v3.2" stroke-opacity="0.4"/>
<path d="M663.3,849.5v3.7M661.3,857.9v3.7M665.3,857.9v3.7M659.3,866.2v3.7M667.3,866.2v3.7M657.3,874.5v3.7M669.3,874.5v3.7M655.3,882.8v3.7M671.3,882.8v3.7M653.3,891v3.7M673.3,891v3.7M651.3,899.3v3.7M675.3,899.3v3.7M649.3,907.6v3.7M653.3,908.4v3.7M673.3,908.4v3.7M677.3,907.6v3.7M647.3,915.8v3.7M651.3,916.7v3.7M675.3,916.7v3.7M679.3,915.8v3.7M645.3,924.1v3.7M649.3,925v3.7M677.3,925v3.7M681.3,924.1v3.7M643.3,932.4v3.7M647.3,933.3v3.7M679.3,933.3v3.7M683.3,932.4v3.7M641.3,940.6v3.7M645.3,941.6v3.7M681.3,941.6v3.7M685.3,940.6v3.7M643.3,949.9v3.7M683.3,949.9v3.7M641.3,958.2v3.7M645.3,958.9v3.7M681.3,958.9v3.7M685.3,958.2v3.7M639.3,966.4v3.7M643.3,967.2v3.7M683.3,967.2v3.7M687.3,966.4v3.7M637.3,974.7v3.7M641.3,975.5v3.7M685.3,975.5v3.7M689.3,974.7v3.7M635.3,983v3.7M639.3,983.8v3.7M687.3,983.8v3.7M691.3,983v3.7M633.3,991.3v3.7M637.3,992.1v3.7M689.3,992.1v3.7M693.3,991.3v3.7M631.3,999.5v3.7M635.3,1000.4v3.7M691.3,1000.4v3.7M695.3,999.5v3.7M629.3,1007.8v3.7M633.3,1008.7v3.7M637.3,1009.4v3.7M689.3,1009.4v3.7M693.3,1008.7v3.7M697.3,1007.8v3.7M627.3,1016.1v3.7M631.3,1017v3.7M635.3,1017.7v3.7M691.3,1017.7v3.7M695.3,1017v3.7M699.3,1016.1v3.7M625.3,1024.4v3.7M629.3,1025.2v3.7M633.3,1026v3.7M693.3,1026v3.7M697.3,1025.2v3.7M701.3,1024.4v3.7M623.3,1032.6v3.7M627.3,1033.5v3.7M631.3,1034.3v3.7M695.3,1034.3v3.7M699.3,1033.5v3.7M703.3,1032.6v3.7M621.3,1041.2v3.2M625.3,1042.1v3.2M629.3,1042.9v3.2M697.3,1042.9v3.2M701.3,1042.1v3.2M705.3,1041.2v3.2" stroke-opacity="0.2"/>
</g>
<polygon points="1227.7,910.3 1226.9,912.4 1226,914.5 1225.2,916.6 1224.3,918.7 1223.5,920.8 1222.7,922.9 1221.8,925 1221,927.1 1220.1,929.2 1219.3,931.3 1218.5,933.4 1217.6,935.5 1216.8,937.6 1215.9,939.7 1215.1,941.8 1214.3,943.9 1213.4,946 1212.6,948.1 1211.8,950.2 1210.9,952.3 1210.1,954.4 1209.3,956.5 1208.4,958.6 1207.6,960.7 1206.8,962.8 1205.9,964.9 1205.1,967 1204.3,969.1 1203.4,971.2 1202.6,973.3 1201.8,975.4 1201,977.5 1200.2,979.6 1199.3,981.7 1198.5,983.8 1197.7,985.9 1196.9,988 1196.1,990.1 1195.3,992.2 1194.5,994.2 1193.6,996.3 1192.8,998.4 1192,1000.5 1191.2,1002.6 1190.3,1004.7 1189.5,1006.8 1188.7,1008.9 1187.8,1011 1187,1013.1 1186.1,1015.2 1185.3,1017.3 1184.4,1019.4 1183.5,1021.5 1182.6,1023.6 1181.8,1025.7 1180.9,1027.8 1180,1029.9 1179.1,1032 1178.2,1034.1 1177.3,1036.2 1176.4,1038.3 1175.4,1040.4 1174.4,1042.5 1173.4,1044.6 1172.4,1046.7 1171.4,1048.8 1170.4,1050.9 1169.3,1053 1168.3,1055.1 1167.2,1057.2 1166.1,1059.3 1165,1061.4 1163.8,1063.5 1162.7,1065.6 1161.5,1067.7 1160.4,1069.8 1159.2,1071.9 1157.9,1074 1156.7,1076.1 1158.5,1081.6 1160.2,1084.4 1162.4,1086.4 1165.3,1088 1169,1089.4 1172.6,1091.2 1176.1,1093.4 1179.5,1096.1 1182.9,1099.2 1186.6,1101.9 1190.6,1104.1 1194.9,1105.9 1199.5,1107.2 1204.1,1108.2 1208.7,1109 1213.3,1109.5 1217.9,1109.7 1223.1,1109.7 1228.8,1109.4 1235.3,1109 1242.4,1108.3 1248.5,1107.3 1253.6,1106 1257.8,1104.3 1261,1102.4 1265,1100.4 1269.8,1098.6 1275.3,1096.8 1281.7,1095.1 1287.1,1092.8 1291.7,1090 1295.9,1085.7 1302,1077 1300.3,1074.9 1298.6,1072.8 1297,1070.7 1295.4,1068.6 1293.8,1066.4 1292.4,1064.3 1290.9,1062.2 1289.5,1060.1 1288.1,1058 1286.7,1055.9 1285.3,1053.8 1284,1051.7 1282.8,1049.6 1281.6,1047.5 1280.4,1045.3 1279.2,1043.2 1278.1,1041.1 1277.1,1039 1276.1,1036.9 1275.1,1034.8 1274.1,1032.7 1273.2,1030.6 1272.3,1028.5 1271.4,1026.4 1270.5,1024.2 1269.6,1022.1 1268.7,1020 1267.9,1017.9 1267,1015.8 1266.2,1013.7 1265.3,1011.6 1264.5,1009.5 1263.7,1007.4 1262.9,1005.3 1262.2,1003.1 1261.4,1001 1260.6,998.9 1259.9,996.8 1259.1,994.7 1258.3,992.6 1257.6,990.5 1256.8,988.4 1256.1,986.3 1255.4,984.2 1254.6,982 1253.9,979.9 1253.1,977.8 1252.3,975.7 1251.6,973.6 1250.8,971.5 1250,969.4 1249.2,967.3 1248.5,965.2 1247.7,963.1 1246.9,960.9 1246.1,958.8 1245.3,956.7 1244.5,954.6 1243.7,952.5 1242.9,950.4 1242.1,948.3 1241.3,946.2 1240.6,944.1 1239.8,942 1239,939.8 1238.2,937.7 1237.4,935.6 1236.6,933.5 1235.8,931.4 1235,929.3 1234.2,927.2 1233.4,925.1 1232.5,923 1231.7,920.9 1230.9,918.7 1230.1,916.6 1229.3,914.5 1228.5,912.4 1227.7,910.3" fill="#00bfff"/>
<polygon points="1227.7,910.3 1226.6,913 1225.5,915.7 1224.5,918.4 1223.4,921 1222.3,923.7 1221.2,926.4 1220.2,929.1 1219.1,931.8 1218,934.5 1216.9,937.2 1215.9,939.9 1214.8,942.5 1213.7,945.2 1212.7,947.9 1211.6,950.6 1210.5,953.3 1209.5,956 1208.4,958.7 1207.3,961.4 1206.3,964 1205.2,966.7 1204.1,969.4 1203.1,972.1 1202,974.8 1201,977.5 1199.9,980.2 1198.9,982.9 1197.8,985.5 1196.8,988.2 1197.6,990.4 1198.3,991.5 1199.3,992.2 1200.5,992.9 1202.1,993.4 1203.7,994.1 1205.2,995 1206.7,996.1 1208.2,997.3 1209.8,998.3 1211.5,999.2 1213.4,999.9 1215.4,1000.4 1217.4,1000.8 1219.4,1001.1 1221.4,1001.3 1223.5,1001.4 1225.7,1001.4 1228.1,1001.3 1230.7,1001.1 1233.5,1000.9 1235.9,1000.5 1237.9,1000 1239.5,999.3 1240.8,998.5 1242.4,997.8 1244.3,997.1 1246.5,996.4 1249,995.7 1251.1,994.8 1252.9,993.7 1254.6,992 1256.9,988.6 1256,985.9 1255,983.2 1254.1,980.5 1253.1,977.8 1252.1,975.1 1251.2,972.4 1250.2,969.7 1249.2,967 1248.2,964.3 1247.1,961.6 1246.1,958.9 1245.1,956.2 1244.1,953.5 1243.1,950.8 1242.1,948.1 1241.1,945.4 1240,942.7 1239,940 1238,937.3 1237,934.6 1236,931.9 1234.9,929.2 1233.9,926.5 1232.9,923.8 1231.8,921.1 1230.8,918.4 1229.8,915.7 1228.7,913 1227.7,910.3" fill="#00cfff"/>
<clipPath id="c9"><polygon points="1227.7,910.3 1226.9,912.4 1226,914.5 1225.2,916.6 1224.3,918.7 1223.5,920.8 1222.7,922.9 1221.8,925 1221,927.1 1220.1,929.2 1219.3,931.3 1218.5,933.4 1217.6,935.5 1216.8,937.6 1215.9,939.7 1215.1,941.8 1214.3,943.9 1213.4,946 1212.6,948.1 1211.8,950.2 1210.9,952.3 1210.1,954.4 1209.3,956.5 1208.4,958.6 1207.6,960.7 1206.8,962.8 1205.9,964.9 1205.1,967 1204.3,969.1 1203.4,971.2 1202.6,973.3 1201.8,975.4 1201,977.5 1200.2,979.6 1199.3,981.7 1198.5,983.8 1197.7,985.9 1196.9,988 1196.1,990.1 1195.3,992.2 1194.5,994.2 1193.6,996.3 1192.8,998.4 1192,1000.5 1191.2,1002.6 1190.3,1004.7 1189.5,1006.8 1188.7,1008.9 1187.8,1011 1187,1013.1 1186.1,1015.2 1185.3,1017.3 1184.4,1019.4 1183.5,1021.5 1182.6,1023.6 1181.8,1025.7 1180.9,1027.8 1180,1029.9 1179.1,1032 1178.2,1034.1 1177.3,1036.2 1176.4,1038.3 1175.4,1040.4 1174.4,1042.5 1173.4,1044.6 1172.4,1046.7 1171.4,1048.8 1170.4,1050.9 1169.3,1053 1168.3,1055.1 1167.2,1057.2 1166.1,1059.3 1165,1061.4 1163.8,1063.5 1162.7,1065.6 1161.5,1067.7 1160.4,1069.8 1159.2,1071.9 1157.9,1074 1156.7,1076.1 1158.5,1081.6 1160.2,1084.4 1162.4,1086.4 1165.3,1088 1169,1089.4 1172.6,1091.2 1176.1,1093.4 1179.5,1096.1 1182.9,1099.2 1186.6,1101.9 1190.6,1104.1 1194.9,1105.9 1199.5,1107.2 1204.1,1108.2 1208.7,1109 1213.3,1109.5 1217.9,1109.7 1223.1,1109.7 1228.8,1109.4 1235.3,1109 1242.4,1108.3 1248.5,1107.3 1253.6,1106 1257.8,1104.3 1261,1102.4 1265,1100.4 1269.8,1098.6 1275.3,1096.8 1281.7,1095.1 1287.1,1092.8 1291.7,1090 1295.9,1085.7 1302,1077 1300.3,1074.9 1298.6,1072.8 1297,1070.7 1295.4,1068.6 1293.8,1066.4 1292.4,1064.3 1290.9,1062.2 1289.5,1060.1 1288.1,1058 1286.7,1055.9 1285.3,1053.8 1284,1051.7 1282.8,1049.6 1281.6,1047.5 1280.4,1045.3 1279.2,1043.2 1278.1,1041.1 1277.1,1039 1276.1,1036.9 1275.1,1034.8 1274.1,1032.7 1273.2,1030.6 1272.3,1028.5 1271.4,1026.4 1270.5,1024.2 1269.6,1022.1 1268.7,1020 1267.9,1017.9 1267,1015.8 1266.2,1013.7 1265.3,1011.6 1264.5,1009.5 1263.7,1007.4 1262.9,1005.3 1262.2,1003.1 1261.4,1001 1260.6,998.9 1259.9,996.8 1259.1,994.7 1258.3,992.6 1257.6,990.5 1256.8,988.4 1256.1,986.3 1255.4,984.2 1254.6,982 1253.9,979.9 1253.1,977.8 1252.3,975.7 1251.6,973.6 1250.8,971.5 1250,969.4 1249.2,967.3 1248.5,965.2 1247.7,963.1 1246.9,960.9 1246.1,958.8 1245.3,956.7 1244.5,954.6 1243.7,952.5 1242.9,950.4 1242.1,948.3 1241.3,946.2 1240.6,944.1 1239.8,942 1239,939.8 1238.2,937.7 1237.4,935.6 1236.6,933.5 1235.8,931.4 1235,929.3 1234.2,927.2 1233.4,925.1 1232.5,923 1231.7,920.9 1230.9,918.7 1230.1,916.6 1229.3,914.5 1228.5,912.4 1227.7,910.3"/></clipPath>
<g fill="none" stroke="#fff" stroke-width="1.8" clip-path="url(#c9)">
<path d="M1225.7,941.1v4M1229.7,941.1v4M1227.7,950.3v4.1M1225.7,959.5v4.1M1229.7,959.5v4.1M1223.7,968.6v4.1M1227.7,968.8v4.1M1231.7,968.6v4.1M1225.7,978v4.1M1229.7,978v4.1M1223.7,987.2v4.2M1227.7,987.4v4.2M1231.7,987.3v4.2M1221.7,996.6v4.2M1225.7,996.9v4.2M1229.7,996.9v4.2M1233.7,996.7v4.2M1223.7,1006.3v4.2M1227.7,1006.4v4.2M1231.7,1006.4v4.2M1221.7,1015.6v4.1M1225.7,1015.9v4.1M1229.7,1015.9v4.1M1233.7,1015.7v4.1M1219.7,1024.8v3.9M1223.7,1025.1v3.9M1227.7,1025.2v3.9M1231.7,1025.2v3.9M1235.7,1024.9v3.9M1221.7,1034v3.8M1225.7,1034.2v3.8M1229.7,1034.2v3.8M1233.7,1034.1v3.8M1219.7,1042.6v3.7M1223.7,1042.8v3.7M1227.7,1043v3.7M1231.7,1042.9v3.7M1235.7,1042.7v3.7M1217.7,1051v3.6M1221.7,1051.3v3.6M1225.7,1051.5v3.6M1229.7,1051.5v3.6M1233.7,1051.4v3.6M1237.7,1051.1v3.6M1219.7,1059.4v3.3M1223.7,1059.7v3.3M1227.7,1059.8v3.3M1231.7,1059.8v3.3M1235.7,1059.6v3.3M1217.7,1066.9v3.2M1221.7,1067.3v3.2M1225.7,1067.4v3.2M1229.7,1067.5v3.2M1233.7,1067.4v3.2M1237.7,1067.1v3.2M1215.7,1073.9v3.2M1219.7,1074.3v3.2M1223.7,1074.5v3.2M1227.7,1074.6v3.2M1231.7,1074.6v3.2M1235.7,1074.4v3.2M1239.7,1074.1v3.2M1217.7,1080.9v3.2M1221.7,1081.2v3.2M1225.7,1081.3v3.2M1229.7,1081.4v3.2M1233.7,1081.3v3.2M1237.7,1081.1v3.2M1215.7,1087.2v3.2M1219.7,1087.6v3.2M1223.7,1087.8v3.2M1227.7,1087.9v3.2M1231.7,1087.8v3.2M1235.7,1087.7v3.2M1239.7,1087.4v3.2M1213.7,1093.4v3.2M1217.7,1093.8v3.2M1221.7,1094v3.2M1225.7,1094.2v3.2M1229.7,1094.2v3.2M1233.7,1094.1v3.2M1237.7,1093.9v3.2M1241.7,1093.6v3.2M1215.7,1099.7v3.2M1219.7,1100v3.2M1223.7,1100.2v3.2M1227.7,1100.3v3.2M1231.7,1100.3v3.2M1235.7,1100.1v3.2M1239.7,1099.9v3.2M1213.7,1105.4v3.2M1217.7,1105.7v3.2M1221.7,1106v3.2M1225.7,1106.1v3.2M1229.7,1106.1v3.2M1233.7,1106.1v3.2M1237.7,1105.9v3.2M1241.7,1105.6v3.2" stroke-opacity="0.62"/>
<path d="M1227.7,932v4M1223.7,950v4.1M1231.7,950.1v4.1M1221.7,959v4.1M1233.7,959.1v4.1M1219.7,967.9v4.1M1235.7,968.1v4.1M1217.7,976.8v4.1M1221.7,977.6v4.1M1233.7,977.7v4.1M1237.7,977.1v4.1M1219.7,986.7v4.2M1235.7,986.9v4.2M1217.7,996v4.2M1237.7,996.2v4.2M1215.7,1005.2v4.2M1219.7,1005.9v4.2M1235.7,1006.1v4.2M1239.7,1005.5v4.2M1213.7,1014.4v4.1M1217.7,1015.2v4.1M1237.7,1015.4v4.1M1241.7,1014.7v4.1M1211.7,1023.4v3.9M1215.7,1024.2v3.9M1239.7,1024.5v3.9M1243.7,1023.8v3.9M1209.7,1032.1v3.8M1213.7,1032.9v3.8M1217.7,1033.5v3.8M1237.7,1033.7v3.8M1241.7,1033.2v3.8M1245.7,1032.5v3.8M1211.7,1041.4v3.7M1215.7,1042.1v3.7M1239.7,1042.3v3.7M1243.7,1041.8v3.7M1247.7,1041v3.7M1209.7,1049.7v3.6M1213.7,1050.4v3.6M1241.7,1050.7v3.6M1245.7,1050.1v3.6M1207.7,1057.7v3.3M1211.7,1058.4v3.3M1215.7,1059v3.3M1239.7,1059.2v3.3M1243.7,1058.8v3.3M1247.7,1058.1v3.3M1205.7,1065v3.2M1209.7,1065.8v3.2M1213.7,1066.5v3.2M1241.7,1066.7v3.2M1245.7,1066.2v3.2M1249.7,1065.5v3.2M1203.7,1071.8v3.2M1207.7,1072.7v3.2M1211.7,1073.4v3.2M1243.7,1073.7v3.2M1247.7,1073.1v3.2M1251.7,1072.4v3.2M1201.7,1078.3v3.2M1205.7,1079.2v3.2M1209.7,1079.9v3.2M1213.7,1080.5v3.2M1241.7,1080.7v3.2M1245.7,1080.2v3.2M1249.7,1079.6v3.2M1253.7,1078.9v3.2M1203.7,1085.4v3.2M1207.7,1086.1v3.2M1211.7,1086.8v3.2M1243.7,1087.1v3.2M1247.7,1086.5v3.2M1251.7,1085.9v3.2M1255.7,1085.1v3.2M1201.7,1091.4v3.2M1205.7,1092.2v3.2M1209.7,1092.9v3.2M1245.7,1093.2v3.2M1249.7,1092.7v3.2M1253.7,1092v3.2M1257.7,1091.2v3.2M1199.7,1097.2v3.2M1203.7,1098v3.2M1207.7,1098.7v3.2M1211.7,1099.3v3.2M1243.7,1099.6v3.2M1247.7,1099.1v3.2M1251.7,1098.5v3.2M1255.7,1097.8v3.2M1197.7,1102.8v3.2M1201.7,1103.6v3.2M1205.7,1104.3v3.2M1209.7,1104.9v3.2M1245.7,1105.2v3.2M1249.7,1104.7v3.2M1253.7,1104.1v3.2M1257.7,1103.4v3.2" stroke-opacity="0.4"/>
<path d="M1227.7,913.8v4M1225.7,922.6v4M1229.7,922.7v4M1223.7,931.4v4M1231.7,931.5v4M1221.7,940.2v4M1233.7,940.4v4M1219.7,949.1v4.1M1235.7,949.3v4.1M1217.7,957.9v4.1M1237.7,958.2v4.1M1215.7,966.8v4.1M1239.7,967.1v4.1M1213.7,975.6v4.1M1241.7,976v4.1M1211.7,984.6v4.2M1215.7,985.9v4.2M1239.7,986.2v4.2M1243.7,985.1v4.2M1209.7,993.7v4.2M1213.7,995.1v4.2M1241.7,995.4v4.2M1245.7,994.3v4.2M1207.7,1002.9v4.2M1211.7,1004.3v4.2M1243.7,1004.7v4.2M1247.7,1003.5v4.2M1205.7,1012v4.1M1209.7,1013.4v4.1M1245.7,1013.9v4.1M1249.7,1012.7v4.1M1203.7,1020.9v3.9M1207.7,1022.3v3.9M1247.7,1022.9v3.9M1251.7,1021.7v3.9M1201.7,1029.5v3.8M1205.7,1031v3.8M1249.7,1031.6v3.8M1253.7,1030.3v3.8M1199.7,1037.9v3.7M1203.7,1039.4v3.7M1207.7,1040.5v3.7M1251.7,1040v3.7M1255.7,1038.8v3.7M1197.7,1046.1v3.6M1201.7,1047.6v3.6M1205.7,1048.8v3.6M1249.7,1049.3v3.6M1253.7,1048.3v3.6M1257.7,1047v3.6M1195.7,1054v3.3M1199.7,1055.5v3.3M1203.7,1056.7v3.3M1251.7,1057.3v3.3M1255.7,1056.3v3.3M1259.7,1055v3.3M1193.7,1061.3v3.2M1197.7,1062.8v3.2M1201.7,1064v3.2M1253.7,1064.7v3.2M1257.7,1063.6v3.2M1261.7,1062.3v3.2M1191.7,1068v3.2M1195.7,1069.5v3.2M1199.7,1070.8v3.2M1255.7,1071.5v3.2M1259.7,1070.4v3.2M1263.7,1069.1v3.2M1189.7,1074.4v3.2M1193.7,1075.9v3.2M1197.7,1077.2v3.2M1257.7,1078v3.2M1261.7,1076.9v3.2M1265.7,1075.6v3.2M1187.7,1080.6v3.2M1191.7,1082.1v3.2M1195.7,1083.4v3.2M1199.7,1084.5v3.2M1259.7,1084.2v3.2M1263.7,1083.1v3.2M1267.7,1081.8v3.2M1185.7,1086.5v3.2M1189.7,1088v3.2M1193.7,1089.4v3.2M1197.7,1090.5v3.2M1261.7,1090.2v3.2M1265.7,1089.1v3.2M1269.7,1087.8v3.2M1183.7,1092.2v3.2M1187.7,1093.8v3.2M1191.7,1095.1v3.2M1195.7,1096.2v3.2M1259.7,1097v3.2M1263.7,1096v3.2M1267.7,1094.9v3.2M1271.7,1093.6v3.2M1181.7,1097.7v3.2M1185.7,1099.3v3.2M1189.7,1100.6v3.2M1193.7,1101.8v3.2M1261.7,1102.6v3.2M1265.7,1101.6v3.2M1269.7,1100.4v3.2M1273.7,1099.1v3.2" stroke-opacity="0.2"/>
</g>
<polygon points="1012.5,913.2 1011.6,915.4 1010.8,917.6 1009.9,919.8 1009.1,922.1 1008.2,924.3 1007.4,926.5 1006.5,928.7 1005.7,930.9 1004.8,933.1 1004,935.4 1003.1,937.6 1002.3,939.8 1001.4,942 1000.6,944.2 999.7,946.4 998.9,948.6 998,950.9 997.2,953.1 996.3,955.3 995.5,957.5 994.6,959.7 993.8,961.9 993,964.1 992.1,966.4 991.3,968.6 990.4,970.8 989.6,973 988.7,975.2 987.9,977.4 987,979.7 986.2,981.9 985.4,984.1 984.5,986.3 983.7,988.5 982.8,990.7 982,992.9 981.2,995.2 980.3,997.4 979.5,999.6 978.7,1001.8 977.8,1004 977,1006.2 976.1,1008.5 975.3,1010.7 974.4,1012.9 973.6,1015.1 972.8,1017.3 971.9,1019.5 971,1021.7 970.2,1024 969.3,1026.2 968.4,1028.4 967.6,1030.6 966.7,1032.8 965.8,1035 965,1037.3 964.1,1039.5 963.2,1041.7 962.3,1043.9 961.4,1046.1 960.5,1048.3 959.6,1050.5 958.7,1052.8 957.7,1055 956.8,1057.2 955.8,1059.4 954.8,1061.6 953.9,1063.8 952.9,1066 951.9,1068.3 950.9,1070.5 949.9,1072.7 948.8,1074.9 947.8,1077.1 946.8,1079.3 945.7,1081.6 944.7,1083.8 943.6,1086 942.5,1088.2 944.2,1093 945.9,1095.5 948.1,1097.1 951,1098.5 954.6,1099.6 958.1,1101.2 961.6,1103.2 965,1105.5 968.3,1108.4 971.9,1110.8 975.9,1112.8 980.1,1114.4 984.7,1115.6 989.2,1116.5 993.8,1117.2 998.3,1117.7 1002.9,1117.9 1008,1117.9 1013.6,1117.7 1020,1117.2 1026.9,1116.6 1032.9,1115.6 1038,1114.2 1042.1,1112.5 1045.3,1110.5 1049.2,1108.5 1053.9,1106.6 1059.4,1104.7 1065.6,1102.8 1071,1100.4 1075.4,1097.3 1079.6,1092.7 1085.6,1083.4 1084,1081.2 1082.4,1079.1 1080.8,1076.9 1079.3,1074.8 1077.9,1072.6 1076.5,1070.5 1075.1,1068.3 1073.7,1066.2 1072.4,1064 1071.1,1061.9 1069.8,1059.7 1068.5,1057.5 1067.3,1055.4 1066.1,1053.2 1065,1051.1 1063.9,1048.9 1062.8,1046.8 1061.8,1044.6 1060.8,1042.5 1059.8,1040.3 1058.9,1038.2 1058,1036 1057.1,1033.8 1056.2,1031.7 1055.3,1029.5 1054.4,1027.4 1053.6,1025.2 1052.7,1023.1 1051.9,1020.9 1051,1018.8 1050.2,1016.6 1049.4,1014.5 1048.6,1012.3 1047.8,1010.1 1047,1008 1046.2,1005.8 1045.5,1003.7 1044.7,1001.5 1043.9,999.4 1043.2,997.2 1042.4,995.1 1041.7,992.9 1040.9,990.8 1040.2,988.6 1039.4,986.5 1038.7,984.3 1037.9,982.1 1037.1,980 1036.4,977.8 1035.6,975.7 1034.8,973.5 1034,971.4 1033.3,969.2 1032.5,967.1 1031.7,964.9 1030.9,962.8 1030.1,960.6 1029.3,958.4 1028.5,956.3 1027.7,954.1 1026.9,952 1026.1,949.8 1025.3,947.7 1024.5,945.5 1023.7,943.4 1022.9,941.2 1022.2,939.1 1021.4,936.9 1020.6,934.7 1019.8,932.6 1018.9,930.4 1018.1,928.3 1017.3,926.1 1016.5,924 1015.7,921.8 1014.9,919.7 1014.1,917.5 1013.3,915.4 1012.5,913.2" fill="#ff0000"/>
<polygon points="1012.5,913.2 1011.4,916 1010.3,918.9 1009.2,921.7 1008.1,924.5 1007,927.4 1006,930.2 1004.9,933.1 1003.8,935.9 1002.7,938.7 1001.6,941.6 1000.5,944.4 999.4,947.2 998.3,950.1 997.3,952.9 996.2,955.7 995.1,958.6 994,961.4 992.9,964.3 991.8,967.1 990.7,969.9 989.7,972.8 988.6,975.6 987.5,978.4 986.4,981.3 985.3,984.1 984.3,986.9 983.2,989.8 982.1,992.6 981.1,995.5 981.8,997.3 982.6,998.2 983.6,998.9 984.9,999.4 986.5,999.8 988.1,1000.4 989.6,1001.2 991.2,1002.1 992.7,1003.2 994.3,1004.1 996.1,1004.9 998,1005.5 1000,1005.9 1002,1006.3 1004.1,1006.6 1006.1,1006.7 1008.2,1006.8 1010.5,1006.8 1012.9,1006.7 1015.5,1006.5 1018.3,1006.2 1020.7,1005.8 1022.7,1005.3 1024.4,1004.6 1025.6,1003.9 1027.2,1003.1 1029.1,1002.3 1031.3,1001.6 1033.8,1000.8 1035.9,999.8 1037.7,998.7 1039.4,996.9 1041.8,993.2 1040.8,990.4 1039.9,987.7 1038.9,984.9 1037.9,982.2 1036.9,979.4 1036,976.6 1035,973.9 1034,971.1 1032.9,968.4 1031.9,965.6 1030.9,962.9 1029.9,960.1 1028.9,957.3 1027.9,954.6 1026.9,951.8 1025.9,949.1 1024.8,946.3 1023.8,943.5 1022.8,940.8 1021.8,938 1020.7,935.3 1019.7,932.5 1018.7,929.8 1017.7,927 1016.6,924.2 1015.6,921.5 1014.6,918.7 1013.5,916 1012.5,913.2" fill="#f20000"/>
<clipPath id="c10"><polygon points="1012.5,913.2 1011.6,915.4 1010.8,917.6 1009.9,919.8 1009.1,922.1 1008.2,924.3 1007.4,926.5 1006.5,928.7 1005.7,930.9 1004.8,933.1 1004,935.4 1003.1,937.6 1002.3,939.8 1001.4,942 1000.6,944.2 999.7,946.4 998.9,948.6 998,950.9 997.2,953.1 996.3,955.3 995.5,957.5 994.6,959.7 993.8,961.9 993,964.1 992.1,966.4 991.3,968.6 990.4,970.8 989.6,973 988.7,975.2 987.9,977.4 987,979.7 986.2,981.9 985.4,984.1 984.5,986.3 983.7,988.5 982.8,990.7 982,992.9 981.2,995.2 980.3,997.4 979.5,999.6 978.7,1001.8 977.8,1004 977,1006.2 976.1,1008.5 975.3,1010.7 974.4,1012.9 973.6,1015.1 972.8,1017.3 971.9,1019.5 971,1021.7 970.2,1024 969.3,1026.2 968.4,1028.4 967.6,1030.6 966.7,1032.8 965.8,1035 965,1037.3 964.1,1039.5 963.2,1041.7 962.3,1043.9 961.4,1046.1 960.5,1048.3 959.6,1050.5 958.7,1052.8 957.7,1055 956.8,1057.2 955.8,1059.4 954.8,1061.6 953.9,1063.8 952.9,1066 951.9,1068.3 950.9,1070.5 949.9,1072.7 948.8,1074.9 947.8,1077.1 946.8,1079.3 945.7,1081.6 944.7,1083.8 943.6,1086 942.5,1088.2 944.2,1093 945.9,1095.5 948.1,1097.1 951,1098.5 954.6,1099.6 958.1,1101.2 961.6,1103.2 965,1105.5 968.3,1108.4 971.9,1110.8 975.9,1112.8 980.1,1114.4 984.7,1115.6 989.2,1116.5 993.8,1117.2 998.3,1117.7 1002.9,1117.9 1008,1117.9 1013.6,1117.7 1020,1117.2 1026.9,1116.6 1032.9,1115.6 1038,1114.2 1042.1,1112.5 1045.3,1110.5 1049.2,1108.5 1053.9,1106.6 1059.4,1104.7 1065.6,1102.8 1071,1100.4 1075.4,1097.3 1079.6,1092.7 1085.6,1083.4 1084,1081.2 1082.4,1079.1 1080.8,1076.9 1079.3,1074.8 1077.9,1072.6 1076.5,1070.5 1075.1,1068.3 1073.7,1066.2 1072.4,1064 1071.1,1061.9 1069.8,1059.7 1068.5,1057.5 1067.3,1055.4 1066.1,1053.2 1065,1051.1 1063.9,1048.9 1062.8,1046.8 1061.8,1044.6 1060.8,1042.5 1059.8,1040.3 1058.9,1038.2 1058,1036 1057.1,1033.8 1056.2,1031.7 1055.3,1029.5 1054.4,1027.4 1053.6,1025.2 1052.7,1023.1 1051.9,1020.9 1051,1018.8 1050.2,1016.6 1049.4,1014.5 1048.6,1012.3 1047.8,1010.1 1047,1008 1046.2,1005.8 1045.5,1003.7 1044.7,1001.5 1043.9,999.4 1043.2,997.2 1042.4,995.1 1041.7,992.9 1040.9,990.8 1040.2,988.6 1039.4,986.5 1038.7,984.3 1037.9,982.1 1037.1,980 1036.4,977.8 1035.6,975.7 1034.8,973.5 1034,971.4 1033.3,969.2 1032.5,967.1 1031.7,964.9 1030.9,962.8 1030.1,960.6 1029.3,958.4 1028.5,956.3 1027.7,954.1 1026.9,952 1026.1,949.8 1025.3,947.7 1024.5,945.5 1023.7,943.4 1022.9,941.2 1022.2,939.1 1021.4,936.9 1020.6,934.7 1019.8,932.6 1018.9,930.4 1018.1,928.3 1017.3,926.1 1016.5,924 1015.7,921.8 1014.9,919.7 1014.1,917.5 1013.3,915.4 1012.5,913.2"/></clipPath>
<g fill="none" stroke="#fff" stroke-width="1.8" clip-path="url(#c10)">
<path d="M1010.5,944.3v4.1M1014.5,944.2v4.1M1012.5,953.6v4.1M1010.5,962.9v4.1M1014.5,962.7v4.1M1008.5,972.1v4.1M1012.5,972.1v4.1M1016.5,971.8v4.1M1010.5,981.5v4.1M1014.5,981.3v4.1M1008.5,990.8v4.2M1012.5,990.8v4.2M1016.5,990.5v4.2M1006.5,1000.2v4.2M1010.5,1000.3v4.2M1014.5,1000.2v4.2M1018.5,999.8v4.2M1008.5,1009.9v4.2M1012.5,1009.8v4.2M1016.5,1009.6v4.2M1006.5,1019.3v4.1M1010.5,1019.4v4.1M1014.5,1019.3v4.1M1018.5,1018.9v4.1M1004.5,1028.7v4M1008.5,1028.8v4M1012.5,1028.8v4M1016.5,1028.5v4M1020.5,1028.1v4M1006.5,1038v3.9M1010.5,1038v3.9M1014.5,1037.9v3.9M1018.5,1037.5v3.9M1004.5,1046.8v3.9M1008.5,1046.9v3.9M1012.5,1046.9v3.9M1016.5,1046.7v3.9M1020.5,1046.3v3.9M1002.5,1055.6v3.7M1006.5,1055.8v3.7M1010.5,1055.8v3.7M1014.5,1055.6v3.7M1018.5,1055.3v3.7M1022.5,1054.9v3.7M1004.5,1064.3v3.6M1008.5,1064.4v3.6M1012.5,1064.3v3.6M1016.5,1064.1v3.6M1020.5,1063.7v3.6M1002.5,1072.4v3.4M1006.5,1072.6v3.4M1010.5,1072.6v3.4M1014.5,1072.4v3.4M1018.5,1072.2v3.4M1022.5,1071.7v3.4M1004.5,1080.2v3.2M1008.5,1080.3v3.2M1012.5,1080.2v3.2M1016.5,1080v3.2M1020.5,1079.7v3.2M1024.5,1079.2v3.2M1002.5,1087.4v3.2M1006.5,1087.5v3.2M1010.5,1087.5v3.2M1014.5,1087.4v3.2M1018.5,1087.1v3.2M1022.5,1086.7v3.2M1000.5,1094.3v3.2M1004.5,1094.5v3.2M1008.5,1094.5v3.2M1012.5,1094.5v3.2M1016.5,1094.3v3.2M1020.5,1094v3.2M1024.5,1093.5v3.2M1002.5,1101.2v3.2M1006.5,1101.3v3.2M1010.5,1101.3v3.2M1014.5,1101.2v3.2M1018.5,1100.9v3.2M1022.5,1100.6v3.2M1026.5,1100.1v3.2M1000.5,1107.7v3.2M1004.5,1107.9v3.2M1008.5,1107.9v3.2M1012.5,1107.8v3.2M1016.5,1107.6v3.2M1020.5,1107.4v3.2M1024.5,1107v3.2M998.5,1114v3.2M1002.5,1114.2v3.2M1006.5,1114.2v3.2M1010.5,1114.2v3.2M1014.5,1114.1v3.2M1018.5,1113.8v3.2M1022.5,1113.5v3.2M1026.5,1113.1v3.2" stroke-opacity="0.62"/>
<path d="M1012.5,935.1v4.1M1008.5,953.4v4.1M1016.5,953.2v4.1M1006.5,962.5v4.1M1018.5,962.2v4.1M1004.5,971.6v4.1M1020.5,971.1v4.1M1006.5,981.3v4.1M1018.5,980.9v4.1M1022.5,980.1v4.1M1004.5,990.5v4.2M1020.5,990v4.2M1002.5,999.8v4.2M1022.5,999.2v4.2M1000.5,1009.2v4.2M1004.5,1009.7v4.2M1020.5,1009.1v4.2M1024.5,1008.4v4.2M998.5,1018.5v4.1M1002.5,1019v4.1M1022.5,1018.4v4.1M1026.5,1017.6v4.1M996.5,1027.7v4M1000.5,1028.3v4M1024.5,1027.5v4M1028.5,1026.6v4M998.5,1037.3v3.9M1002.5,1037.7v3.9M1022.5,1037v3.9M1026.5,1036.4v3.9M1030.5,1035.5v3.9M996.5,1046v3.9M1000.5,1046.5v3.9M1024.5,1045.7v3.9M1028.5,1045v3.9M1032.5,1044.1v3.9M994.5,1054.7v3.7M998.5,1055.2v3.7M1026.5,1054.3v3.7M1030.5,1053.5v3.7M992.5,1063.1v3.6M996.5,1063.7v3.6M1000.5,1064.1v3.6M1024.5,1063.2v3.6M1028.5,1062.6v3.6M1032.5,1061.8v3.6M990.5,1071v3.4M994.5,1071.7v3.4M998.5,1072.1v3.4M1026.5,1071.2v3.4M1030.5,1070.5v3.4M1034.5,1069.6v3.4M988.5,1078.5v3.2M992.5,1079.2v3.2M996.5,1079.7v3.2M1000.5,1080v3.2M1028.5,1078.6v3.2M1032.5,1077.9v3.2M1036.5,1077v3.2M990.5,1086.2v3.2M994.5,1086.8v3.2M998.5,1087.2v3.2M1026.5,1086.2v3.2M1030.5,1085.6v3.2M1034.5,1084.8v3.2M1038.5,1083.9v3.2M988.5,1093v3.2M992.5,1093.6v3.2M996.5,1094v3.2M1028.5,1093v3.2M1032.5,1092.3v3.2M1036.5,1091.5v3.2M1040.5,1090.6v3.2M986.5,1099.6v3.2M990.5,1100.2v3.2M994.5,1100.7v3.2M998.5,1101v3.2M1030.5,1099.5v3.2M1034.5,1098.8v3.2M1038.5,1098v3.2M984.5,1105.9v3.2M988.5,1106.6v3.2M992.5,1107.1v3.2M996.5,1107.5v3.2M1028.5,1106.5v3.2M1032.5,1105.8v3.2M1036.5,1105.1v3.2M1040.5,1104.3v3.2M982.5,1112v3.2M986.5,1112.7v3.2M990.5,1113.2v3.2M994.5,1113.7v3.2M1030.5,1112.5v3.2M1034.5,1111.9v3.2M1038.5,1111.1v3.2M1042.5,1110.3v3.2" stroke-opacity="0.4"/>
<path d="M1012.5,916.7v4M1010.5,925.7v4.1M1014.5,925.6v4.1M1008.5,934.7v4.1M1016.5,934.5v4.1M1006.5,943.7v4.1M1018.5,943.3v4.1M1004.5,952.7v4.1M1020.5,952.2v4.1M1002.5,961.6v4.1M1022.5,961.1v4.1M1000.5,970.7v4.1M1024.5,969.9v4.1M998.5,979.7v4.1M1002.5,980.7v4.1M1026.5,978.8v4.1M996.5,988.7v4.2M1000.5,989.8v4.2M1024.5,989.1v4.2M1028.5,987.8v4.2M994.5,998v4.2M998.5,999.1v4.2M1026.5,998.2v4.2M1030.5,996.9v4.2M992.5,1007.2v4.2M996.5,1008.4v4.2M1028.5,1007.4v4.2M1032.5,1006v4.2M990.5,1016.4v4.1M994.5,1017.6v4.1M1030.5,1016.5v4.1M1034.5,1015.1v4.1M988.5,1025.5v4M992.5,1026.8v4M1032.5,1025.5v4M1036.5,1024.1v4M986.5,1034.4v3.9M990.5,1035.7v3.9M994.5,1036.6v3.9M1034.5,1034.3v3.9M1038.5,1032.9v3.9M984.5,1043.1v3.9M988.5,1044.4v3.9M992.5,1045.3v3.9M1036.5,1042.9v3.9M1040.5,1041.5v3.9M982.5,1051.6v3.7M986.5,1052.9v3.7M990.5,1053.9v3.7M1034.5,1052.5v3.7M1038.5,1051.3v3.7M1042.5,1049.9v3.7M984.5,1061.2v3.6M988.5,1062.3v3.6M1036.5,1060.8v3.6M1040.5,1059.6v3.6M1044.5,1058.1v3.6M982.5,1069.1v3.4M986.5,1070.2v3.4M1038.5,1068.6v3.4M1042.5,1067.4v3.4M1046.5,1065.9v3.4M980.5,1076.6v3.2M984.5,1077.6v3.2M1040.5,1075.9v3.2M1044.5,1074.7v3.2M1048.5,1073.2v3.2M978.5,1083.5v3.2M982.5,1084.6v3.2M986.5,1085.5v3.2M1042.5,1082.8v3.2M1046.5,1081.6v3.2M1050.5,1080.1v3.2M976.5,1090.2v3.2M980.5,1091.3v3.2M984.5,1092.3v3.2M1044.5,1089.5v3.2M1048.5,1088.2v3.2M1052.5,1086.7v3.2M974.5,1096.7v3.2M978.5,1097.8v3.2M982.5,1098.8v3.2M1042.5,1097v3.2M1046.5,1095.9v3.2M1050.5,1094.6v3.2M1054.5,1093.1v3.2M972.5,1103v3.2M976.5,1104.1v3.2M980.5,1105.1v3.2M1044.5,1103.3v3.2M1048.5,1102.1v3.2M1052.5,1100.8v3.2M1056.5,1099.3v3.2M970.5,1109v3.2M974.5,1110.2v3.2M978.5,1111.2v3.2M1046.5,1109.2v3.2M1050.5,1108.1v3.2M1054.5,1106.8v3.2M1058.5,1105.3v3.2" stroke-opacity="0.2"/>
</g>
<polygon points="801.7,925.4 800.9,927.6 800.1,929.8 799.3,932 798.5,934.1 797.7,936.3 797,938.5 796.2,940.7 795.4,942.9 794.6,945.1 793.8,947.3 793,949.5 792.2,951.6 791.5,953.8 790.7,956 789.9,958.2 789.1,960.4 788.3,962.6 787.5,964.8 786.8,967 786,969.1 785.2,971.3 784.4,973.5 783.7,975.7 782.9,977.9 782.1,980.1 781.3,982.3 780.6,984.5 779.8,986.6 779,988.8 778.3,991 777.5,993.2 776.8,995.4 776,997.6 775.3,999.8 774.6,1002 773.8,1004.1 773.1,1006.3 772.3,1008.5 771.6,1010.7 770.9,1012.9 770.1,1015.1 769.4,1017.3 768.6,1019.5 767.8,1021.6 767.1,1023.8 766.3,1026 765.5,1028.2 764.7,1030.4 763.9,1032.6 763.1,1034.8 762.3,1037 761.4,1039.1 760.6,1041.3 759.7,1043.5 758.8,1045.7 758,1047.9 757.1,1050.1 756.2,1052.3 755.3,1054.5 754.3,1056.6 753.4,1058.8 752.3,1061 751.3,1063.2 750.2,1065.4 749.1,1067.6 747.9,1069.8 746.7,1072 745.5,1074.1 744.3,1076.3 743,1078.5 741.7,1080.7 740.3,1082.9 739,1085.1 737.6,1087.3 736.1,1089.5 734.7,1091.6 733.2,1093.8 731.6,1096 730,1098.2 731.8,1103.5 733.5,1106.1 735.7,1107.9 738.7,1109.5 742.4,1110.8 746,1112.5 749.6,1114.7 753,1117.2 756.4,1120.2 760.2,1122.7 764.2,1124.8 768.5,1126.5 773.2,1127.7 777.9,1128.7 782.5,1129.4 787.2,1129.9 791.8,1130.1 797,1130.1 802.8,1129.9 809.2,1129.4 816.2,1128.8 822.3,1127.9 827.4,1126.6 831.5,1125 834.7,1123.1 838.6,1121.3 843.4,1119.5 848.9,1117.8 855.2,1116.2 860.6,1114 865.1,1111.4 869.3,1107.3 875.3,1099 873.6,1096.8 872.1,1094.6 870.5,1092.4 869,1090.2 867.5,1088 866.1,1085.8 864.7,1083.6 863.3,1081.4 862,1079.2 860.7,1077 859.4,1074.8 858.1,1072.6 856.9,1070.4 855.7,1068.2 854.5,1066 853.4,1063.8 852.4,1061.6 851.3,1059.4 850.3,1057.2 849.4,1055.1 848.4,1052.9 847.5,1050.7 846.6,1048.5 845.7,1046.3 844.8,1044.1 843.9,1041.9 843.1,1039.7 842.2,1037.5 841.3,1035.3 840.5,1033.1 839.7,1030.9 838.8,1028.7 838,1026.5 837.2,1024.3 836.5,1022.1 835.7,1019.9 834.9,1017.7 834.1,1015.5 833.4,1013.3 832.6,1011.1 831.8,1008.9 831.1,1006.7 830.3,1004.5 829.6,1002.3 828.8,1000.1 828,997.9 827.3,995.7 826.5,993.5 825.7,991.3 825,989.1 824.2,986.9 823.4,984.7 822.6,982.5 821.8,980.3 821,978.1 820.2,975.9 819.4,973.7 818.6,971.5 817.8,969.3 817,967.2 816.2,965 815.4,962.8 814.6,960.6 813.8,958.4 813,956.2 812.2,954 811.4,951.8 810.6,949.6 809.8,947.4 809,945.2 808.2,943 807.4,940.8 806.6,938.6 805.8,936.4 805,934.2 804.1,932 803.3,929.8 802.5,927.6 801.7,925.4" fill="#9fff60"/>
<polygon points="801.7,925.4 800.7,928.2 799.7,931 798.7,933.8 797.6,936.6 796.6,939.4 795.6,942.2 794.6,945 793.6,947.8 792.6,950.6 791.6,953.4 790.6,956.2 789.6,959 788.6,961.8 787.6,964.6 786.6,967.4 785.6,970.2 784.6,973 783.6,975.8 782.6,978.6 781.6,981.4 780.7,984.2 779.7,987 778.7,989.8 777.7,992.6 776.8,995.4 775.8,998.2 774.9,1001 773.9,1003.8 773,1006.6 773.7,1008.7 774.4,1009.8 775.3,1010.5 776.5,1011.1 777.9,1011.6 779.4,1012.3 780.8,1013.2 782.2,1014.2 783.6,1015.4 785.1,1016.4 786.7,1017.2 788.4,1017.9 790.3,1018.4 792.2,1018.8 794,1019.1 795.9,1019.3 797.8,1019.3 799.8,1019.3 802.1,1019.3 804.7,1019.1 807.5,1018.8 809.9,1018.5 812,1018 813.6,1017.3 814.9,1016.6 816.5,1015.9 818.4,1015.1 820.6,1014.5 823.1,1013.8 825.3,1013 827.1,1011.9 828.8,1010.3 831.2,1007 830.2,1004.2 829.2,1001.4 828.3,998.6 827.3,995.7 826.3,992.9 825.3,990.1 824.3,987.3 823.3,984.5 822.3,981.7 821.3,978.9 820.3,976 819.2,973.2 818.2,970.4 817.2,967.6 816.2,964.8 815.1,962 814.1,959.2 813.1,956.3 812.1,953.5 811,950.7 810,947.9 809,945.1 807.9,942.3 806.9,939.5 805.9,936.7 804.8,933.8 803.8,931 802.7,928.2 801.7,925.4" fill="#afff50"/>
<clipPath id="c11"><polygon points="801.7,925.4 800.9,927.6 800.1,929.8 799.3,932 798.5,934.1 797.7,936.3 797,938.5 796.2,940.7 795.4,942.9 794.6,945.1 793.8,947.3 793,949.5 792.2,951.6 791.5,953.8 790.7,956 789.9,958.2 789.1,960.4 788.3,962.6 787.5,964.8 786.8,967 786,969.1 785.2,971.3 784.4,973.5 783.7,975.7 782.9,977.9 782.1,980.1 781.3,982.3 780.6,984.5 779.8,986.6 779,988.8 778.3,991 777.5,993.2 776.8,995.4 776,997.6 775.3,999.8 774.6,1002 773.8,1004.1 773.1,1006.3 772.3,1008.5 771.6,1010.7 770.9,1012.9 770.1,1015.1 769.4,1017.3 768.6,1019.5 767.8,1021.6 767.1,1023.8 766.3,1026 765.5,1028.2 764.7,1030.4 763.9,1032.6 763.1,1034.8 762.3,1037 761.4,1039.1 760.6,1041.3 759.7,1043.5 758.8,1045.7 758,1047.9 757.1,1050.1 756.2,1052.3 755.3,1054.5 754.3,1056.6 753.4,1058.8 752.3,1061 751.3,1063.2 750.2,1065.4 749.1,1067.6 747.9,1069.8 746.7,1072 745.5,1074.1 744.3,1076.3 743,1078.5 741.7,1080.7 740.3,1082.9 739,1085.1 737.6,1087.3 736.1,1089.5 734.7,1091.6 733.2,1093.8 731.6,1096 730,1098.2 731.8,1103.5 733.5,1106.1 735.7,1107.9 738.7,1109.5 742.4,1110.8 746,1112.5 749.6,1114.7 753,1117.2 756.4,1120.2 760.2,1122.7 764.2,1124.8 768.5,1126.5 773.2,1127.7 777.9,1128.7 782.5,1129.4 787.2,1129.9 791.8,1130.1 797,1130.1 802.8,1129.9 809.2,1129.4 816.2,1128.8 822.3,1127.9 827.4,1126.6 831.5,1125 834.7,1123.1 838.6,1121.3 843.4,1119.5 848.9,1117.8 855.2,1116.2 860.6,1114 865.1,1111.4 869.3,1107.3 875.3,1099 873.6,1096.8 872.1,1094.6 870.5,1092.4 869,1090.2 867.5,1088 866.1,1085.8 864.7,1083.6 863.3,1081.4 862,1079.2 860.7,1077 859.4,1074.8 858.1,1072.6 856.9,1070.4 855.7,1068.2 854.5,1066 853.4,1063.8 852.4,1061.6 851.3,1059.4 850.3,1057.2 849.4,1055.1 848.4,1052.9 847.5,1050.7 846.6,1048.5 845.7,1046.3 844.8,1044.1 843.9,1041.9 843.1,1039.7 842.2,1037.5 841.3,1035.3 840.5,1033.1 839.7,1030.9 838.8,1028.7 838,1026.5 837.2,1024.3 836.5,1022.1 835.7,1019.9 834.9,1017.7 834.1,1015.5 833.4,1013.3 832.6,1011.1 831.8,1008.9 831.1,1006.7 830.3,1004.5 829.6,1002.3 828.8,1000.1 828,997.9 827.3,995.7 826.5,993.5 825.7,991.3 825,989.1 824.2,986.9 823.4,984.7 822.6,982.5 821.8,980.3 821,978.1 820.2,975.9 819.4,973.7 818.6,971.5 817.8,969.3 817,967.2 816.2,965 815.4,962.8 814.6,960.6 813.8,958.4 813,956.2 812.2,954 811.4,951.8 810.6,949.6 809.8,947.4 809,945.2 808.2,943 807.4,940.8 806.6,938.6 805.8,936.4 805,934.2 804.1,932 803.3,929.8 802.5,927.6 801.7,925.4"/></clipPath>
<g fill="none" stroke="#fff" stroke-width="1.8" clip-path="url(#c11)">
<path d="M799.7,957.9v4.3M803.7,957.9v4.3M801.7,967.7v4.3M799.7,977.3v4.3M803.7,977.4v4.3M797.7,987v4.3M801.7,987.2v4.3M805.7,987v4.3M799.7,996.9v4.4M803.7,996.9v4.4M797.7,1006.8v4.5M801.7,1007v4.5M805.7,1006.9v4.5M795.7,1016.9v4.5M799.7,1017.1v4.5M803.7,1017.2v4.5M807.7,1016.9v4.5M797.7,1027.2v4.4M801.7,1027.4v4.4M805.7,1027.3v4.4M795.7,1037.1v4.2M799.7,1037.4v4.2M803.7,1037.4v4.2M807.7,1037.2v4.2M793.7,1046.7v4M797.7,1047v4M801.7,1047.1v4M805.7,1047.1v4M809.7,1046.8v4M795.7,1056.1v3.9M799.7,1056.3v3.9M803.7,1056.3v3.9M807.7,1056.2v3.9M793.7,1065v3.8M797.7,1065.3v3.8M801.7,1065.4v3.8M805.7,1065.3v3.8M809.7,1065.1v3.8M791.7,1073.5v3.5M795.7,1073.9v3.5M799.7,1074v3.5M803.7,1074.1v3.5M807.7,1073.9v3.5M811.7,1073.7v3.5M793.7,1081.9v3.2M797.7,1082.1v3.2M801.7,1082.2v3.2M805.7,1082.2v3.2M809.7,1082v3.2M791.7,1089.1v3.2M795.7,1089.4v3.2M799.7,1089.5v3.2M803.7,1089.6v3.2M807.7,1089.5v3.2M811.7,1089.2v3.2M789.7,1095.8v3.2M793.7,1096.1v3.2M797.7,1096.4v3.2M801.7,1096.4v3.2M805.7,1096.4v3.2M809.7,1096.2v3.2M813.7,1096v3.2M791.7,1102.5v3.2M795.7,1102.8v3.2M799.7,1102.9v3.2M803.7,1102.9v3.2M807.7,1102.9v3.2M811.7,1102.6v3.2M789.7,1108.6v3.2M793.7,1108.9v3.2M797.7,1109.1v3.2M801.7,1109.2v3.2M805.7,1109.2v3.2M809.7,1109v3.2M813.7,1108.8v3.2M787.7,1114.5v3.2M791.7,1114.9v3.2M795.7,1115.1v3.2M799.7,1115.2v3.2M803.7,1115.3v3.2M807.7,1115.2v3.2M811.7,1115v3.2M815.7,1114.7v3.2M789.7,1120.5v3.2M793.7,1120.8v3.2M797.7,1121v3.2M801.7,1121.1v3.2M805.7,1121.1v3.2M809.7,1120.9v3.2M813.7,1120.7v3.2M787.7,1125.9v3.2M791.7,1126.3v3.2M795.7,1126.5v3.2M799.7,1126.6v3.2M803.7,1126.6v3.2M807.7,1126.6v3.2M811.7,1126.4v3.2M815.7,1126.1v3.2" stroke-opacity="0.62"/>
<path d="M801.7,948.3v4.3M797.7,967.4v4.3M805.7,967.4v4.3M795.7,976.9v4.3M807.7,977v4.3M793.7,986.4v4.3M809.7,986.5v4.3M791.7,995.9v4.4M795.7,996.6v4.4M807.7,996.7v4.4M811.7,996v4.4M793.7,1006.4v4.5M809.7,1006.5v4.5M791.7,1016.3v4.5M811.7,1016.5v4.5M789.7,1026.2v4.4M793.7,1026.9v4.4M809.7,1027v4.4M813.7,1026.5v4.4M787.7,1036v4.2M791.7,1036.7v4.2M811.7,1036.9v4.2M815.7,1036.3v4.2M785.7,1045.4v4M789.7,1046.2v4M813.7,1046.4v4M817.7,1045.7v4M783.7,1054.4v3.9M787.7,1055.1v3.9M791.7,1055.7v3.9M811.7,1055.9v3.9M815.7,1055.4v3.9M819.7,1054.7v3.9M785.7,1063.9v3.8M789.7,1064.5v3.8M813.7,1064.7v3.8M817.7,1064.2v3.8M821.7,1063.5v3.8M783.7,1072.4v3.5M787.7,1073v3.5M815.7,1073.3v3.5M819.7,1072.7v3.5M781.7,1080.2v3.2M785.7,1080.9v3.2M789.7,1081.5v3.2M813.7,1081.7v3.2M817.7,1081.2v3.2M821.7,1080.6v3.2M779.7,1087.3v3.2M783.7,1088.1v3.2M787.7,1088.6v3.2M815.7,1088.9v3.2M819.7,1088.4v3.2M823.7,1087.7v3.2M777.7,1093.9v3.2M781.7,1094.7v3.2M785.7,1095.3v3.2M817.7,1095.5v3.2M821.7,1095v3.2M825.7,1094.3v3.2M775.7,1100.1v3.2M779.7,1100.9v3.2M783.7,1101.6v3.2M787.7,1102.1v3.2M815.7,1102.3v3.2M819.7,1101.9v3.2M823.7,1101.3v3.2M827.7,1100.5v3.2M777.7,1106.9v3.2M781.7,1107.6v3.2M785.7,1108.2v3.2M817.7,1108.4v3.2M821.7,1107.9v3.2M825.7,1107.3v3.2M829.7,1106.5v3.2M775.7,1112.7v3.2M779.7,1113.4v3.2M783.7,1114v3.2M819.7,1114.3v3.2M823.7,1113.8v3.2M827.7,1113.1v3.2M773.7,1118.2v3.2M777.7,1119v3.2M781.7,1119.6v3.2M785.7,1120.1v3.2M817.7,1120.4v3.2M821.7,1119.9v3.2M825.7,1119.4v3.2M829.7,1118.7v3.2M771.7,1123.5v3.2M775.7,1124.3v3.2M779.7,1125v3.2M783.7,1125.5v3.2M819.7,1125.8v3.2M823.7,1125.3v3.2M827.7,1124.7v3.2M831.7,1124v3.2" stroke-opacity="0.4"/>
<path d="M801.7,929v4.2M799.7,938.4v4.2M803.7,938.5v4.2M797.7,947.8v4.3M805.7,947.8v4.3M795.7,957.1v4.3M807.7,957.2v4.3M793.7,966.5v4.3M809.7,966.6v4.3M791.7,975.9v4.3M811.7,976.1v4.3M789.7,985.3v4.3M813.7,985.5v4.3M787.7,994.7v4.4M815.7,995v4.4M785.7,1004.4v4.5M789.7,1005.6v4.5M813.7,1005.8v4.5M817.7,1004.7v4.5M783.7,1014.2v4.5M787.7,1015.5v4.5M815.7,1015.7v4.5M819.7,1014.6v4.5M781.7,1024.1v4.4M785.7,1025.3v4.4M817.7,1025.7v4.4M821.7,1024.5v4.4M779.7,1033.8v4.2M783.7,1035.1v4.2M819.7,1035.4v4.2M823.7,1034.3v4.2M777.7,1043.1v4M781.7,1044.4v4M821.7,1044.8v4M825.7,1043.7v4M775.7,1052v3.9M779.7,1053.3v3.9M823.7,1053.8v3.9M827.7,1052.6v3.9M773.7,1060.7v3.8M777.7,1062v3.8M781.7,1063.1v3.8M825.7,1062.5v3.8M829.7,1061.3v3.8M771.7,1069v3.5M775.7,1070.4v3.5M779.7,1071.5v3.5M823.7,1071.9v3.5M827.7,1070.9v3.5M831.7,1069.7v3.5M769.7,1076.8v3.2M773.7,1078.2v3.2M777.7,1079.3v3.2M825.7,1079.8v3.2M829.7,1078.8v3.2M833.7,1077.5v3.2M767.7,1083.8v3.2M771.7,1085.2v3.2M775.7,1086.4v3.2M827.7,1086.9v3.2M831.7,1085.8v3.2M835.7,1084.6v3.2M765.7,1090.3v3.2M769.7,1091.7v3.2M773.7,1092.9v3.2M829.7,1093.4v3.2M833.7,1092.4v3.2M837.7,1091.1v3.2M763.7,1096.5v3.2M767.7,1097.9v3.2M771.7,1099.1v3.2M831.7,1099.7v3.2M835.7,1098.6v3.2M839.7,1097.3v3.2M761.7,1102.4v3.2M765.7,1103.8v3.2M769.7,1105v3.2M773.7,1106.1v3.2M833.7,1105.6v3.2M837.7,1104.6v3.2M841.7,1103.3v3.2M759.7,1108.1v3.2M763.7,1109.6v3.2M767.7,1110.8v3.2M771.7,1111.8v3.2M831.7,1112.3v3.2M835.7,1111.4v3.2M839.7,1110.3v3.2M843.7,1109v3.2M757.7,1113.6v3.2M761.7,1115v3.2M765.7,1116.3v3.2M769.7,1117.3v3.2M833.7,1117.9v3.2M837.7,1116.9v3.2M841.7,1115.8v3.2M845.7,1114.5v3.2M755.7,1118.8v3.2M759.7,1120.3v3.2M763.7,1121.5v3.2M767.7,1122.6v3.2M835.7,1123.2v3.2M839.7,1122.2v3.2M843.7,1121.1v3.2M847.7,1119.8v3.2" stroke-opacity="0.2"/>
</g>
<polygon points="585.8,942.3 585,944.4 584.2,946.5 583.4,948.7 582.6,950.8 581.7,952.9 580.9,955 580.1,957.1 579.3,959.3 578.5,961.4 577.7,963.5 576.9,965.6 576.1,967.7 575.3,969.9 574.5,972 573.7,974.1 572.9,976.2 572.1,978.3 571.3,980.5 570.5,982.6 569.7,984.7 568.9,986.8 568.1,988.9 567.3,991.1 566.5,993.2 565.7,995.3 564.9,997.4 564.1,999.5 563.3,1001.7 562.5,1003.8 561.8,1005.9 561,1008 560.2,1010.1 559.4,1012.3 558.7,1014.4 557.9,1016.5 557.1,1018.6 556.4,1020.7 555.6,1022.9 554.8,1025 554,1027.1 553.3,1029.2 552.5,1031.4 551.7,1033.5 550.9,1035.6 550.1,1037.7 549.3,1039.8 548.5,1042 547.7,1044.1 546.9,1046.2 546.1,1048.3 545.2,1050.4 544.4,1052.6 543.5,1054.7 542.6,1056.8 541.8,1058.9 540.9,1061 540,1063.2 539.1,1065.3 538.2,1067.4 537.3,1069.5 536.3,1071.6 535.3,1073.8 534.3,1075.9 533.3,1078 532.2,1080.1 531.1,1082.2 530,1084.4 528.8,1086.5 527.6,1088.6 526.4,1090.7 525.2,1092.8 524,1095 522.7,1097.1 521.4,1099.2 520.1,1101.3 518.8,1103.4 517.4,1105.6 516,1107.7 514.5,1109.8 516.3,1114.8 518,1117.4 520.2,1119.2 523.1,1120.7 526.8,1122 530.4,1123.7 533.9,1125.8 537.4,1128.2 540.8,1130.9 544.5,1133.2 548.5,1135.2 552.8,1136.7 557.5,1137.8 562.1,1138.7 566.7,1139.3 571.4,1139.7 576,1139.8 581.2,1139.8 586.9,1139.7 593,1139.3 599.7,1138.8 605.5,1138.1 610.3,1137.1 614.3,1135.9 617.3,1134.5 621.1,1133.1 625.7,1131.9 630.9,1130.7 637,1129.6 642.1,1128.1 646.4,1126.3 650.5,1123.5 656.2,1117.9 655.1,1115.7 654,1113.5 653,1111.2 651.9,1109 650.9,1106.8 649.8,1104.6 648.8,1102.3 647.8,1100.1 646.8,1097.9 645.8,1095.7 644.8,1093.4 643.8,1091.2 642.8,1089 641.8,1086.8 640.9,1084.6 639.9,1082.3 639,1080.1 638.1,1077.9 637.2,1075.7 636.3,1073.4 635.4,1071.2 634.5,1069 633.6,1066.8 632.7,1064.6 631.9,1062.3 631,1060.1 630.1,1057.9 629.2,1055.7 628.4,1053.4 627.5,1051.2 626.6,1049 625.8,1046.8 624.9,1044.5 624.1,1042.3 623.2,1040.1 622.4,1037.9 621.5,1035.7 620.7,1033.4 619.8,1031.2 619,1029 618.2,1026.8 617.3,1024.5 616.5,1022.3 615.6,1020.1 614.8,1017.9 613.9,1015.7 613.1,1013.4 612.3,1011.2 611.4,1009 610.6,1006.8 609.7,1004.5 608.9,1002.3 608,1000.1 607.2,997.9 606.3,995.6 605.5,993.4 604.6,991.2 603.8,989 602.9,986.8 602.1,984.5 601.2,982.3 600.3,980.1 599.5,977.9 598.6,975.6 597.8,973.4 596.9,971.2 596.1,969 595.2,966.8 594.4,964.5 593.5,962.3 592.7,960.1 591.8,957.9 590.9,955.6 590.1,953.4 589.2,951.2 588.4,949 587.5,946.7 586.7,944.5 585.8,942.3" fill="#00bfff"/>
<polygon points="585.8,942.3 584.8,945 583.7,947.7 582.7,950.4 581.6,953.2 580.6,955.9 579.6,958.6 578.5,961.3 577.5,964 576.5,966.7 575.5,969.4 574.4,972.2 573.4,974.9 572.4,977.6 571.4,980.3 570.3,983 569.3,985.7 568.3,988.4 567.3,991.2 566.2,993.9 565.2,996.6 564.2,999.3 563.2,1002 562.2,1004.7 561.2,1007.5 560.2,1010.2 559.2,1012.9 558.2,1015.6 557.2,1018.3 556.3,1021 557,1023.2 557.7,1024.3 558.6,1025.1 559.8,1025.8 561.4,1026.3 562.8,1027.1 564.3,1028 565.7,1029 567.1,1030.2 568.7,1031.2 570.3,1032.1 572.1,1032.7 574.1,1033.2 576,1033.6 577.9,1033.9 579.8,1034 581.7,1034.1 583.9,1034.1 586.3,1034.1 589,1033.9 592,1033.7 594.6,1033.4 596.8,1033 598.6,1032.5 600,1031.9 601.7,1031.3 603.7,1030.8 606.1,1030.3 608.8,1029.8 611.1,1029.2 613,1028.4 614.8,1027.2 617.4,1024.8 616.3,1022 615.3,1019.1 614.2,1016.3 613.1,1013.4 612,1010.6 610.9,1007.8 609.9,1004.9 608.8,1002.1 607.7,999.2 606.6,996.4 605.5,993.5 604.4,990.7 603.3,987.8 602.2,985 601.1,982.1 600,979.3 598.9,976.5 597.9,973.6 596.8,970.8 595.7,967.9 594.6,965.1 593.5,962.2 592.4,959.4 591.3,956.5 590.2,953.7 589.1,950.8 588,948 586.9,945.1 585.8,942.3" fill="#00cfff"/>
<clipPath id="c12"><polygon points="585.8,942.3 585,944.4 584.2,946.5 583.4,948.7 582.6,950.8 581.7,952.9 580.9,955 580.1,957.1 579.3,959.3 578.5,961.4 577.7,963.5 576.9,965.6 576.1,967.7 575.3,969.9 574.5,972 573.7,974.1 572.9,976.2 572.1,978.3 571.3,980.5 570.5,982.6 569.7,984.7 568.9,986.8 568.1,988.9 567.3,991.1 566.5,993.2 565.7,995.3 564.9,997.4 564.1,999.5 563.3,1001.7 562.5,1003.8 561.8,1005.9 561,1008 560.2,1010.1 559.4,1012.3 558.7,1014.4 557.9,1016.5 557.1,1018.6 556.4,1020.7 555.6,1022.9 554.8,1025 554,1027.1 553.3,1029.2 552.5,1031.4 551.7,1033.5 550.9,1035.6 550.1,1037.7 549.3,1039.8 548.5,1042 547.7,1044.1 546.9,1046.2 546.1,1048.3 545.2,1050.4 544.4,1052.6 543.5,1054.7 542.6,1056.8 541.8,1058.9 540.9,1061 540,1063.2 539.1,1065.3 538.2,1067.4 537.3,1069.5 536.3,1071.6 535.3,1073.8 534.3,1075.9 533.3,1078 532.2,1080.1 531.1,1082.2 530,1084.4 528.8,1086.5 527.6,1088.6 526.4,1090.7 525.2,1092.8 524,1095 522.7,1097.1 521.4,1099.2 520.1,1101.3 518.8,1103.4 517.4,1105.6 516,1107.7 514.5,1109.8 516.3,1114.8 518,1117.4 520.2,1119.2 523.1,1120.7 526.8,1122 530.4,1123.7 533.9,1125.8 537.4,1128.2 540.8,1130.9 544.5,1133.2 548.5,1135.2 552.8,1136.7 557.5,1137.8 562.1,1138.7 566.7,1139.3 571.4,1139.7 576,1139.8 581.2,1139.8 586.9,1139.7 593,1139.3 599.7,1138.8 605.5,1138.1 610.3,1137.1 614.3,1135.9 617.3,1134.5 621.1,1133.1 625.7,1131.9 630.9,1130.7 637,1129.6 642.1,1128.1 646.4,1126.3 650.5,1123.5 656.2,1117.9 655.1,1115.7 654,1113.5 653,1111.2 651.9,1109 650.9,1106.8 649.8,1104.6 648.8,1102.3 647.8,1100.1 646.8,1097.9 645.8,1095.7 644.8,1093.4 643.8,1091.2 642.8,1089 641.8,1086.8 640.9,1084.6 639.9,1082.3 639,1080.1 638.1,1077.9 637.2,1075.7 636.3,1073.4 635.4,1071.2 634.5,1069 633.6,1066.8 632.7,1064.6 631.9,1062.3 631,1060.1 630.1,1057.9 629.2,1055.7 628.4,1053.4 627.5,1051.2 626.6,1049 625.8,1046.8 624.9,1044.5 624.1,1042.3 623.2,1040.1 622.4,1037.9 621.5,1035.7 620.7,1033.4 619.8,1031.2 619,1029 618.2,1026.8 617.3,1024.5 616.5,1022.3 615.6,1020.1 614.8,1017.9 613.9,1015.7 613.1,1013.4 612.3,1011.2 611.4,1009 610.6,1006.8 609.7,1004.5 608.9,1002.3 608,1000.1 607.2,997.9 606.3,995.6 605.5,993.4 604.6,991.2 603.8,989 602.9,986.8 602.1,984.5 601.2,982.3 600.3,980.1 599.5,977.9 598.6,975.6 597.8,973.4 596.9,971.2 596.1,969 595.2,966.8 594.4,964.5 593.5,962.3 592.7,960.1 591.8,957.9 590.9,955.6 590.1,953.4 589.2,951.2 588.4,949 587.5,946.7 586.7,944.5 585.8,942.3"/></clipPath>
<g fill="none" stroke="#fff" stroke-width="1.8" clip-path="url(#c12)">
<path d="M583.8,971.8v3.9M587.8,972.1v3.9M585.8,980.9v3.9M583.8,989.5v3.9M587.8,989.8v3.9M581.8,998.2v3.9M585.8,998.6v3.9M589.8,998.7v3.9M583.8,1007.3v3.9M587.8,1007.5v3.9M581.8,1016v4M585.8,1016.3v4M589.8,1016.5v4M579.8,1024.8v4M583.8,1025.2v4M587.8,1025.5v4M591.8,1025.5v4M581.8,1034.1v4M585.8,1034.4v4M589.8,1034.6v4M579.8,1042.9v3.9M583.8,1043.3v3.9M587.8,1043.6v3.9M591.8,1043.6v3.9M577.8,1051.6v3.9M581.8,1052.1v3.9M585.8,1052.4v3.9M589.8,1052.6v3.9M593.8,1052.6v3.9M579.8,1060.7v3.8M583.8,1061.1v3.8M587.8,1061.4v3.8M591.8,1061.5v3.8M577.8,1069.1v3.7M581.8,1069.6v3.7M585.8,1069.9v3.7M589.8,1070.1v3.7M593.8,1070.1v3.7M575.8,1077.4v3.6M579.8,1077.9v3.6M583.8,1078.2v3.6M587.8,1078.5v3.6M591.8,1078.6v3.6M595.8,1078.6v3.6M577.8,1086v3.5M581.8,1086.4v3.5M585.8,1086.7v3.5M589.8,1086.9v3.5M593.8,1087v3.5M575.8,1093.8v3.3M579.8,1094.3v3.3M583.8,1094.6v3.3M587.8,1094.9v3.3M591.8,1095v3.3M595.8,1095v3.3M573.8,1101.2v3.2M577.8,1101.7v3.2M581.8,1102.1v3.2M585.8,1102.4v3.2M589.8,1102.6v3.2M593.8,1102.6v3.2M597.8,1102.6v3.2M575.8,1108.7v3.2M579.8,1109.1v3.2M583.8,1109.4v3.2M587.8,1109.7v3.2M591.8,1109.8v3.2M595.8,1109.8v3.2M573.8,1115.3v3.2M577.8,1115.8v3.2M581.8,1116.2v3.2M585.8,1116.5v3.2M589.8,1116.7v3.2M593.8,1116.8v3.2M597.8,1116.8v3.2M571.8,1121.8v3.2M575.8,1122.4v3.2M579.8,1122.8v3.2M583.8,1123.1v3.2M587.8,1123.3v3.2M591.8,1123.5v3.2M595.8,1123.5v3.2M573.8,1128.7v3.2M577.8,1129.1v3.2M581.8,1129.5v3.2M585.8,1129.8v3.2M589.8,1130v3.2M593.8,1130.1v3.2M597.8,1130.1v3.2M571.8,1134.7v3.2M575.8,1135.2v3.2M579.8,1135.6v3.2M583.8,1135.9v3.2M587.8,1136.2v3.2M591.8,1136.3v3.2M595.8,1136.4v3.2M599.8,1136.3v3.2" stroke-opacity="0.62"/>
<path d="M585.8,963.2v3.9M581.8,980.4v3.9M589.8,980.9v3.9M579.8,988.9v3.9M591.8,989.7v3.9M577.8,997.4v3.9M593.8,998.4v3.9M575.8,1005.9v3.9M579.8,1006.8v3.9M591.8,1007.5v3.9M595.8,1007.2v3.9M577.8,1015.4v4M593.8,1016.4v4M575.8,1024.1v4M595.8,1025.3v4M573.8,1032.8v4M577.8,1033.5v4M593.8,1034.5v4M597.8,1034.3v4M571.8,1041.5v3.9M575.8,1042.3v3.9M595.8,1043.5v3.9M599.8,1043.2v3.9M569.8,1050.1v3.9M573.8,1051v3.9M597.8,1052.5v3.9M601.8,1052.1v3.9M567.8,1058.6v3.8M571.8,1059.5v3.8M575.8,1060.2v3.8M595.8,1061.4v3.8M599.8,1061.2v3.8M569.8,1067.8v3.7M573.8,1068.5v3.7M597.8,1070v3.7M601.8,1069.7v3.7M567.8,1075.9v3.6M571.8,1076.7v3.6M599.8,1078.4v3.6M603.8,1078.1v3.6M565.8,1083.9v3.5M569.8,1084.8v3.5M573.8,1085.4v3.5M597.8,1086.9v3.5M601.8,1086.7v3.5M605.8,1086.4v3.5M563.8,1091.7v3.3M567.8,1092.5v3.3M571.8,1093.2v3.3M599.8,1094.9v3.3M603.8,1094.7v3.3M607.8,1094.3v3.3M561.8,1098.9v3.2M565.8,1099.8v3.2M569.8,1100.5v3.2M601.8,1102.5v3.2M605.8,1102.2v3.2M609.8,1101.8v3.2M559.8,1105.8v3.2M563.8,1106.7v3.2M567.8,1107.4v3.2M571.8,1108.1v3.2M599.8,1109.8v3.2M603.8,1109.6v3.2M607.8,1109.3v3.2M561.8,1113.3v3.2M565.8,1114.1v3.2M569.8,1114.8v3.2M601.8,1116.6v3.2M605.8,1116.4v3.2M609.8,1116.1v3.2M559.8,1119.7v3.2M563.8,1120.5v3.2M567.8,1121.2v3.2M599.8,1123.5v3.2M603.8,1123.3v3.2M607.8,1123.1v3.2M611.8,1122.7v3.2M557.8,1125.9v3.2M561.8,1126.7v3.2M565.8,1127.5v3.2M569.8,1128.1v3.2M601.8,1130v3.2M605.8,1129.8v3.2M609.8,1129.5v3.2M613.8,1129.1v3.2M555.8,1131.9v3.2M559.8,1132.7v3.2M563.8,1133.5v3.2M567.8,1134.2v3.2M603.8,1136.2v3.2M607.8,1136v3.2M611.8,1135.7v3.2M615.8,1135.2v3.2" stroke-opacity="0.4"/>
<path d="M585.8,945.6v3.9M583.8,954.1v3.9M587.8,954.4v3.9M581.8,962.6v3.9M589.8,963v3.9M579.8,971v3.9M591.8,971.7v3.9M577.8,979.4v3.9M593.8,980.4v3.9M575.8,987.9v3.9M595.8,989.1v3.9M573.8,996.3v3.9M597.8,997.8v3.9M571.8,1004.8v3.9M599.8,1006.5v3.9M569.8,1013.3v4M573.8,1014.5v4M597.8,1016v4M601.8,1015.2v4M567.8,1021.9v4M571.8,1023.1v4M599.8,1024.8v4M603.8,1024.1v4M565.8,1030.5v4M569.8,1031.8v4M601.8,1033.8v4M605.8,1033v4M563.8,1039.2v3.9M567.8,1040.5v3.9M603.8,1042.7v3.9M607.8,1041.8v3.9M561.8,1047.8v3.9M565.8,1049.1v3.9M605.8,1051.5v3.9M609.8,1050.7v3.9M559.8,1056.2v3.8M563.8,1057.5v3.8M603.8,1060.8v3.8M607.8,1060.2v3.8M611.8,1059.3v3.8M557.8,1064.4v3.7M561.8,1065.7v3.7M565.8,1066.8v3.7M605.8,1069.3v3.7M609.8,1068.6v3.7M613.8,1067.7v3.7M555.8,1072.5v3.6M559.8,1073.8v3.6M563.8,1075v3.6M607.8,1077.7v3.6M611.8,1077v3.6M615.8,1076.1v3.6M553.8,1080.4v3.5M557.8,1081.8v3.5M561.8,1083v3.5M609.8,1085.9v3.5M613.8,1085.2v3.5M617.8,1084.2v3.5M551.8,1088.1v3.3M555.8,1089.5v3.3M559.8,1090.7v3.3M611.8,1093.8v3.3M615.8,1093.1v3.3M619.8,1092.1v3.3M549.8,1095.3v3.2M553.8,1096.7v3.2M557.8,1097.9v3.2M613.8,1101.2v3.2M617.8,1100.5v3.2M621.8,1099.5v3.2M547.8,1102.1v3.2M551.8,1103.5v3.2M555.8,1104.7v3.2M611.8,1108.8v3.2M615.8,1108.2v3.2M619.8,1107.5v3.2M545.8,1108.6v3.2M549.8,1110.1v3.2M553.8,1111.3v3.2M557.8,1112.3v3.2M613.8,1115.6v3.2M617.8,1115v3.2M621.8,1114.2v3.2M543.8,1115v3.2M547.8,1116.4v3.2M551.8,1117.7v3.2M555.8,1118.7v3.2M615.8,1122.2v3.2M619.8,1121.6v3.2M623.8,1120.8v3.2M541.8,1121.2v3.2M545.8,1122.6v3.2M549.8,1123.8v3.2M553.8,1124.9v3.2M617.8,1128.6v3.2M621.8,1127.9v3.2M625.8,1127.1v3.2M539.8,1127.1v3.2M543.8,1128.5v3.2M547.8,1129.8v3.2M551.8,1130.9v3.2M619.8,1134.7v3.2M623.8,1134v3.2M627.8,1133.2v3.2" stroke-opacity="0.2"/>
</g>
<polygon points="935.8,1001 935,1003.2 934.1,1005.4 933.3,1007.6 932.4,1009.8 931.6,1012 930.7,1014.2 929.9,1016.4 929.1,1018.6 928.2,1020.8 927.4,1023.1 926.5,1025.3 925.7,1027.5 924.9,1029.7 924,1031.9 923.2,1034.1 922.3,1036.3 921.5,1038.5 920.7,1040.7 919.8,1042.9 919,1045.1 918.2,1047.3 917.3,1049.5 916.5,1051.7 915.7,1053.9 914.8,1056.1 914,1058.3 913.2,1060.5 912.3,1062.7 911.5,1064.9 910.7,1067.2 909.9,1069.4 909,1071.6 908.2,1073.8 907.4,1076 906.6,1078.2 905.8,1080.4 905,1082.6 904.2,1084.8 903.4,1087 902.5,1089.2 901.7,1091.4 900.9,1093.6 900.1,1095.8 899.3,1098 898.4,1100.2 897.6,1102.4 896.8,1104.6 895.9,1106.8 895.1,1109 894.2,1111.3 893.3,1113.5 892.4,1115.7 891.6,1117.9 890.7,1120.1 889.8,1122.3 888.9,1124.5 888,1126.7 887.1,1128.9 886.2,1131.1 885.2,1133.3 884.3,1135.5 883.3,1137.7 882.3,1139.9 881.3,1142.1 880.3,1144.3 879.2,1146.5 878.1,1148.7 877,1150.9 875.9,1153.1 874.7,1155.4 873.6,1157.6 872.4,1159.8 871.2,1162 870,1164.2 868.8,1166.4 867.5,1168.6 866.2,1170.8 864.9,1173 863.6,1175.2 865.4,1180.3 867.1,1182.8 869.4,1184.6 872.4,1186.1 876.1,1187.3 879.7,1189 883.3,1191 886.8,1193.5 890.2,1196.4 894,1198.9 898,1200.9 902.4,1202.6 907.1,1203.8 911.8,1204.7 916.5,1205.5 921.2,1205.9 925.9,1206.1 931.1,1206.1 936.9,1205.9 943.4,1205.4 950.4,1204.8 956.5,1203.9 961.6,1202.6 965.8,1201 969,1199.1 972.9,1197.2 977.7,1195.4 983.3,1193.7 989.6,1192 995,1189.8 999.5,1187 1003.8,1182.8 1009.8,1174.3 1008.1,1172.1 1006.5,1169.9 1005,1167.7 1003.5,1165.5 1002,1163.3 1000.6,1161.1 999.2,1158.9 997.8,1156.8 996.4,1154.6 995.1,1152.4 993.8,1150.2 992.5,1148 991.3,1145.8 990.1,1143.6 988.9,1141.4 987.8,1139.2 986.7,1137 985.7,1134.8 984.7,1132.6 983.7,1130.4 982.8,1128.2 981.8,1126 980.9,1123.8 980,1121.7 979.1,1119.5 978.3,1117.3 977.4,1115.1 976.5,1112.9 975.6,1110.7 974.8,1108.5 974,1106.3 973.1,1104.1 972.3,1101.9 971.5,1099.7 970.7,1097.5 970,1095.3 969.2,1093.1 968.4,1090.9 967.6,1088.7 966.9,1086.6 966.1,1084.4 965.3,1082.2 964.6,1080 963.8,1077.8 963.1,1075.6 962.3,1073.4 961.5,1071.2 960.7,1069 960,1066.8 959.2,1064.6 958.4,1062.4 957.6,1060.2 956.8,1058 956,1055.8 955.2,1053.6 954.4,1051.5 953.6,1049.3 952.8,1047.1 952,1044.9 951.2,1042.7 950.4,1040.5 949.6,1038.3 948.8,1036.1 948,1033.9 947.2,1031.7 946.4,1029.5 945.6,1027.3 944.8,1025.1 944,1022.9 943.1,1020.7 942.3,1018.5 941.5,1016.4 940.7,1014.2 939.9,1012 939.1,1009.8 938.3,1007.6 937.4,1005.4 936.6,1003.2 935.8,1001" fill="#00bfff"/>
<polygon points="935.8,1001 934.7,1003.8 933.6,1006.6 932.6,1009.5 931.5,1012.3 930.4,1015.1 929.3,1017.9 928.2,1020.8 927.2,1023.6 926.1,1026.4 925,1029.2 923.9,1032.1 922.9,1034.9 921.8,1037.7 920.7,1040.5 919.7,1043.3 918.6,1046.2 917.5,1049 916.5,1051.8 915.4,1054.6 914.3,1057.5 913.3,1060.3 912.2,1063.1 911.1,1065.9 910.1,1068.8 909,1071.6 908,1074.4 907,1077.2 905.9,1080.1 904.9,1082.9 905.6,1085 906.4,1086 907.3,1086.8 908.6,1087.4 910.2,1087.9 911.8,1088.6 913.3,1089.4 914.8,1090.4 916.3,1091.6 917.9,1092.6 919.6,1093.5 921.5,1094.2 923.5,1094.7 925.5,1095.1 927.5,1095.4 929.5,1095.5 931.5,1095.6 933.8,1095.6 936.2,1095.5 938.8,1095.3 941.7,1095.1 944.1,1094.7 946.1,1094.2 947.8,1093.5 949.1,1092.7 950.7,1091.9 952.6,1091.2 954.8,1090.5 957.3,1089.8 959.5,1088.8 961.3,1087.7 963,1086 965.4,1082.5 964.5,1079.6 963.5,1076.8 962.5,1074 961.5,1071.2 960.5,1068.4 959.5,1065.6 958.5,1062.8 957.5,1060 956.5,1057.2 955.5,1054.4 954.5,1051.6 953.4,1048.7 952.4,1045.9 951.4,1043.1 950.3,1040.3 949.3,1037.5 948.3,1034.7 947.3,1031.9 946.2,1029.1 945.2,1026.3 944.1,1023.5 943.1,1020.7 942.1,1017.9 941,1015 940,1012.2 938.9,1009.4 937.9,1006.6 936.8,1003.8 935.8,1001" fill="#00cfff"/>
<clipPath id="c13"><polygon points="935.8,1001 935,1003.2 934.1,1005.4 933.3,1007.6 932.4,1009.8 931.6,1012 930.7,1014.2 929.9,1016.4 929.1,1018.6 928.2,1020.8 927.4,1023.1 926.5,1025.3 925.7,1027.5 924.9,1029.7 924,1031.9 923.2,1034.1 922.3,1036.3 921.5,1038.5 920.7,1040.7 919.8,1042.9 919,1045.1 918.2,1047.3 917.3,1049.5 916.5,1051.7 915.7,1053.9 914.8,1056.1 914,1058.3 913.2,1060.5 912.3,1062.7 911.5,1064.9 910.7,1067.2 909.9,1069.4 909,1071.6 908.2,1073.8 907.4,1076 906.6,1078.2 905.8,1080.4 905,1082.6 904.2,1084.8 903.4,1087 902.5,1089.2 901.7,1091.4 900.9,1093.6 900.1,1095.8 899.3,1098 898.4,1100.2 897.6,1102.4 896.8,1104.6 895.9,1106.8 895.1,1109 894.2,1111.3 893.3,1113.5 892.4,1115.7 891.6,1117.9 890.7,1120.1 889.8,1122.3 888.9,1124.5 888,1126.7 887.1,1128.9 886.2,1131.1 885.2,1133.3 884.3,1135.5 883.3,1137.7 882.3,1139.9 881.3,1142.1 880.3,1144.3 879.2,1146.5 878.1,1148.7 877,1150.9 875.9,1153.1 874.7,1155.4 873.6,1157.6 872.4,1159.8 871.2,1162 870,1164.2 868.8,1166.4 867.5,1168.6 866.2,1170.8 864.9,1173 863.6,1175.2 865.4,1180.3 867.1,1182.8 869.4,1184.6 872.4,1186.1 876.1,1187.3 879.7,1189 883.3,1191 886.8,1193.5 890.2,1196.4 894,1198.9 898,1200.9 902.4,1202.6 907.1,1203.8 911.8,1204.7 916.5,1205.5 921.2,1205.9 925.9,1206.1 931.1,1206.1 936.9,1205.9 943.4,1205.4 950.4,1204.8 956.5,1203.9 961.6,1202.6 965.8,1201 969,1199.1 972.9,1197.2 977.7,1195.4 983.3,1193.7 989.6,1192 995,1189.8 999.5,1187 1003.8,1182.8 1009.8,1174.3 1008.1,1172.1 1006.5,1169.9 1005,1167.7 1003.5,1165.5 1002,1163.3 1000.6,1161.1 999.2,1158.9 997.8,1156.8 996.4,1154.6 995.1,1152.4 993.8,1150.2 992.5,1148 991.3,1145.8 990.1,1143.6 988.9,1141.4 987.8,1139.2 986.7,1137 985.7,1134.8 984.7,1132.6 983.7,1130.4 982.8,1128.2 981.8,1126 980.9,1123.8 980,1121.7 979.1,1119.5 978.3,1117.3 977.4,1115.1 976.5,1112.9 975.6,1110.7 974.8,1108.5 974,1106.3 973.1,1104.1 972.3,1101.9 971.5,1099.7 970.7,1097.5 970,1095.3 969.2,1093.1 968.4,1090.9 967.6,1088.7 966.9,1086.6 966.1,1084.4 965.3,1082.2 964.6,1080 963.8,1077.8 963.1,1075.6 962.3,1073.4 961.5,1071.2 960.7,1069 960,1066.8 959.2,1064.6 958.4,1062.4 957.6,1060.2 956.8,1058 956,1055.8 955.2,1053.6 954.4,1051.5 953.6,1049.3 952.8,1047.1 952,1044.9 951.2,1042.7 950.4,1040.5 949.6,1038.3 948.8,1036.1 948,1033.9 947.2,1031.7 946.4,1029.5 945.6,1027.3 944.8,1025.1 944,1022.9 943.1,1020.7 942.3,1018.5 941.5,1016.4 940.7,1014.2 939.9,1012 939.1,1009.8 938.3,1007.6 937.4,1005.4 936.6,1003.2 935.8,1001"/></clipPath>
<g fill="none" stroke="#fff" stroke-width="1.8" clip-path="url(#c13)">
<path d="M933.8,1032.7v4.2M937.8,1032.7v4.2M935.8,1042.3v4.2M933.8,1051.7v4.2M937.8,1051.7v4.2M931.8,1061.1v4.2M935.8,1061.2v4.2M939.8,1061v4.2M933.8,1070.7v4.3M937.8,1070.7v4.3M931.8,1080.3v4.3M935.8,1080.4v4.3M939.8,1080.3v4.3M929.8,1090v4.3M933.8,1090.2v4.3M937.8,1090.2v4.3M941.8,1089.9v4.3M931.8,1100v4.3M935.8,1100.1v4.3M939.8,1099.9v4.3M929.8,1109.6v4.2M933.8,1109.8v4.2M937.8,1109.8v4.2M941.8,1109.6v4.2M927.8,1119.1v4M931.8,1119.3v4M935.8,1119.4v4M939.8,1119.3v4M943.8,1119v4M929.8,1128.5v3.9M933.8,1128.6v3.9M937.8,1128.6v3.9M941.8,1128.4v3.9M927.8,1137.4v3.8M931.8,1137.6v3.8M935.8,1137.7v3.8M939.8,1137.6v3.8M943.8,1137.3v3.8M925.8,1146.1v3.7M929.8,1146.4v3.7M933.8,1146.5v3.7M937.8,1146.5v3.7M941.8,1146.3v3.7M945.8,1146v3.7M927.8,1154.8v3.4M931.8,1154.9v3.4M935.8,1155v3.4M939.8,1154.9v3.4M943.8,1154.7v3.4M925.8,1162.5v3.2M929.8,1162.8v3.2M933.8,1162.9v3.2M937.8,1162.9v3.2M941.8,1162.7v3.2M945.8,1162.4v3.2M923.8,1169.7v3.2M927.8,1170v3.2M931.8,1170.2v3.2M935.8,1170.2v3.2M939.8,1170.1v3.2M943.8,1169.9v3.2M947.8,1169.6v3.2M925.8,1176.8v3.2M929.8,1177.1v3.2M933.8,1177.1v3.2M937.8,1177.1v3.2M941.8,1177v3.2M945.8,1176.7v3.2M923.8,1183.4v3.2M927.8,1183.6v3.2M931.8,1183.8v3.2M935.8,1183.8v3.2M939.8,1183.7v3.2M943.8,1183.5v3.2M947.8,1183.2v3.2M921.8,1189.7v3.2M925.8,1190v3.2M929.8,1190.2v3.2M933.8,1190.3v3.2M937.8,1190.3v3.2M941.8,1190.1v3.2M945.8,1189.9v3.2M949.8,1189.6v3.2M923.8,1196.1v3.2M927.8,1196.4v3.2M931.8,1196.5v3.2M935.8,1196.5v3.2M939.8,1196.4v3.2M943.8,1196.3v3.2M947.8,1196v3.2M921.8,1202v3.2M925.8,1202.2v3.2M929.8,1202.4v3.2M933.8,1202.5v3.2M937.8,1202.5v3.2M941.8,1202.3v3.2M945.8,1202.1v3.2M949.8,1201.8v3.2" stroke-opacity="0.62"/>
<path d="M935.8,1023.4v4.2M931.8,1042v4.2M939.8,1042v4.2M929.8,1051.3v4.2M941.8,1051.2v4.2M927.8,1060.6v4.2M943.8,1060.5v4.2M925.8,1069.8v4.3M929.8,1070.4v4.3M941.8,1070.4v4.3M945.8,1069.7v4.3M927.8,1079.9v4.3M943.8,1079.8v4.3M925.8,1089.5v4.3M945.8,1089.4v4.3M923.8,1099.1v4.3M927.8,1099.7v4.3M943.8,1099.6v4.3M947.8,1099v4.3M921.8,1108.6v4.2M925.8,1109.3v4.2M945.8,1109.1v4.2M949.8,1108.5v4.2M919.8,1118v4M923.8,1118.6v4M947.8,1118.5v4M951.8,1117.8v4M917.8,1127v3.9M921.8,1127.7v3.9M925.8,1128.2v3.9M945.8,1128.1v3.9M949.8,1127.5v3.9M953.8,1126.8v3.9M919.8,1136.5v3.8M923.8,1137v3.8M947.8,1136.9v3.8M951.8,1136.3v3.8M955.8,1135.5v3.8M917.8,1145v3.7M921.8,1145.7v3.7M949.8,1145.5v3.7M953.8,1144.9v3.7M915.8,1153.3v3.4M919.8,1153.9v3.4M923.8,1154.4v3.4M947.8,1154.3v3.4M951.8,1153.8v3.4M955.8,1153.1v3.4M913.8,1160.9v3.2M917.8,1161.6v3.2M921.8,1162.2v3.2M949.8,1162v3.2M953.8,1161.5v3.2M957.8,1160.8v3.2M911.8,1168v3.2M915.8,1168.7v3.2M919.8,1169.3v3.2M951.8,1169.1v3.2M955.8,1168.5v3.2M959.8,1167.8v3.2M909.8,1174.7v3.2M913.8,1175.4v3.2M917.8,1176v3.2M921.8,1176.5v3.2M949.8,1176.4v3.2M953.8,1175.9v3.2M957.8,1175.2v3.2M961.8,1174.5v3.2M911.8,1181.9v3.2M915.8,1182.5v3.2M919.8,1183v3.2M951.8,1182.8v3.2M955.8,1182.3v3.2M959.8,1181.6v3.2M963.8,1180.9v3.2M909.8,1188.1v3.2M913.8,1188.7v3.2M917.8,1189.3v3.2M953.8,1189.1v3.2M957.8,1188.5v3.2M961.8,1187.9v3.2M907.8,1194v3.2M911.8,1194.8v3.2M915.8,1195.3v3.2M919.8,1195.8v3.2M951.8,1195.6v3.2M955.8,1195.1v3.2M959.8,1194.5v3.2M963.8,1193.8v3.2M905.8,1199.8v3.2M909.8,1200.5v3.2M913.8,1201.1v3.2M917.8,1201.6v3.2M953.8,1201.4v3.2M957.8,1200.9v3.2M961.8,1200.3v3.2M965.8,1199.5v3.2" stroke-opacity="0.4"/>
<path d="M935.8,1004.6v4.1M933.8,1013.8v4.1M937.8,1013.7v4.1M931.8,1022.9v4.2M939.8,1022.9v4.2M929.8,1032v4.2M941.8,1032v4.2M927.8,1041.2v4.2M943.8,1041.1v4.2M925.8,1050.4v4.2M945.8,1050.3v4.2M923.8,1059.6v4.2M947.8,1059.5v4.2M921.8,1068.8v4.3M949.8,1068.7v4.3M919.8,1078.1v4.3M923.8,1079.2v4.3M947.8,1079.1v4.3M951.8,1078v4.3M917.8,1087.6v4.3M921.8,1088.7v4.3M949.8,1088.6v4.3M953.8,1087.5v4.3M915.8,1097.1v4.3M919.8,1098.3v4.3M951.8,1098.2v4.3M955.8,1097v4.3M913.8,1106.6v4.2M917.8,1107.8v4.2M953.8,1107.6v4.2M957.8,1106.4v4.2M911.8,1115.8v4M915.8,1117.1v4M955.8,1116.9v4M959.8,1115.7v4M909.8,1124.8v3.9M913.8,1126v3.9M957.8,1125.8v3.9M961.8,1124.6v3.9M907.8,1133.4v3.8M911.8,1134.7v3.8M915.8,1135.7v3.8M959.8,1134.5v3.8M963.8,1133.3v3.8M905.8,1142v3.7M909.8,1143.2v3.7M913.8,1144.2v3.7M957.8,1144.1v3.7M961.8,1143.1v3.7M965.8,1141.8v3.7M903.8,1150.1v3.4M907.8,1151.4v3.4M911.8,1152.5v3.4M959.8,1152.3v3.4M963.8,1151.2v3.4M967.8,1150v3.4M901.8,1157.7v3.2M905.8,1159v3.2M909.8,1160.1v3.2M961.8,1159.9v3.2M965.8,1158.8v3.2M969.8,1157.5v3.2M899.8,1164.7v3.2M903.8,1166v3.2M907.8,1167.1v3.2M963.8,1166.9v3.2M967.8,1165.8v3.2M971.8,1164.5v3.2M897.8,1171.3v3.2M901.8,1172.6v3.2M905.8,1173.8v3.2M965.8,1173.5v3.2M969.8,1172.4v3.2M973.8,1171.2v3.2M895.8,1177.7v3.2M899.8,1179v3.2M903.8,1180.1v3.2M907.8,1181.1v3.2M967.8,1179.9v3.2M971.8,1178.8v3.2M975.8,1177.5v3.2M893.8,1183.8v3.2M897.8,1185.1v3.2M901.8,1186.3v3.2M905.8,1187.3v3.2M965.8,1187v3.2M969.8,1186.1v3.2M973.8,1185v3.2M977.8,1183.6v3.2M891.8,1189.7v3.2M895.8,1191.1v3.2M899.8,1192.2v3.2M903.8,1193.2v3.2M967.8,1193v3.2M971.8,1192v3.2M975.8,1190.9v3.2M979.8,1189.5v3.2M889.8,1195.4v3.2M893.8,1196.7v3.2M897.8,1197.9v3.2M901.8,1198.9v3.2M969.8,1198.7v3.2M973.8,1197.7v3.2M977.8,1196.5v3.2M981.8,1195.2v3.2" stroke-opacity="0.2"/>
</g>
<g font-family="'Liberation Sans', Arial, Helvetica, sans-serif" fill="#262626" stroke="#fff" stroke-width="0.9">
<text transform="translate(184.3,979.8) scale(1.065,1)" font-size="50.5" text-anchor="end" letter-spacing="0.6" stroke-width="0.3">0</text>
<text transform="translate(184.3,838.7) scale(1.065,1)" font-size="50.5" text-anchor="end" letter-spacing="0.6" stroke-width="0.3">0.2</text>
<text transform="translate(184.3,697.6) scale(1.065,1)" font-size="50.5" text-anchor="end" letter-spacing="0.6" stroke-width="0.3">0.4</text>
<text transform="translate(184.3,556.6) scale(1.065,1)" font-size="50.5" text-anchor="end" letter-spacing="0.6" stroke-width="0.3">0.6</text>
<text transform="translate(184.3,415.5) scale(1.065,1)" font-size="50.5" text-anchor="end" letter-spacing="0.6" stroke-width="0.3">0.8</text>
<text transform="translate(187,271.9) scale(1.065,1)" font-size="50.5" text-anchor="end" letter-spacing="0.6" stroke-width="0.3">1</text>
<text transform="translate(826.3,1372.8) scale(1.065,1)" font-size="50.5" text-anchor="start" letter-spacing="1.2" stroke-width="0.3">0</text>
<text transform="translate(1116.3,1274.9) scale(1.065,1)" font-size="50.5" text-anchor="start" letter-spacing="1.2" stroke-width="0.3">100</text>
<text transform="translate(1407.2,1177.8) scale(1.065,1)" font-size="50.5" text-anchor="start" letter-spacing="1.2" stroke-width="0.3">200</text>
<text transform="translate(751.8,1366) scale(1.065,1)" font-size="50.5" text-anchor="end" letter-spacing="1.2" stroke-width="0.3">0</text>
<text transform="translate(530.8,1238.7) scale(1.065,1)" font-size="50.5" text-anchor="end" letter-spacing="1.2" stroke-width="0.3">100</text>
<text transform="translate(306.3,1111.9) scale(1.065,1)" font-size="50.5" text-anchor="end" letter-spacing="1.2" stroke-width="0.3">200</text>
<text transform="translate(283.5,1355.9) scale(1.065,1)" font-size="53.5" text-anchor="start" letter-spacing="1.2" stroke-width="0.2">fy/pixel</text>
<text transform="translate(1169,1373.6) scale(1.065,1)" font-size="53.5" text-anchor="start" letter-spacing="1.2" stroke-width="0.2">fx/pixel</text>
<text transform="translate(70.3,624.6) scale(1.1,1) rotate(-90)" font-size="53.5" text-anchor="middle" letter-spacing="1.2" stroke-width="0">MTF</text>
</g>
</svg>
</body></html>
